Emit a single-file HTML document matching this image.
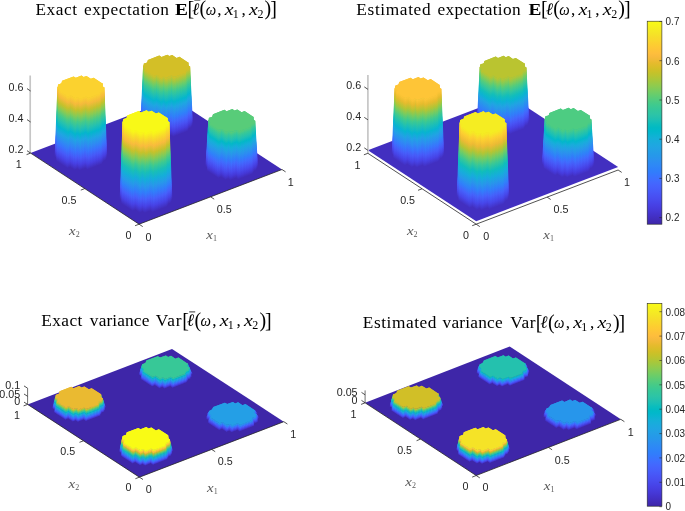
<!DOCTYPE html>
<html><head><meta charset="utf-8"><title>figure</title>
<style>
html,body{margin:0;padding:0;background:#fff}
svg{display:block}
text{font-family:"Liberation Sans",sans-serif;font-size:10.1px;fill:#262626}
text.t{font-family:"Liberation Serif",serif;fill:#000;font-size:17.3px}
text.m{font-family:"Liberation Serif",serif;font-size:12.5px;fill:#5a5a5a}
</style></head><body>
<svg width="685" height="511" viewBox="0 0 685 511">
<rect width="685" height="511" fill="#fff"/>
<defs>
<linearGradient id="sa0" gradientUnits="userSpaceOnUse"><stop offset="0" stop-color="#402bb7"/><stop offset="0.083" stop-color="#4740e4"/><stop offset="0.167" stop-color="#475af9"/><stop offset="0.25" stop-color="#3875fe"/><stop offset="0.333" stop-color="#2c8ff0"/><stop offset="0.417" stop-color="#1fa6e2"/><stop offset="0.5" stop-color="#02b7cb"/><stop offset="0.583" stop-color="#27c2ac"/><stop offset="0.667" stop-color="#4acb85"/><stop offset="0.75" stop-color="#89cb53"/><stop offset="0.833" stop-color="#c7c12a"/><stop offset="0.917" stop-color="#f6ba3b"/><stop offset="1" stop-color="#fbd22f"/></linearGradient>
<linearGradient id="sa1" gradientUnits="userSpaceOnUse"><stop offset="0" stop-color="#402bb7"/><stop offset="0.083" stop-color="#463ddf"/><stop offset="0.167" stop-color="#4853f4"/><stop offset="0.25" stop-color="#4269fe"/><stop offset="0.333" stop-color="#2f81fa"/><stop offset="0.417" stop-color="#2895ec"/><stop offset="0.5" stop-color="#1da8e0"/><stop offset="0.583" stop-color="#03b7cc"/><stop offset="0.667" stop-color="#1fc0b2"/><stop offset="0.75" stop-color="#3bc993"/><stop offset="0.833" stop-color="#69cd6b"/><stop offset="0.917" stop-color="#a1c840"/><stop offset="1" stop-color="#d3bf27"/></linearGradient>
<linearGradient id="sa2" gradientUnits="userSpaceOnUse"><stop offset="0" stop-color="#402bb7"/><stop offset="0.083" stop-color="#4743e7"/><stop offset="0.167" stop-color="#4660fc"/><stop offset="0.25" stop-color="#307ffb"/><stop offset="0.333" stop-color="#269ae9"/><stop offset="0.417" stop-color="#13b0d7"/><stop offset="0.5" stop-color="#18bfb6"/><stop offset="0.583" stop-color="#3fca8e"/><stop offset="0.667" stop-color="#83cc57"/><stop offset="0.75" stop-color="#c9c129"/><stop offset="0.833" stop-color="#fabb3d"/><stop offset="0.917" stop-color="#f8d92b"/><stop offset="1" stop-color="#f8f917"/></linearGradient>
<linearGradient id="sa3" gradientUnits="userSpaceOnUse"><stop offset="0" stop-color="#402bb7"/><stop offset="0.083" stop-color="#4539d9"/><stop offset="0.167" stop-color="#484aee"/><stop offset="0.25" stop-color="#475cfa"/><stop offset="0.333" stop-color="#3f6eff"/><stop offset="0.417" stop-color="#2f81fa"/><stop offset="0.5" stop-color="#2a92ee"/><stop offset="0.583" stop-color="#22a1e4"/><stop offset="0.667" stop-color="#15afd9"/><stop offset="0.75" stop-color="#01b9c6"/><stop offset="0.833" stop-color="#21c1b0"/><stop offset="0.917" stop-color="#37c898"/><stop offset="1" stop-color="#58cc79"/></linearGradient>
<linearGradient id="u1" href="#sa1" x1="0" y1="123.6" x2="0" y2="66.3"/>
<linearGradient id="g2" href="#sa1" x1="190.6" y1="120" x2="188.1" y2="62.6"/>
<linearGradient id="g3" href="#sa1" x1="141.8" y1="120.7" x2="144.3" y2="63.5"/>
<linearGradient id="g4" href="#sa1" x1="190.3" y1="121.3" x2="187.8" y2="63.8"/>
<linearGradient id="g5" href="#sa1" x1="141.5" y1="121.9" x2="144" y2="64.8"/>
<linearGradient id="g6" href="#sa1" x1="164.7" y1="104.5" x2="189.6" y2="66.5"/>
<linearGradient id="g7" href="#sa1" x1="190.3" y1="121.3" x2="215.2" y2="83.3"/>
<linearGradient id="g8" href="#sa1" x1="141.1" y1="123.2" x2="143.6" y2="66.1"/>
<linearGradient id="g9" href="#sa1" x1="192.1" y1="123.9" x2="189.6" y2="66.5"/>
<linearGradient id="g10" href="#sa1" x1="143" y1="125.9" x2="170.6" y2="83.7"/>
<linearGradient id="g11" href="#sa1" x1="116" y1="108.2" x2="143.6" y2="66.1"/>
<linearGradient id="g12" href="#sa1" x1="191.8" y1="125.2" x2="189.2" y2="67.7"/>
<linearGradient id="g13" href="#sa1" x1="143" y1="125.9" x2="145.5" y2="68.7"/>
<linearGradient id="g14" href="#sa1" x1="191.4" y1="126.5" x2="188.9" y2="69"/>
<linearGradient id="g15" href="#sa1" x1="142.6" y1="127.1" x2="145.1" y2="70"/>
<linearGradient id="g16" href="#sa1" x1="208.8" y1="120.9" x2="188.9" y2="69"/>
<linearGradient id="g17" href="#sa1" x1="188.2" y1="128.8" x2="168.3" y2="76.9"/>
<linearGradient id="g18" href="#sa1" x1="144.4" y1="129.8" x2="172.1" y2="87.6"/>
<linearGradient id="g19" href="#sa1" x1="117.5" y1="112.1" x2="145.1" y2="70"/>
<linearGradient id="g20" href="#sa1" x1="188.2" y1="128.8" x2="185.7" y2="71.4"/>
<linearGradient id="g21" href="#sa1" x1="146.6" y1="131.2" x2="174.2" y2="89.1"/>
<linearGradient id="g22" href="#sa1" x1="119.7" y1="113.6" x2="147.3" y2="71.4"/>
<linearGradient id="g23" href="#sa1" x1="187.9" y1="130.1" x2="185.4" y2="72.6"/>
<linearGradient id="g24" href="#sa1" x1="205.2" y1="124.5" x2="185.4" y2="72.6"/>
<linearGradient id="g25" href="#sa1" x1="184.7" y1="132.4" x2="164.8" y2="80.5"/>
<linearGradient id="g26" href="#sa1" x1="148.8" y1="132.6" x2="176.4" y2="90.5"/>
<linearGradient id="g27" href="#sa1" x1="121.8" y1="115" x2="149.5" y2="72.8"/>
<linearGradient id="g28" href="#sa1" x1="202.4" y1="125.6" x2="182.5" y2="73.7"/>
<linearGradient id="g29" href="#sa1" x1="181.8" y1="133.5" x2="161.9" y2="81.6"/>
<linearGradient id="g30" href="#sa1" x1="151" y1="134.1" x2="178.6" y2="91.9"/>
<linearGradient id="g31" href="#sa1" x1="124" y1="116.4" x2="151.6" y2="74.3"/>
<linearGradient id="g32" href="#sa1" x1="156" y1="134.4" x2="183.6" y2="92.2"/>
<linearGradient id="g33" href="#sa1" x1="156" y1="134.4" x2="136.1" y2="82.5"/>
<linearGradient id="g34" href="#sa1" x1="199.5" y1="126.7" x2="179.6" y2="74.8"/>
<linearGradient id="g35" href="#sa1" x1="179" y1="134.6" x2="159.1" y2="82.7"/>
<linearGradient id="g36" href="#sa1" x1="171.1" y1="135.4" x2="198.7" y2="93.2"/>
<linearGradient id="g37" href="#sa1" x1="171.1" y1="135.4" x2="151.2" y2="83.4"/>
<linearGradient id="g38" href="#sa1" x1="173.7" y1="127.6" x2="153.8" y2="75.7"/>
<linearGradient id="g39" href="#sa1" x1="126.2" y1="117.8" x2="153.8" y2="75.7"/>
<linearGradient id="g40" href="#sa1" x1="196.7" y1="127.8" x2="176.8" y2="75.9"/>
<linearGradient id="g41" href="#sa1" x1="176.1" y1="135.7" x2="156.2" y2="83.8"/>
<linearGradient id="g42" href="#sa1" x1="158.2" y1="135.8" x2="185.8" y2="93.7"/>
<linearGradient id="g43" href="#sa1" x1="131.2" y1="118.2" x2="158.8" y2="76"/>
<linearGradient id="g44" href="#sa1" x1="163.2" y1="136.1" x2="190.8" y2="94"/>
<linearGradient id="g45" href="#sa1" x1="163.2" y1="136.1" x2="143.3" y2="84.2"/>
<linearGradient id="g46" href="#sa1" x1="188.8" y1="128.6" x2="168.9" y2="76.7"/>
<linearGradient id="g47" href="#sa1" x1="168.2" y1="136.5" x2="148.3" y2="84.5"/>
<linearGradient id="g48" href="#sa1" x1="193.8" y1="128.9" x2="173.9" y2="77"/>
<linearGradient id="g49" href="#sa1" x1="146.3" y1="119.1" x2="173.9" y2="77"/>
<linearGradient id="g50" href="#sa1" x1="180.9" y1="129.4" x2="161" y2="77.4"/>
<linearGradient id="g51" href="#sa1" x1="133.4" y1="119.6" x2="161" y2="77.4"/>
<linearGradient id="g52" href="#sa1" x1="185.9" y1="129.7" x2="166" y2="77.8"/>
<linearGradient id="g53" href="#sa1" x1="138.4" y1="119.9" x2="166" y2="77.8"/>
<linearGradient id="u54" href="#sa0" x1="0" y1="156.4" x2="0" y2="87.1"/>
<linearGradient id="g55" href="#sa0" x1="104.9" y1="152.8" x2="102.4" y2="83.4"/>
<linearGradient id="g56" href="#sa0" x1="56.1" y1="153.5" x2="58.6" y2="84.4"/>
<linearGradient id="g57" href="#sa0" x1="104.5" y1="154.1" x2="102" y2="84.7"/>
<linearGradient id="g58" href="#sa0" x1="55.7" y1="154.7" x2="58.3" y2="85.7"/>
<linearGradient id="g59" href="#sa0" x1="73.5" y1="133.7" x2="103.9" y2="87.4"/>
<linearGradient id="g60" href="#sa0" x1="104.5" y1="154.1" x2="134.9" y2="107.7"/>
<linearGradient id="g61" href="#sa0" x1="55.4" y1="156" x2="57.9" y2="86.9"/>
<linearGradient id="g62" href="#sa0" x1="106.4" y1="156.8" x2="103.9" y2="87.4"/>
<linearGradient id="g63" href="#sa0" x1="57.2" y1="158.7" x2="90.3" y2="108.2"/>
<linearGradient id="g64" href="#sa0" x1="24.8" y1="137.4" x2="57.9" y2="86.9"/>
<linearGradient id="g65" href="#sa0" x1="106" y1="158" x2="103.5" y2="88.6"/>
<linearGradient id="g66" href="#sa0" x1="57.2" y1="158.7" x2="59.7" y2="89.6"/>
<linearGradient id="g67" href="#sa0" x1="105.7" y1="159.3" x2="103.2" y2="89.9"/>
<linearGradient id="g68" href="#sa0" x1="56.9" y1="159.9" x2="59.4" y2="90.9"/>
<linearGradient id="g69" href="#sa0" x1="127" y1="152.2" x2="103.2" y2="89.9"/>
<linearGradient id="g70" href="#sa0" x1="102.5" y1="161.6" x2="78.6" y2="99.3"/>
<linearGradient id="g71" href="#sa0" x1="58.7" y1="162.6" x2="91.8" y2="112.1"/>
<linearGradient id="g72" href="#sa0" x1="26.3" y1="141.4" x2="59.4" y2="90.9"/>
<linearGradient id="g73" href="#sa0" x1="102.5" y1="161.6" x2="100" y2="92.2"/>
<linearGradient id="g74" href="#sa0" x1="60.9" y1="164" x2="94" y2="113.5"/>
<linearGradient id="g75" href="#sa0" x1="28.5" y1="142.8" x2="61.6" y2="92.3"/>
<linearGradient id="g76" href="#sa0" x1="102.1" y1="162.9" x2="99.6" y2="93.5"/>
<linearGradient id="g77" href="#sa0" x1="123.5" y1="155.8" x2="99.6" y2="93.5"/>
<linearGradient id="g78" href="#sa0" x1="98.9" y1="165.2" x2="75.1" y2="102.9"/>
<linearGradient id="g79" href="#sa0" x1="63" y1="165.5" x2="96.1" y2="114.9"/>
<linearGradient id="g80" href="#sa0" x1="30.6" y1="144.2" x2="63.7" y2="93.7"/>
<linearGradient id="g81" href="#sa0" x1="120.6" y1="156.9" x2="96.8" y2="94.6"/>
<linearGradient id="g82" href="#sa0" x1="96.1" y1="166.3" x2="72.2" y2="104"/>
<linearGradient id="g83" href="#sa0" x1="65.2" y1="166.9" x2="98.3" y2="116.4"/>
<linearGradient id="g84" href="#sa0" x1="32.8" y1="145.6" x2="65.9" y2="95.1"/>
<linearGradient id="g85" href="#sa0" x1="70.2" y1="167.2" x2="103.3" y2="116.7"/>
<linearGradient id="g86" href="#sa0" x1="70.2" y1="167.2" x2="46.4" y2="104.9"/>
<linearGradient id="g87" href="#sa0" x1="117.8" y1="158" x2="93.9" y2="95.7"/>
<linearGradient id="g88" href="#sa0" x1="93.2" y1="167.4" x2="69.3" y2="105.1"/>
<linearGradient id="g89" href="#sa0" x1="85.3" y1="168.2" x2="118.4" y2="117.7"/>
<linearGradient id="g90" href="#sa0" x1="85.3" y1="168.2" x2="61.5" y2="105.8"/>
<linearGradient id="g91" href="#sa0" x1="91.9" y1="158.9" x2="68.1" y2="96.5"/>
<linearGradient id="g92" href="#sa0" x1="35" y1="147.1" x2="68.1" y2="96.5"/>
<linearGradient id="g93" href="#sa0" x1="114.9" y1="159.1" x2="91" y2="96.8"/>
<linearGradient id="g94" href="#sa0" x1="90.4" y1="168.5" x2="66.5" y2="106.2"/>
<linearGradient id="g95" href="#sa0" x1="72.4" y1="168.6" x2="105.5" y2="118.1"/>
<linearGradient id="g96" href="#sa0" x1="40" y1="147.4" x2="73.1" y2="96.9"/>
<linearGradient id="g97" href="#sa0" x1="77.4" y1="169" x2="110.5" y2="118.4"/>
<linearGradient id="g98" href="#sa0" x1="77.4" y1="169" x2="53.6" y2="106.6"/>
<linearGradient id="g99" href="#sa0" x1="107" y1="159.9" x2="83.2" y2="97.5"/>
<linearGradient id="g100" href="#sa0" x1="82.5" y1="169.3" x2="58.6" y2="106.9"/>
<linearGradient id="g101" href="#sa0" x1="112.1" y1="160.2" x2="88.2" y2="97.9"/>
<linearGradient id="g102" href="#sa0" x1="55.1" y1="148.4" x2="88.2" y2="97.9"/>
<linearGradient id="g103" href="#sa0" x1="99.1" y1="160.7" x2="75.3" y2="98.3"/>
<linearGradient id="g104" href="#sa0" x1="42.2" y1="148.8" x2="75.3" y2="98.3"/>
<linearGradient id="g105" href="#sa0" x1="104.2" y1="161" x2="80.3" y2="98.6"/>
<linearGradient id="g106" href="#sa0" x1="47.2" y1="149.1" x2="80.3" y2="98.6"/>
<linearGradient id="u107" href="#sa3" x1="0" y1="166.2" x2="0" y2="120.6"/>
<linearGradient id="g108" href="#sa3" x1="255.7" y1="162.7" x2="253.2" y2="116.9"/>
<linearGradient id="g109" href="#sa3" x1="206.9" y1="163.3" x2="209.4" y2="117.8"/>
<linearGradient id="g110" href="#sa3" x1="255.4" y1="163.9" x2="252.9" y2="118.1"/>
<linearGradient id="g111" href="#sa3" x1="206.6" y1="164.6" x2="209.1" y2="119.1"/>
<linearGradient id="g112" href="#sa3" x1="235.1" y1="150.7" x2="254.7" y2="120.8"/>
<linearGradient id="g113" href="#sa3" x1="255.4" y1="163.9" x2="274.9" y2="134.1"/>
<linearGradient id="g114" href="#sa3" x1="206.2" y1="165.8" x2="208.8" y2="120.4"/>
<linearGradient id="g115" href="#sa3" x1="257.2" y1="166.6" x2="254.7" y2="120.8"/>
<linearGradient id="g116" href="#sa3" x1="208.1" y1="168.5" x2="230.3" y2="134.5"/>
<linearGradient id="g117" href="#sa3" x1="186.5" y1="154.4" x2="208.8" y2="120.4"/>
<linearGradient id="g118" href="#sa3" x1="256.9" y1="167.9" x2="254.3" y2="122.1"/>
<linearGradient id="g119" href="#sa3" x1="208.1" y1="168.5" x2="210.6" y2="123"/>
<linearGradient id="g120" href="#sa3" x1="256.5" y1="169.1" x2="254" y2="123.3"/>
<linearGradient id="g121" href="#sa3" x1="207.7" y1="169.8" x2="210.2" y2="124.3"/>
<linearGradient id="g122" href="#sa3" x1="270" y1="165.1" x2="254" y2="123.3"/>
<linearGradient id="g123" href="#sa3" x1="253.3" y1="171.5" x2="237.3" y2="129.7"/>
<linearGradient id="g124" href="#sa3" x1="209.5" y1="172.5" x2="231.8" y2="138.4"/>
<linearGradient id="g125" href="#sa3" x1="187.9" y1="158.3" x2="210.2" y2="124.3"/>
<linearGradient id="g126" href="#sa3" x1="253.3" y1="171.5" x2="250.8" y2="125.7"/>
<linearGradient id="g127" href="#sa3" x1="211.7" y1="173.9" x2="234" y2="139.9"/>
<linearGradient id="g128" href="#sa3" x1="190.1" y1="159.7" x2="212.4" y2="125.7"/>
<linearGradient id="g129" href="#sa3" x1="253" y1="172.7" x2="250.5" y2="126.9"/>
<linearGradient id="g130" href="#sa3" x1="266.4" y1="168.7" x2="250.5" y2="126.9"/>
<linearGradient id="g131" href="#sa3" x1="249.8" y1="175.1" x2="233.8" y2="133.3"/>
<linearGradient id="g132" href="#sa3" x1="213.9" y1="175.3" x2="236.2" y2="141.3"/>
<linearGradient id="g133" href="#sa3" x1="192.3" y1="161.1" x2="214.6" y2="127.1"/>
<linearGradient id="g134" href="#sa3" x1="263.6" y1="169.8" x2="247.6" y2="128"/>
<linearGradient id="g135" href="#sa3" x1="246.9" y1="176.2" x2="230.9" y2="134.4"/>
<linearGradient id="g136" href="#sa3" x1="216.1" y1="176.7" x2="238.3" y2="142.7"/>
<linearGradient id="g137" href="#sa3" x1="194.5" y1="162.6" x2="216.7" y2="128.6"/>
<linearGradient id="g138" href="#sa3" x1="221.1" y1="177" x2="243.4" y2="143"/>
<linearGradient id="g139" href="#sa3" x1="221.1" y1="177" x2="205.1" y2="135.3"/>
<linearGradient id="g140" href="#sa3" x1="260.7" y1="170.9" x2="244.7" y2="129.1"/>
<linearGradient id="g141" href="#sa3" x1="244.1" y1="177.3" x2="228.1" y2="135.5"/>
<linearGradient id="g142" href="#sa3" x1="236.2" y1="178" x2="258.5" y2="144"/>
<linearGradient id="g143" href="#sa3" x1="236.2" y1="178" x2="220.2" y2="136.3"/>
<linearGradient id="g144" href="#sa3" x1="234.9" y1="171.8" x2="218.9" y2="130"/>
<linearGradient id="g145" href="#sa3" x1="196.6" y1="164" x2="218.9" y2="130"/>
<linearGradient id="g146" href="#sa3" x1="257.9" y1="172" x2="241.9" y2="130.2"/>
<linearGradient id="g147" href="#sa3" x1="241.2" y1="178.4" x2="225.2" y2="136.6"/>
<linearGradient id="g148" href="#sa3" x1="223.3" y1="178.5" x2="245.5" y2="144.5"/>
<linearGradient id="g149" href="#sa3" x1="201.7" y1="164.3" x2="223.9" y2="130.3"/>
<linearGradient id="g150" href="#sa3" x1="228.3" y1="178.8" x2="250.6" y2="144.8"/>
<linearGradient id="g151" href="#sa3" x1="228.3" y1="178.8" x2="212.3" y2="137"/>
<linearGradient id="g152" href="#sa3" x1="250" y1="172.7" x2="234" y2="131"/>
<linearGradient id="g153" href="#sa3" x1="233.3" y1="179.1" x2="217.3" y2="137.4"/>
<linearGradient id="g154" href="#sa3" x1="255" y1="173.1" x2="239" y2="131.3"/>
<linearGradient id="g155" href="#sa3" x1="216.7" y1="165.3" x2="239" y2="131.3"/>
<linearGradient id="g156" href="#sa3" x1="242.1" y1="173.5" x2="226.1" y2="131.7"/>
<linearGradient id="g157" href="#sa3" x1="203.8" y1="165.7" x2="226.1" y2="131.7"/>
<linearGradient id="g158" href="#sa3" x1="247.1" y1="173.8" x2="231.1" y2="132.1"/>
<linearGradient id="g159" href="#sa3" x1="208.9" y1="166.1" x2="231.1" y2="132.1"/>
<linearGradient id="u160" href="#sa2" x1="0" y1="199" x2="0" y2="121.9"/>
<linearGradient id="g161" href="#sa2" x1="170" y1="195.5" x2="167.5" y2="118.2"/>
<linearGradient id="g162" href="#sa2" x1="121.2" y1="196.1" x2="123.7" y2="119.1"/>
<linearGradient id="g163" href="#sa2" x1="169.6" y1="196.7" x2="167.1" y2="119.4"/>
<linearGradient id="g164" href="#sa2" x1="120.8" y1="197.4" x2="123.4" y2="120.4"/>
<linearGradient id="g165" href="#sa2" x1="134.9" y1="174" x2="168.9" y2="122.1"/>
<linearGradient id="g166" href="#sa2" x1="169.6" y1="196.7" x2="203.7" y2="144.8"/>
<linearGradient id="g167" href="#sa2" x1="120.5" y1="198.7" x2="123" y2="121.7"/>
<linearGradient id="g168" href="#sa2" x1="171.5" y1="199.4" x2="168.9" y2="122.1"/>
<linearGradient id="g169" href="#sa2" x1="122.3" y1="201.3" x2="159.1" y2="145.3"/>
<linearGradient id="g170" href="#sa2" x1="86.3" y1="177.7" x2="123" y2="121.7"/>
<linearGradient id="g171" href="#sa2" x1="171.1" y1="200.7" x2="168.6" y2="123.4"/>
<linearGradient id="g172" href="#sa2" x1="122.3" y1="201.3" x2="124.8" y2="124.3"/>
<linearGradient id="g173" href="#sa2" x1="170.8" y1="201.9" x2="168.3" y2="124.6"/>
<linearGradient id="g174" href="#sa2" x1="122" y1="202.6" x2="124.5" y2="125.6"/>
<linearGradient id="g175" href="#sa2" x1="194.8" y1="193.9" x2="168.3" y2="124.6"/>
<linearGradient id="g176" href="#sa2" x1="167.6" y1="204.3" x2="141.1" y2="135"/>
<linearGradient id="g177" href="#sa2" x1="123.8" y1="205.3" x2="160.5" y2="149.2"/>
<linearGradient id="g178" href="#sa2" x1="87.8" y1="181.7" x2="124.5" y2="125.6"/>
<linearGradient id="g179" href="#sa2" x1="167.6" y1="204.3" x2="165.1" y2="127"/>
<linearGradient id="g180" href="#sa2" x1="126" y1="206.7" x2="162.7" y2="150.6"/>
<linearGradient id="g181" href="#sa2" x1="89.9" y1="183.1" x2="126.7" y2="127"/>
<linearGradient id="g182" href="#sa2" x1="167.2" y1="205.5" x2="164.7" y2="128.2"/>
<linearGradient id="g183" href="#sa2" x1="191.2" y1="197.5" x2="164.7" y2="128.2"/>
<linearGradient id="g184" href="#sa2" x1="164" y1="207.9" x2="137.5" y2="138.6"/>
<linearGradient id="g185" href="#sa2" x1="128.1" y1="208.1" x2="164.9" y2="152.1"/>
<linearGradient id="g186" href="#sa2" x1="92.1" y1="184.5" x2="128.8" y2="128.4"/>
<linearGradient id="g187" href="#sa2" x1="188.4" y1="198.6" x2="161.9" y2="129.3"/>
<linearGradient id="g188" href="#sa2" x1="161.2" y1="209" x2="134.7" y2="139.7"/>
<linearGradient id="g189" href="#sa2" x1="130.3" y1="209.5" x2="167" y2="153.5"/>
<linearGradient id="g190" href="#sa2" x1="94.3" y1="185.9" x2="131" y2="129.9"/>
<linearGradient id="g191" href="#sa2" x1="135.3" y1="209.9" x2="172.1" y2="153.8"/>
<linearGradient id="g192" href="#sa2" x1="135.3" y1="209.9" x2="108.8" y2="140.6"/>
<linearGradient id="g193" href="#sa2" x1="185.5" y1="199.7" x2="159" y2="130.4"/>
<linearGradient id="g194" href="#sa2" x1="158.3" y1="210.1" x2="131.8" y2="140.8"/>
<linearGradient id="g195" href="#sa2" x1="150.4" y1="210.9" x2="187.2" y2="154.8"/>
<linearGradient id="g196" href="#sa2" x1="150.4" y1="210.9" x2="123.9" y2="141.6"/>
<linearGradient id="g197" href="#sa2" x1="159.7" y1="200.6" x2="133.2" y2="131.3"/>
<linearGradient id="g198" href="#sa2" x1="96.4" y1="187.3" x2="133.2" y2="131.3"/>
<linearGradient id="g199" href="#sa2" x1="182.7" y1="200.8" x2="156.1" y2="131.5"/>
<linearGradient id="g200" href="#sa2" x1="155.5" y1="211.2" x2="128.9" y2="141.9"/>
<linearGradient id="g201" href="#sa2" x1="137.5" y1="211.3" x2="174.2" y2="155.2"/>
<linearGradient id="g202" href="#sa2" x1="101.5" y1="187.7" x2="138.2" y2="131.6"/>
<linearGradient id="g203" href="#sa2" x1="142.5" y1="211.6" x2="179.3" y2="155.6"/>
<linearGradient id="g204" href="#sa2" x1="142.5" y1="211.6" x2="116" y2="142.4"/>
<linearGradient id="g205" href="#sa2" x1="174.8" y1="201.5" x2="148.3" y2="132.3"/>
<linearGradient id="g206" href="#sa2" x1="147.6" y1="211.9" x2="121.1" y2="142.7"/>
<linearGradient id="g207" href="#sa2" x1="179.8" y1="201.9" x2="153.3" y2="132.6"/>
<linearGradient id="g208" href="#sa2" x1="116.6" y1="188.7" x2="153.3" y2="132.6"/>
<linearGradient id="g209" href="#sa2" x1="166.9" y1="202.3" x2="140.4" y2="133"/>
<linearGradient id="g210" href="#sa2" x1="103.6" y1="189.1" x2="140.4" y2="133"/>
<linearGradient id="g211" href="#sa2" x1="171.9" y1="202.6" x2="145.4" y2="133.4"/>
<linearGradient id="g212" href="#sa2" x1="108.7" y1="189.4" x2="145.4" y2="133.4"/>
<linearGradient id="sb0" gradientUnits="userSpaceOnUse"><stop offset="0" stop-color="#422fc0"/><stop offset="0.083" stop-color="#4744e8"/><stop offset="0.167" stop-color="#475cfa"/><stop offset="0.25" stop-color="#3876fe"/><stop offset="0.333" stop-color="#2c8ff1"/><stop offset="0.417" stop-color="#20a4e3"/><stop offset="0.5" stop-color="#06b5cf"/><stop offset="0.583" stop-color="#1fc0b2"/><stop offset="0.667" stop-color="#3eca8f"/><stop offset="0.75" stop-color="#75cc61"/><stop offset="0.833" stop-color="#b3c534"/><stop offset="0.917" stop-color="#e6bb2d"/><stop offset="1" stop-color="#fec537"/></linearGradient>
<linearGradient id="sb1" gradientUnits="userSpaceOnUse"><stop offset="0" stop-color="#422fc0"/><stop offset="0.083" stop-color="#4740e3"/><stop offset="0.167" stop-color="#4854f6"/><stop offset="0.25" stop-color="#426afe"/><stop offset="0.333" stop-color="#3080fa"/><stop offset="0.417" stop-color="#2993ed"/><stop offset="0.5" stop-color="#20a5e2"/><stop offset="0.583" stop-color="#0ab4d2"/><stop offset="0.667" stop-color="#11beba"/><stop offset="0.75" stop-color="#32c69f"/><stop offset="0.833" stop-color="#54cc7c"/><stop offset="0.917" stop-color="#87cb54"/><stop offset="1" stop-color="#bac430"/></linearGradient>
<linearGradient id="sb2" gradientUnits="userSpaceOnUse"><stop offset="0" stop-color="#422fc0"/><stop offset="0.083" stop-color="#4747eb"/><stop offset="0.167" stop-color="#4562fc"/><stop offset="0.25" stop-color="#3080fb"/><stop offset="0.333" stop-color="#2699e9"/><stop offset="0.417" stop-color="#15afd9"/><stop offset="0.5" stop-color="#0fbeba"/><stop offset="0.583" stop-color="#39c895"/><stop offset="0.667" stop-color="#73cd63"/><stop offset="0.75" stop-color="#b8c431"/><stop offset="0.833" stop-color="#eeba34"/><stop offset="0.917" stop-color="#fdce31"/><stop offset="1" stop-color="#f5ed22"/></linearGradient>
<linearGradient id="sb3" gradientUnits="userSpaceOnUse"><stop offset="0" stop-color="#422fc0"/><stop offset="0.083" stop-color="#463cdf"/><stop offset="0.167" stop-color="#484df0"/><stop offset="0.25" stop-color="#465efb"/><stop offset="0.333" stop-color="#3e70ff"/><stop offset="0.417" stop-color="#2f82f9"/><stop offset="0.5" stop-color="#2a92ee"/><stop offset="0.583" stop-color="#23a1e4"/><stop offset="0.667" stop-color="#17aeda"/><stop offset="0.75" stop-color="#01b8c9"/><stop offset="0.833" stop-color="#1bc0b4"/><stop offset="0.917" stop-color="#33c69e"/><stop offset="1" stop-color="#4dcc82"/></linearGradient>
<linearGradient id="u213" href="#sb1" x1="0" y1="121.1" x2="0" y2="67.3"/>
<linearGradient id="g214" href="#sb1" x1="481.6" y1="115.9" x2="464.4" y2="70.8"/>
<linearGradient id="g215" href="#sb1" x1="498.1" y1="109.5" x2="480.9" y2="64.5"/>
<linearGradient id="g216" href="#sb1" x1="526.9" y1="117.6" x2="524.4" y2="63.6"/>
<linearGradient id="g217" href="#sb1" x1="478.4" y1="118.2" x2="480.9" y2="64.5"/>
<linearGradient id="g218" href="#sb1" x1="526.6" y1="118.9" x2="524.1" y2="64.9"/>
<linearGradient id="g219" href="#sb1" x1="478.1" y1="119.4" x2="480.6" y2="65.8"/>
<linearGradient id="g220" href="#sb1" x1="502.6" y1="103.2" x2="525.9" y2="67.5"/>
<linearGradient id="g221" href="#sb1" x1="526.6" y1="118.9" x2="549.9" y2="83.2"/>
<linearGradient id="g222" href="#sb1" x1="477.7" y1="120.7" x2="480.2" y2="67"/>
<linearGradient id="g223" href="#sb1" x1="528.4" y1="121.5" x2="525.9" y2="67.5"/>
<linearGradient id="g224" href="#sb1" x1="479.6" y1="123.4" x2="505.6" y2="83.6"/>
<linearGradient id="g225" href="#sb1" x1="454.2" y1="106.8" x2="480.2" y2="67"/>
<linearGradient id="g226" href="#sb1" x1="528.1" y1="122.8" x2="525.6" y2="68.8"/>
<linearGradient id="g227" href="#sb1" x1="479.6" y1="123.4" x2="482.1" y2="69.7"/>
<linearGradient id="g228" href="#sb1" x1="527.8" y1="124" x2="525.3" y2="70"/>
<linearGradient id="g229" href="#sb1" x1="479.2" y1="124.6" x2="481.7" y2="71"/>
<linearGradient id="g230" href="#sb1" x1="544" y1="119" x2="525.3" y2="70"/>
<linearGradient id="g231" href="#sb1" x1="524.6" y1="126.4" x2="505.9" y2="77.4"/>
<linearGradient id="g232" href="#sb1" x1="481" y1="127.3" x2="507.1" y2="87.5"/>
<linearGradient id="g233" href="#sb1" x1="455.7" y1="110.7" x2="481.7" y2="71"/>
<linearGradient id="g234" href="#sb1" x1="524.6" y1="126.4" x2="522.1" y2="72.4"/>
<linearGradient id="g235" href="#sb1" x1="483.2" y1="128.7" x2="509.2" y2="89"/>
<linearGradient id="g236" href="#sb1" x1="457.9" y1="112.1" x2="483.9" y2="72.4"/>
<linearGradient id="g237" href="#sb1" x1="524.3" y1="127.6" x2="521.8" y2="73.6"/>
<linearGradient id="g238" href="#sb1" x1="540.4" y1="122.6" x2="521.8" y2="73.6"/>
<linearGradient id="g239" href="#sb1" x1="521.1" y1="130" x2="502.4" y2="81"/>
<linearGradient id="g240" href="#sb1" x1="485.4" y1="130.1" x2="511.4" y2="90.4"/>
<linearGradient id="g241" href="#sb1" x1="460" y1="113.5" x2="486.1" y2="73.8"/>
<linearGradient id="g242" href="#sb1" x1="537.6" y1="123.6" x2="518.9" y2="74.7"/>
<linearGradient id="g243" href="#sb1" x1="518.2" y1="131" x2="499.5" y2="82.1"/>
<linearGradient id="g244" href="#sb1" x1="487.5" y1="131.5" x2="513.6" y2="91.8"/>
<linearGradient id="g245" href="#sb1" x1="462.2" y1="114.9" x2="488.2" y2="75.2"/>
<linearGradient id="g246" href="#sb1" x1="492.6" y1="131.9" x2="518.6" y2="92.1"/>
<linearGradient id="g247" href="#sb1" x1="492.6" y1="131.9" x2="473.9" y2="82.9"/>
<linearGradient id="g248" href="#sb1" x1="534.8" y1="124.7" x2="516.1" y2="75.8"/>
<linearGradient id="g249" href="#sb1" x1="515.4" y1="132.1" x2="496.7" y2="83.2"/>
<linearGradient id="g250" href="#sb1" x1="507.6" y1="132.9" x2="533.6" y2="93.1"/>
<linearGradient id="g251" href="#sb1" x1="507.6" y1="132.9" x2="488.9" y2="83.9"/>
<linearGradient id="g252" href="#sb1" x1="509.1" y1="125.6" x2="490.4" y2="76.6"/>
<linearGradient id="g253" href="#sb1" x1="464.4" y1="116.4" x2="490.4" y2="76.6"/>
<linearGradient id="g254" href="#sb1" x1="531.9" y1="125.8" x2="513.2" y2="76.9"/>
<linearGradient id="g255" href="#sb1" x1="512.6" y1="133.2" x2="493.9" y2="84.3"/>
<linearGradient id="g256" href="#sb1" x1="494.7" y1="133.3" x2="520.7" y2="93.5"/>
<linearGradient id="g257" href="#sb1" x1="469.4" y1="116.7" x2="495.4" y2="77"/>
<linearGradient id="g258" href="#sb1" x1="499.7" y1="133.6" x2="525.7" y2="93.9"/>
<linearGradient id="g259" href="#sb1" x1="499.7" y1="133.6" x2="481" y2="84.7"/>
<linearGradient id="g260" href="#sb1" x1="524.1" y1="126.6" x2="505.4" y2="77.6"/>
<linearGradient id="g261" href="#sb1" x1="504.7" y1="134" x2="486" y2="85"/>
<linearGradient id="g262" href="#sb1" x1="529.1" y1="126.9" x2="510.4" y2="78"/>
<linearGradient id="g263" href="#sb1" x1="484.4" y1="117.7" x2="510.4" y2="78"/>
<linearGradient id="g264" href="#sb1" x1="516.2" y1="127.3" x2="497.6" y2="78.4"/>
<linearGradient id="g265" href="#sb1" x1="471.5" y1="118.1" x2="497.6" y2="78.4"/>
<linearGradient id="g266" href="#sb1" x1="521.3" y1="127.6" x2="502.6" y2="78.7"/>
<linearGradient id="g267" href="#sb1" x1="476.5" y1="118.5" x2="502.6" y2="78.7"/>
<linearGradient id="u268" href="#sb0" x1="0" y1="153.6" x2="0" y2="88.5"/>
<linearGradient id="g269" href="#sb0" x1="396.4" y1="148.4" x2="375.5" y2="93.5"/>
<linearGradient id="g270" href="#sb0" x1="416.7" y1="140.6" x2="395.8" y2="85.8"/>
<linearGradient id="g271" href="#sb0" x1="441.8" y1="150.1" x2="439.3" y2="84.9"/>
<linearGradient id="g272" href="#sb0" x1="393.3" y1="150.7" x2="395.8" y2="85.8"/>
<linearGradient id="g273" href="#sb0" x1="441.5" y1="151.4" x2="439" y2="86.1"/>
<linearGradient id="g274" href="#sb0" x1="392.9" y1="152" x2="395.4" y2="87"/>
<linearGradient id="g275" href="#sb0" x1="412.3" y1="132.3" x2="440.8" y2="88.8"/>
<linearGradient id="g276" href="#sb0" x1="441.5" y1="151.4" x2="470" y2="107.9"/>
<linearGradient id="g277" href="#sb0" x1="392.6" y1="153.2" x2="395.1" y2="88.3"/>
<linearGradient id="g278" href="#sb0" x1="443.3" y1="154.1" x2="440.8" y2="88.8"/>
<linearGradient id="g279" href="#sb0" x1="394.4" y1="155.9" x2="425.6" y2="108.2"/>
<linearGradient id="g280" href="#sb0" x1="363.9" y1="135.9" x2="395.1" y2="88.3"/>
<linearGradient id="g281" href="#sb0" x1="443" y1="155.3" x2="440.5" y2="90"/>
<linearGradient id="g282" href="#sb0" x1="394.4" y1="155.9" x2="396.9" y2="90.9"/>
<linearGradient id="g283" href="#sb0" x1="442.6" y1="156.6" x2="440.1" y2="91.3"/>
<linearGradient id="g284" href="#sb0" x1="394.1" y1="157.1" x2="396.6" y2="92.2"/>
<linearGradient id="g285" href="#sb0" x1="462.6" y1="150.1" x2="440.1" y2="91.3"/>
<linearGradient id="g286" href="#sb0" x1="439.5" y1="158.9" x2="417" y2="100.1"/>
<linearGradient id="g287" href="#sb0" x1="395.9" y1="159.8" x2="427.1" y2="112.2"/>
<linearGradient id="g288" href="#sb0" x1="365.4" y1="139.8" x2="396.6" y2="92.2"/>
<linearGradient id="g289" href="#sb0" x1="439.5" y1="158.9" x2="436.9" y2="93.6"/>
<linearGradient id="g290" href="#sb0" x1="398.1" y1="161.2" x2="429.3" y2="113.6"/>
<linearGradient id="g291" href="#sb0" x1="367.6" y1="141.2" x2="398.7" y2="93.6"/>
<linearGradient id="g292" href="#sb0" x1="439.1" y1="160.1" x2="436.6" y2="94.9"/>
<linearGradient id="g293" href="#sb0" x1="459.1" y1="153.6" x2="436.6" y2="94.9"/>
<linearGradient id="g294" href="#sb0" x1="435.9" y1="162.5" x2="413.5" y2="103.7"/>
<linearGradient id="g295" href="#sb0" x1="400.2" y1="162.6" x2="431.4" y2="115"/>
<linearGradient id="g296" href="#sb0" x1="369.7" y1="142.7" x2="400.9" y2="95"/>
<linearGradient id="g297" href="#sb0" x1="456.2" y1="154.7" x2="433.8" y2="95.9"/>
<linearGradient id="g298" href="#sb0" x1="433.1" y1="163.6" x2="410.6" y2="104.8"/>
<linearGradient id="g299" href="#sb0" x1="402.4" y1="164.1" x2="433.6" y2="116.4"/>
<linearGradient id="g300" href="#sb0" x1="371.9" y1="144.1" x2="403.1" y2="96.4"/>
<linearGradient id="g301" href="#sb0" x1="407.4" y1="164.4" x2="438.6" y2="116.8"/>
<linearGradient id="g302" href="#sb0" x1="407.4" y1="164.4" x2="385" y2="105.6"/>
<linearGradient id="g303" href="#sb0" x1="453.4" y1="155.8" x2="430.9" y2="97"/>
<linearGradient id="g304" href="#sb0" x1="430.3" y1="164.6" x2="407.8" y2="105.9"/>
<linearGradient id="g305" href="#sb0" x1="422.4" y1="165.4" x2="453.6" y2="117.8"/>
<linearGradient id="g306" href="#sb0" x1="422.4" y1="165.4" x2="400" y2="106.6"/>
<linearGradient id="g307" href="#sb0" x1="427.7" y1="156.6" x2="405.2" y2="97.9"/>
<linearGradient id="g308" href="#sb0" x1="374.1" y1="145.5" x2="405.2" y2="97.9"/>
<linearGradient id="g309" href="#sb0" x1="450.6" y1="156.9" x2="428.1" y2="98.1"/>
<linearGradient id="g310" href="#sb0" x1="427.4" y1="165.7" x2="405" y2="106.9"/>
<linearGradient id="g311" href="#sb0" x1="409.6" y1="165.8" x2="440.8" y2="118.2"/>
<linearGradient id="g312" href="#sb0" x1="379.1" y1="145.8" x2="410.2" y2="98.2"/>
<linearGradient id="g313" href="#sb0" x1="414.6" y1="166.1" x2="445.8" y2="118.5"/>
<linearGradient id="g314" href="#sb0" x1="414.6" y1="166.1" x2="392.1" y2="107.4"/>
<linearGradient id="g315" href="#sb0" x1="442.7" y1="157.6" x2="420.3" y2="98.9"/>
<linearGradient id="g316" href="#sb0" x1="419.6" y1="166.5" x2="397.1" y2="107.7"/>
<linearGradient id="g317" href="#sb0" x1="447.7" y1="158" x2="425.3" y2="99.2"/>
<linearGradient id="g318" href="#sb0" x1="394.1" y1="146.8" x2="425.3" y2="99.2"/>
<linearGradient id="g319" href="#sb0" x1="434.9" y1="158.4" x2="412.4" y2="99.6"/>
<linearGradient id="g320" href="#sb0" x1="381.2" y1="147.3" x2="412.4" y2="99.6"/>
<linearGradient id="g321" href="#sb0" x1="439.9" y1="158.7" x2="417.4" y2="99.9"/>
<linearGradient id="g322" href="#sb0" x1="386.2" y1="147.6" x2="417.4" y2="99.9"/>
<linearGradient id="u323" href="#sb3" x1="0" y1="163.7" x2="0" y2="119.3"/>
<linearGradient id="g324" href="#sb3" x1="546.5" y1="158.4" x2="532.5" y2="121.6"/>
<linearGradient id="g325" href="#sb3" x1="559.9" y1="153.3" x2="545.9" y2="116.5"/>
<linearGradient id="g326" href="#sb3" x1="591.9" y1="160.2" x2="589.4" y2="115.6"/>
<linearGradient id="g327" href="#sb3" x1="543.4" y1="160.7" x2="545.9" y2="116.5"/>
<linearGradient id="g328" href="#sb3" x1="591.6" y1="161.4" x2="589.1" y2="116.9"/>
<linearGradient id="g329" href="#sb3" x1="543" y1="162" x2="545.5" y2="117.8"/>
<linearGradient id="g330" href="#sb3" x1="571.9" y1="148.5" x2="590.9" y2="119.5"/>
<linearGradient id="g331" href="#sb3" x1="591.6" y1="161.4" x2="610.6" y2="132.4"/>
<linearGradient id="g332" href="#sb3" x1="542.7" y1="163.2" x2="545.2" y2="119"/>
<linearGradient id="g333" href="#sb3" x1="593.4" y1="164.1" x2="590.9" y2="119.5"/>
<linearGradient id="g334" href="#sb3" x1="544.5" y1="165.9" x2="566.2" y2="132.8"/>
<linearGradient id="g335" href="#sb3" x1="523.5" y1="152.1" x2="545.2" y2="119"/>
<linearGradient id="g336" href="#sb3" x1="593.1" y1="165.3" x2="590.6" y2="120.8"/>
<linearGradient id="g337" href="#sb3" x1="544.5" y1="165.9" x2="547" y2="121.7"/>
<linearGradient id="g338" href="#sb3" x1="592.7" y1="166.6" x2="590.2" y2="122"/>
<linearGradient id="g339" href="#sb3" x1="544.2" y1="167.2" x2="546.7" y2="122.9"/>
<linearGradient id="g340" href="#sb3" x1="605.8" y1="162.7" x2="590.2" y2="122"/>
<linearGradient id="g341" href="#sb3" x1="589.6" y1="168.9" x2="574" y2="128.2"/>
<linearGradient id="g342" href="#sb3" x1="546" y1="169.8" x2="567.7" y2="136.7"/>
<linearGradient id="g343" href="#sb3" x1="525" y1="156.1" x2="546.7" y2="122.9"/>
<linearGradient id="g344" href="#sb3" x1="589.6" y1="168.9" x2="587.1" y2="124.4"/>
<linearGradient id="g345" href="#sb3" x1="548.2" y1="171.2" x2="569.9" y2="138.1"/>
<linearGradient id="g346" href="#sb3" x1="527.2" y1="157.5" x2="548.9" y2="124.4"/>
<linearGradient id="g347" href="#sb3" x1="589.2" y1="170.2" x2="586.7" y2="125.6"/>
<linearGradient id="g348" href="#sb3" x1="602.3" y1="166.3" x2="586.7" y2="125.6"/>
<linearGradient id="g349" href="#sb3" x1="586.1" y1="172.5" x2="570.5" y2="131.8"/>
<linearGradient id="g350" href="#sb3" x1="550.4" y1="172.7" x2="572" y2="139.5"/>
<linearGradient id="g351" href="#sb3" x1="529.3" y1="158.9" x2="551" y2="125.8"/>
<linearGradient id="g352" href="#sb3" x1="599.4" y1="167.4" x2="583.9" y2="126.7"/>
<linearGradient id="g353" href="#sb3" x1="583.2" y1="173.6" x2="567.7" y2="132.9"/>
<linearGradient id="g354" href="#sb3" x1="552.5" y1="174.1" x2="574.2" y2="141"/>
<linearGradient id="g355" href="#sb3" x1="531.5" y1="160.3" x2="553.2" y2="127.2"/>
<linearGradient id="g356" href="#sb3" x1="557.5" y1="174.4" x2="579.2" y2="141.3"/>
<linearGradient id="g357" href="#sb3" x1="557.5" y1="174.4" x2="542" y2="133.7"/>
<linearGradient id="g358" href="#sb3" x1="596.6" y1="168.5" x2="581.1" y2="127.8"/>
<linearGradient id="g359" href="#sb3" x1="580.4" y1="174.7" x2="564.8" y2="134"/>
<linearGradient id="g360" href="#sb3" x1="572.5" y1="175.4" x2="594.2" y2="142.3"/>
<linearGradient id="g361" href="#sb3" x1="572.5" y1="175.4" x2="557" y2="134.7"/>
<linearGradient id="g362" href="#sb3" x1="570.9" y1="169.3" x2="555.4" y2="128.6"/>
<linearGradient id="g363" href="#sb3" x1="533.7" y1="161.7" x2="555.4" y2="128.6"/>
<linearGradient id="g364" href="#sb3" x1="593.8" y1="169.6" x2="578.2" y2="128.9"/>
<linearGradient id="g365" href="#sb3" x1="577.5" y1="175.7" x2="562" y2="135.1"/>
<linearGradient id="g366" href="#sb3" x1="559.7" y1="175.8" x2="581.4" y2="142.7"/>
<linearGradient id="g367" href="#sb3" x1="538.7" y1="162.1" x2="560.4" y2="129"/>
<linearGradient id="g368" href="#sb3" x1="564.7" y1="176.2" x2="586.4" y2="143"/>
<linearGradient id="g369" href="#sb3" x1="564.7" y1="176.2" x2="549.2" y2="135.5"/>
<linearGradient id="g370" href="#sb3" x1="585.9" y1="170.3" x2="570.4" y2="129.6"/>
<linearGradient id="g371" href="#sb3" x1="569.7" y1="176.5" x2="554.2" y2="135.8"/>
<linearGradient id="g372" href="#sb3" x1="590.9" y1="170.6" x2="575.4" y2="130"/>
<linearGradient id="g373" href="#sb3" x1="553.7" y1="163.1" x2="575.4" y2="130"/>
<linearGradient id="g374" href="#sb3" x1="578.1" y1="171.1" x2="562.5" y2="130.4"/>
<linearGradient id="g375" href="#sb3" x1="540.8" y1="163.5" x2="562.5" y2="130.4"/>
<linearGradient id="g376" href="#sb3" x1="583.1" y1="171.4" x2="567.5" y2="130.7"/>
<linearGradient id="g377" href="#sb3" x1="545.9" y1="163.8" x2="567.5" y2="130.7"/>
<linearGradient id="u378" href="#sb2" x1="0" y1="196.2" x2="0" y2="122.8"/>
<linearGradient id="g379" href="#sb2" x1="461.4" y1="190.9" x2="437.7" y2="128.9"/>
<linearGradient id="g380" href="#sb2" x1="484.4" y1="182.1" x2="460.7" y2="120.1"/>
<linearGradient id="g381" href="#sb2" x1="506.8" y1="192.7" x2="504.3" y2="119.2"/>
<linearGradient id="g382" href="#sb2" x1="458.2" y1="193.3" x2="460.7" y2="120.1"/>
<linearGradient id="g383" href="#sb2" x1="506.4" y1="193.9" x2="503.9" y2="120.4"/>
<linearGradient id="g384" href="#sb2" x1="457.9" y1="194.5" x2="460.4" y2="121.3"/>
<linearGradient id="g385" href="#sb2" x1="473.5" y1="172.4" x2="505.8" y2="123.1"/>
<linearGradient id="g386" href="#sb2" x1="506.4" y1="193.9" x2="538.7" y2="144.6"/>
<linearGradient id="g387" href="#sb2" x1="457.6" y1="195.8" x2="460.1" y2="122.6"/>
<linearGradient id="g388" href="#sb2" x1="508.3" y1="196.6" x2="505.8" y2="123.1"/>
<linearGradient id="g389" href="#sb2" x1="459.4" y1="198.4" x2="494.4" y2="145"/>
<linearGradient id="g390" href="#sb2" x1="425.1" y1="176" x2="460.1" y2="122.6"/>
<linearGradient id="g391" href="#sb2" x1="507.9" y1="197.8" x2="505.4" y2="124.3"/>
<linearGradient id="g392" href="#sb2" x1="459.4" y1="198.4" x2="461.9" y2="125.2"/>
<linearGradient id="g393" href="#sb2" x1="507.6" y1="199.1" x2="505.1" y2="125.6"/>
<linearGradient id="g394" href="#sb2" x1="459.1" y1="199.7" x2="461.6" y2="126.5"/>
<linearGradient id="g395" href="#sb2" x1="530.3" y1="191.6" x2="505.1" y2="125.6"/>
<linearGradient id="g396" href="#sb2" x1="504.4" y1="201.4" x2="479.2" y2="135.5"/>
<linearGradient id="g397" href="#sb2" x1="460.9" y1="202.3" x2="495.9" y2="148.9"/>
<linearGradient id="g398" href="#sb2" x1="426.6" y1="179.9" x2="461.6" y2="126.5"/>
<linearGradient id="g399" href="#sb2" x1="504.4" y1="201.4" x2="501.9" y2="127.9"/>
<linearGradient id="g400" href="#sb2" x1="463.1" y1="203.8" x2="498" y2="150.4"/>
<linearGradient id="g401" href="#sb2" x1="428.8" y1="181.3" x2="463.7" y2="127.9"/>
<linearGradient id="g402" href="#sb2" x1="504.1" y1="202.7" x2="501.6" y2="129.2"/>
<linearGradient id="g403" href="#sb2" x1="526.8" y1="195.1" x2="501.6" y2="129.2"/>
<linearGradient id="g404" href="#sb2" x1="500.9" y1="205" x2="475.7" y2="139"/>
<linearGradient id="g405" href="#sb2" x1="465.2" y1="205.2" x2="500.2" y2="151.8"/>
<linearGradient id="g406" href="#sb2" x1="430.9" y1="182.7" x2="465.9" y2="129.3"/>
<linearGradient id="g407" href="#sb2" x1="524" y1="196.2" x2="498.8" y2="130.2"/>
<linearGradient id="g408" href="#sb2" x1="498.1" y1="206.1" x2="472.9" y2="140.1"/>
<linearGradient id="g409" href="#sb2" x1="467.4" y1="206.6" x2="502.3" y2="153.2"/>
<linearGradient id="g410" href="#sb2" x1="433.1" y1="184.2" x2="468.1" y2="130.7"/>
<linearGradient id="g411" href="#sb2" x1="472.4" y1="206.9" x2="507.4" y2="153.5"/>
<linearGradient id="g412" href="#sb2" x1="472.4" y1="206.9" x2="447.2" y2="141"/>
<linearGradient id="g413" href="#sb2" x1="521.1" y1="197.3" x2="495.9" y2="131.3"/>
<linearGradient id="g414" href="#sb2" x1="495.2" y1="207.2" x2="470" y2="141.2"/>
<linearGradient id="g415" href="#sb2" x1="487.4" y1="207.9" x2="522.4" y2="154.5"/>
<linearGradient id="g416" href="#sb2" x1="487.4" y1="207.9" x2="462.2" y2="142"/>
<linearGradient id="g417" href="#sb2" x1="495.4" y1="198.1" x2="470.2" y2="132.2"/>
<linearGradient id="g418" href="#sb2" x1="435.3" y1="185.6" x2="470.2" y2="132.2"/>
<linearGradient id="g419" href="#sb2" x1="518.3" y1="198.4" x2="493.1" y2="132.4"/>
<linearGradient id="g420" href="#sb2" x1="492.4" y1="208.3" x2="467.2" y2="142.3"/>
<linearGradient id="g421" href="#sb2" x1="474.6" y1="208.4" x2="509.5" y2="154.9"/>
<linearGradient id="g422" href="#sb2" x1="440.3" y1="185.9" x2="475.2" y2="132.5"/>
<linearGradient id="g423" href="#sb2" x1="479.6" y1="208.7" x2="514.5" y2="155.3"/>
<linearGradient id="g424" href="#sb2" x1="479.6" y1="208.7" x2="454.4" y2="142.7"/>
<linearGradient id="g425" href="#sb2" x1="510.4" y1="199.1" x2="485.2" y2="133.2"/>
<linearGradient id="g426" href="#sb2" x1="484.6" y1="209" x2="459.4" y2="143"/>
<linearGradient id="g427" href="#sb2" x1="515.4" y1="199.5" x2="490.2" y2="133.5"/>
<linearGradient id="g428" href="#sb2" x1="455.3" y1="186.9" x2="490.2" y2="133.5"/>
<linearGradient id="g429" href="#sb2" x1="502.6" y1="199.9" x2="477.4" y2="133.9"/>
<linearGradient id="g430" href="#sb2" x1="442.4" y1="187.3" x2="477.4" y2="133.9"/>
<linearGradient id="g431" href="#sb2" x1="507.6" y1="200.2" x2="482.4" y2="134.2"/>
<linearGradient id="g432" href="#sb2" x1="447.4" y1="187.7" x2="482.4" y2="134.2"/>
<linearGradient id="sc0" gradientUnits="userSpaceOnUse"><stop offset="0" stop-color="#3e26a8"/><stop offset="0.083" stop-color="#4538d7"/><stop offset="0.167" stop-color="#484ff2"/><stop offset="0.25" stop-color="#4367fd"/><stop offset="0.333" stop-color="#2f80fa"/><stop offset="0.417" stop-color="#2797eb"/><stop offset="0.5" stop-color="#1caadf"/><stop offset="0.583" stop-color="#01b9c7"/><stop offset="0.667" stop-color="#29c3aa"/><stop offset="0.75" stop-color="#48cb86"/><stop offset="0.833" stop-color="#81cc59"/><stop offset="0.917" stop-color="#bbc42f"/><stop offset="1" stop-color="#eaba31"/></linearGradient>
<linearGradient id="sc1" gradientUnits="userSpaceOnUse"><stop offset="0" stop-color="#3e26a8"/><stop offset="0.083" stop-color="#4332cb"/><stop offset="0.167" stop-color="#4741e5"/><stop offset="0.25" stop-color="#4852f4"/><stop offset="0.333" stop-color="#4563fd"/><stop offset="0.417" stop-color="#3875fe"/><stop offset="0.5" stop-color="#2e87f7"/><stop offset="0.583" stop-color="#2796eb"/><stop offset="0.667" stop-color="#20a5e3"/><stop offset="0.75" stop-color="#12b1d6"/><stop offset="0.833" stop-color="#02bac3"/><stop offset="0.917" stop-color="#24c1af"/><stop offset="1" stop-color="#37c897"/></linearGradient>
<linearGradient id="sc2" gradientUnits="userSpaceOnUse"><stop offset="0" stop-color="#3e26a8"/><stop offset="0.083" stop-color="#463de0"/><stop offset="0.167" stop-color="#475bf9"/><stop offset="0.25" stop-color="#347afd"/><stop offset="0.333" stop-color="#2797eb"/><stop offset="0.417" stop-color="#17aeda"/><stop offset="0.5" stop-color="#12beb9"/><stop offset="0.583" stop-color="#3dc990"/><stop offset="0.667" stop-color="#81cc59"/><stop offset="0.75" stop-color="#c8c129"/><stop offset="0.833" stop-color="#fbbc3d"/><stop offset="0.917" stop-color="#f7db2b"/><stop offset="1" stop-color="#f9fb15"/></linearGradient>
<linearGradient id="sc3" gradientUnits="userSpaceOnUse"><stop offset="0" stop-color="#3e26a8"/><stop offset="0.083" stop-color="#422ebe"/><stop offset="0.167" stop-color="#4536d3"/><stop offset="0.25" stop-color="#473fe3"/><stop offset="0.333" stop-color="#484aee"/><stop offset="0.417" stop-color="#4755f6"/><stop offset="0.5" stop-color="#465ffb"/><stop offset="0.583" stop-color="#416bfe"/><stop offset="0.667" stop-color="#3876fe"/><stop offset="0.75" stop-color="#2f81fa"/><stop offset="0.833" stop-color="#2d8cf3"/><stop offset="0.917" stop-color="#2895ec"/><stop offset="1" stop-color="#249fe6"/></linearGradient>
<linearGradient id="u433" href="#sc1" x1="0" y1="374.6" x2="0" y2="367.2"/>
<linearGradient id="g434" href="#sc1" x1="143.4" y1="369.2" x2="141.7" y2="364.7"/>
<linearGradient id="g435" href="#sc1" x1="144.4" y1="368.8" x2="142.7" y2="364.3"/>
<linearGradient id="g436" href="#sc1" x1="189.8" y1="371" x2="187.3" y2="363.4"/>
<linearGradient id="g437" href="#sc1" x1="140.2" y1="371.5" x2="142.7" y2="364.3"/>
<linearGradient id="g438" href="#sc1" x1="189.5" y1="372.3" x2="187" y2="364.7"/>
<linearGradient id="g439" href="#sc1" x1="139.9" y1="372.8" x2="142.4" y2="365.6"/>
<linearGradient id="g440" href="#sc1" x1="186.9" y1="370.5" x2="188.9" y2="367.5"/>
<linearGradient id="g441" href="#sc1" x1="189.5" y1="372.3" x2="191.5" y2="369.2"/>
<linearGradient id="g442" href="#sc1" x1="139.5" y1="374.1" x2="142.1" y2="366.9"/>
<linearGradient id="g443" href="#sc1" x1="191.4" y1="375" x2="188.9" y2="367.5"/>
<linearGradient id="g444" href="#sc1" x1="141.4" y1="376.9" x2="146.2" y2="369.6"/>
<linearGradient id="g445" href="#sc1" x1="137.4" y1="374.2" x2="142.1" y2="366.9"/>
<linearGradient id="g446" href="#sc1" x1="191.1" y1="376.3" x2="188.5" y2="368.7"/>
<linearGradient id="g447" href="#sc1" x1="141.4" y1="376.9" x2="144" y2="369.7"/>
<linearGradient id="g448" href="#sc1" x1="190.8" y1="377.6" x2="188.2" y2="370"/>
<linearGradient id="g449" href="#sc1" x1="141.1" y1="378.1" x2="143.7" y2="370.9"/>
<linearGradient id="g450" href="#sc1" x1="191.5" y1="378.5" x2="188.2" y2="370"/>
<linearGradient id="g451" href="#sc1" x1="187.6" y1="380" x2="184.3" y2="371.5"/>
<linearGradient id="g452" href="#sc1" x1="143" y1="380.9" x2="147.8" y2="373.6"/>
<linearGradient id="g453" href="#sc1" x1="138.9" y1="378.2" x2="143.7" y2="370.9"/>
<linearGradient id="g454" href="#sc1" x1="187.6" y1="380" x2="185" y2="372.4"/>
<linearGradient id="g455" href="#sc1" x1="145.3" y1="382.3" x2="150" y2="375.1"/>
<linearGradient id="g456" href="#sc1" x1="141.2" y1="379.7" x2="145.9" y2="372.4"/>
<linearGradient id="g457" href="#sc1" x1="187.2" y1="381.2" x2="184.7" y2="373.7"/>
<linearGradient id="g458" href="#sc1" x1="187.9" y1="382.1" x2="184.7" y2="373.7"/>
<linearGradient id="g459" href="#sc1" x1="184" y1="383.6" x2="180.8" y2="375.2"/>
<linearGradient id="g460" href="#sc1" x1="147.5" y1="383.8" x2="152.2" y2="376.5"/>
<linearGradient id="g461" href="#sc1" x1="143.4" y1="381.1" x2="148.2" y2="373.8"/>
<linearGradient id="g462" href="#sc1" x1="185" y1="383.3" x2="181.8" y2="374.8"/>
<linearGradient id="g463" href="#sc1" x1="181.1" y1="384.8" x2="177.9" y2="376.3"/>
<linearGradient id="g464" href="#sc1" x1="149.7" y1="385.2" x2="154.5" y2="378"/>
<linearGradient id="g465" href="#sc1" x1="145.6" y1="382.6" x2="150.4" y2="375.3"/>
<linearGradient id="g466" href="#sc1" x1="154.9" y1="385.6" x2="159.6" y2="378.3"/>
<linearGradient id="g467" href="#sc1" x1="154.9" y1="385.6" x2="151.6" y2="377.1"/>
<linearGradient id="g468" href="#sc1" x1="182.1" y1="384.4" x2="178.9" y2="375.9"/>
<linearGradient id="g469" href="#sc1" x1="178.2" y1="385.9" x2="175" y2="377.4"/>
<linearGradient id="g470" href="#sc1" x1="170.2" y1="386.6" x2="175" y2="379.3"/>
<linearGradient id="g471" href="#sc1" x1="170.2" y1="386.6" x2="167" y2="378.2"/>
<linearGradient id="g472" href="#sc1" x1="155.9" y1="385.2" x2="152.6" y2="376.8"/>
<linearGradient id="g473" href="#sc1" x1="147.9" y1="384" x2="152.6" y2="376.8"/>
<linearGradient id="g474" href="#sc1" x1="179.3" y1="385.5" x2="176" y2="377"/>
<linearGradient id="g475" href="#sc1" x1="175.4" y1="387" x2="172.1" y2="378.5"/>
<linearGradient id="g476" href="#sc1" x1="157.1" y1="387" x2="161.8" y2="379.8"/>
<linearGradient id="g477" href="#sc1" x1="153" y1="384.4" x2="157.7" y2="377.1"/>
<linearGradient id="g478" href="#sc1" x1="162.2" y1="387.4" x2="167" y2="380.1"/>
<linearGradient id="g479" href="#sc1" x1="162.2" y1="387.4" x2="159" y2="379"/>
<linearGradient id="g480" href="#sc1" x1="171.2" y1="386.2" x2="168" y2="377.8"/>
<linearGradient id="g481" href="#sc1" x1="167.3" y1="387.7" x2="164.1" y2="379.3"/>
<linearGradient id="g482" href="#sc1" x1="176.4" y1="386.6" x2="173.1" y2="378.1"/>
<linearGradient id="g483" href="#sc1" x1="168.4" y1="385.4" x2="173.1" y2="378.1"/>
<linearGradient id="g484" href="#sc1" x1="163.2" y1="387" x2="160" y2="378.6"/>
<linearGradient id="g485" href="#sc1" x1="155.2" y1="385.8" x2="160" y2="378.6"/>
<linearGradient id="g486" href="#sc1" x1="168.4" y1="387.3" x2="165.1" y2="378.9"/>
<linearGradient id="g487" href="#sc1" x1="160.4" y1="386.2" x2="165.1" y2="378.9"/>
<linearGradient id="u488" href="#sc0" x1="0" y1="407.9" x2="0" y2="397.8"/>
<linearGradient id="g489" href="#sc0" x1="56.8" y1="402.5" x2="54.2" y2="395.7"/>
<linearGradient id="g490" href="#sc0" x1="58.7" y1="401.7" x2="56.1" y2="395"/>
<linearGradient id="g491" href="#sc0" x1="103.2" y1="404.3" x2="100.6" y2="394.1"/>
<linearGradient id="g492" href="#sc0" x1="102.9" y1="405.6" x2="100.3" y2="395.4"/>
<linearGradient id="g493" href="#sc0" x1="99" y1="403" x2="102.2" y2="398.1"/>
<linearGradient id="g494" href="#sc0" x1="102.9" y1="405.6" x2="106.1" y2="400.6"/>
<linearGradient id="g495" href="#sc0" x1="104.8" y1="408.3" x2="102.2" y2="398.1"/>
<linearGradient id="g496" href="#sc0" x1="54.8" y1="410.2" x2="60.8" y2="401"/>
<linearGradient id="g497" href="#sc0" x1="49.5" y1="406.7" x2="55.5" y2="397.5"/>
<linearGradient id="g498" href="#sc0" x1="104.5" y1="409.6" x2="101.9" y2="399.4"/>
<linearGradient id="g499" href="#sc0" x1="104.1" y1="410.9" x2="101.6" y2="400.7"/>
<linearGradient id="g500" href="#sc0" x1="105.7" y1="411.4" x2="101.6" y2="400.7"/>
<linearGradient id="g501" href="#sc0" x1="100.9" y1="413.3" x2="96.8" y2="402.5"/>
<linearGradient id="g502" href="#sc0" x1="56.4" y1="414.2" x2="62.3" y2="405"/>
<linearGradient id="g503" href="#sc0" x1="51.1" y1="410.7" x2="57" y2="401.6"/>
<linearGradient id="g504" href="#sc0" x1="100.9" y1="413.3" x2="98.4" y2="403"/>
<linearGradient id="g505" href="#sc0" x1="58.6" y1="415.6" x2="64.6" y2="406.5"/>
<linearGradient id="g506" href="#sc0" x1="53.3" y1="412.2" x2="59.3" y2="403"/>
<linearGradient id="g507" href="#sc0" x1="100.6" y1="414.5" x2="98" y2="404.3"/>
<linearGradient id="g508" href="#sc0" x1="102.2" y1="415.1" x2="98" y2="404.3"/>
<linearGradient id="g509" href="#sc0" x1="97.4" y1="416.9" x2="93.2" y2="406.2"/>
<linearGradient id="g510" href="#sc0" x1="60.9" y1="417.1" x2="66.8" y2="407.9"/>
<linearGradient id="g511" href="#sc0" x1="55.6" y1="413.6" x2="61.5" y2="404.5"/>
<linearGradient id="g512" href="#sc0" x1="99.3" y1="416.2" x2="95.1" y2="405.4"/>
<linearGradient id="g513" href="#sc0" x1="94.5" y1="418.1" x2="90.4" y2="407.3"/>
<linearGradient id="g514" href="#sc0" x1="63.1" y1="418.5" x2="69.1" y2="409.4"/>
<linearGradient id="g515" href="#sc0" x1="57.8" y1="415.1" x2="63.7" y2="405.9"/>
<linearGradient id="g516" href="#sc0" x1="68.2" y1="418.9" x2="74.2" y2="409.7"/>
<linearGradient id="g517" href="#sc0" x1="68.2" y1="418.9" x2="64.1" y2="408.1"/>
<linearGradient id="g518" href="#sc0" x1="96.4" y1="417.3" x2="92.3" y2="406.6"/>
<linearGradient id="g519" href="#sc0" x1="91.6" y1="419.2" x2="87.5" y2="408.4"/>
<linearGradient id="g520" href="#sc0" x1="83.6" y1="419.9" x2="89.6" y2="410.8"/>
<linearGradient id="g521" href="#sc0" x1="83.6" y1="419.9" x2="79.5" y2="409.2"/>
<linearGradient id="g522" href="#sc0" x1="70.1" y1="418.2" x2="66" y2="407.4"/>
<linearGradient id="g523" href="#sc0" x1="60" y1="416.5" x2="66" y2="407.4"/>
<linearGradient id="g524" href="#sc0" x1="93.5" y1="418.4" x2="89.4" y2="407.7"/>
<linearGradient id="g525" href="#sc0" x1="88.7" y1="420.3" x2="84.6" y2="409.5"/>
<linearGradient id="g526" href="#sc0" x1="70.5" y1="420.3" x2="76.4" y2="411.2"/>
<linearGradient id="g527" href="#sc0" x1="65.1" y1="416.9" x2="71.1" y2="407.7"/>
<linearGradient id="g528" href="#sc0" x1="75.6" y1="420.7" x2="81.5" y2="411.5"/>
<linearGradient id="g529" href="#sc0" x1="75.6" y1="420.7" x2="71.4" y2="409.9"/>
<linearGradient id="g530" href="#sc0" x1="85.5" y1="419.2" x2="81.4" y2="408.4"/>
<linearGradient id="g531" href="#sc0" x1="80.7" y1="421" x2="76.6" y2="410.3"/>
<linearGradient id="g532" href="#sc0" x1="90.6" y1="419.5" x2="86.5" y2="408.8"/>
<linearGradient id="g533" href="#sc0" x1="80.5" y1="417.9" x2="86.5" y2="408.8"/>
<linearGradient id="g534" href="#sc0" x1="77.5" y1="420" x2="73.3" y2="409.2"/>
<linearGradient id="g535" href="#sc0" x1="67.4" y1="418.3" x2="73.3" y2="409.2"/>
<linearGradient id="g536" href="#sc0" x1="82.6" y1="420.3" x2="78.5" y2="409.5"/>
<linearGradient id="g537" href="#sc0" x1="72.5" y1="418.7" x2="78.5" y2="409.5"/>
<linearGradient id="u538" href="#sc3" x1="0" y1="418.2" x2="0" y2="413.7"/>
<linearGradient id="g539" href="#sc3" x1="210.5" y1="412.8" x2="209.7" y2="410.9"/>
<linearGradient id="g540" href="#sc3" x1="210.6" y1="412.8" x2="209.8" y2="410.9"/>
<linearGradient id="g541" href="#sc3" x1="257.9" y1="410.9" x2="254.4" y2="410"/>
<linearGradient id="g542" href="#sc3" x1="207.3" y1="415.2" x2="209.8" y2="410.9"/>
<linearGradient id="g543" href="#sc3" x1="256.6" y1="415.9" x2="253.1" y2="415.1"/>
<linearGradient id="g544" href="#sc3" x1="206.9" y1="416.5" x2="209.5" y2="412.1"/>
<linearGradient id="g545" href="#sc3" x1="257.7" y1="416.7" x2="255.9" y2="414"/>
<linearGradient id="g546" href="#sc3" x1="256.6" y1="415.9" x2="254.8" y2="413.2"/>
<linearGradient id="g547" href="#sc3" x1="206.6" y1="417.8" x2="209.2" y2="413.4"/>
<linearGradient id="g548" href="#sc3" x1="259.5" y1="414.9" x2="255.9" y2="414"/>
<linearGradient id="g549" href="#sc3" x1="208.5" y1="420.5" x2="212" y2="415.2"/>
<linearGradient id="g550" href="#sc3" x1="205.7" y1="418.7" x2="209.2" y2="413.4"/>
<linearGradient id="g551" href="#sc3" x1="258.2" y1="420" x2="254.6" y2="419.1"/>
<linearGradient id="g552" href="#sc3" x1="208.5" y1="420.5" x2="211.1" y2="416.2"/>
<linearGradient id="g553" href="#sc3" x1="258.8" y1="417.4" x2="255.3" y2="416.5"/>
<linearGradient id="g554" href="#sc3" x1="208.2" y1="421.8" x2="210.8" y2="417.5"/>
<linearGradient id="g555" href="#sc3" x1="257.6" y1="422.5" x2="255.3" y2="416.5"/>
<linearGradient id="g556" href="#sc3" x1="254.6" y1="423.6" x2="252.3" y2="417.7"/>
<linearGradient id="g557" href="#sc3" x1="210.1" y1="424.6" x2="213.5" y2="419.3"/>
<linearGradient id="g558" href="#sc3" x1="207.3" y1="422.7" x2="210.8" y2="417.5"/>
<linearGradient id="g559" href="#sc3" x1="254.6" y1="423.6" x2="251.1" y2="422.7"/>
<linearGradient id="g560" href="#sc3" x1="212.3" y1="426" x2="215.8" y2="420.7"/>
<linearGradient id="g561" href="#sc3" x1="209.6" y1="424.2" x2="213" y2="418.9"/>
<linearGradient id="g562" href="#sc3" x1="255.3" y1="421.1" x2="251.8" y2="420.2"/>
<linearGradient id="g563" href="#sc3" x1="254" y1="426.2" x2="251.8" y2="420.2"/>
<linearGradient id="g564" href="#sc3" x1="251.1" y1="427.3" x2="248.8" y2="421.4"/>
<linearGradient id="g565" href="#sc3" x1="214.6" y1="427.5" x2="218" y2="422.2"/>
<linearGradient id="g566" href="#sc3" x1="211.8" y1="425.6" x2="215.2" y2="420.4"/>
<linearGradient id="g567" href="#sc3" x1="251.2" y1="427.3" x2="248.9" y2="421.3"/>
<linearGradient id="g568" href="#sc3" x1="248.2" y1="428.4" x2="245.9" y2="422.5"/>
<linearGradient id="g569" href="#sc3" x1="216.8" y1="428.9" x2="220.3" y2="423.6"/>
<linearGradient id="g570" href="#sc3" x1="214" y1="427.1" x2="217.5" y2="421.8"/>
<linearGradient id="g571" href="#sc3" x1="221.9" y1="429.3" x2="225.4" y2="424"/>
<linearGradient id="g572" href="#sc3" x1="221.9" y1="429.3" x2="219.6" y2="423.3"/>
<linearGradient id="g573" href="#sc3" x1="248.3" y1="428.4" x2="246" y2="422.4"/>
<linearGradient id="g574" href="#sc3" x1="245.3" y1="429.5" x2="243" y2="423.6"/>
<linearGradient id="g575" href="#sc3" x1="237.3" y1="430.3" x2="240.8" y2="425"/>
<linearGradient id="g576" href="#sc3" x1="237.3" y1="430.3" x2="235" y2="424.3"/>
<linearGradient id="g577" href="#sc3" x1="222" y1="429.2" x2="219.7" y2="423.3"/>
<linearGradient id="g578" href="#sc3" x1="216.3" y1="428.6" x2="219.7" y2="423.3"/>
<linearGradient id="g579" href="#sc3" x1="245.4" y1="429.5" x2="243.1" y2="423.5"/>
<linearGradient id="g580" href="#sc3" x1="242.4" y1="430.7" x2="240.1" y2="424.7"/>
<linearGradient id="g581" href="#sc3" x1="224.2" y1="430.7" x2="227.6" y2="425.4"/>
<linearGradient id="g582" href="#sc3" x1="221.4" y1="428.9" x2="224.8" y2="423.6"/>
<linearGradient id="g583" href="#sc3" x1="229.3" y1="431.1" x2="232.7" y2="425.8"/>
<linearGradient id="g584" href="#sc3" x1="229.3" y1="431.1" x2="227" y2="425.1"/>
<linearGradient id="g585" href="#sc3" x1="237.4" y1="430.3" x2="235.1" y2="424.3"/>
<linearGradient id="g586" href="#sc3" x1="234.4" y1="431.4" x2="232.1" y2="425.4"/>
<linearGradient id="g587" href="#sc3" x1="242.5" y1="430.6" x2="240.2" y2="424.7"/>
<linearGradient id="g588" href="#sc3" x1="236.8" y1="429.9" x2="240.2" y2="424.7"/>
<linearGradient id="g589" href="#sc3" x1="229.4" y1="431" x2="227.1" y2="425.1"/>
<linearGradient id="g590" href="#sc3" x1="223.6" y1="430.4" x2="227.1" y2="425.1"/>
<linearGradient id="g591" href="#sc3" x1="234.5" y1="431.4" x2="232.2" y2="425.4"/>
<linearGradient id="g592" href="#sc3" x1="228.7" y1="430.7" x2="232.2" y2="425.4"/>
<linearGradient id="u593" href="#sc2" x1="0" y1="451.5" x2="0" y2="438.9"/>
<linearGradient id="g594" href="#sc2" x1="123.8" y1="446.1" x2="120.4" y2="437.1"/>
<linearGradient id="g595" href="#sc2" x1="126.6" y1="445.1" x2="123.2" y2="436.1"/>
<linearGradient id="g596" href="#sc2" x1="170.3" y1="448" x2="167.7" y2="435.2"/>
<linearGradient id="g597" href="#sc2" x1="120.6" y1="448.5" x2="123.2" y2="436.1"/>
<linearGradient id="g598" href="#sc2" x1="170" y1="449.2" x2="167.4" y2="436.4"/>
<linearGradient id="g599" href="#sc2" x1="120.3" y1="449.8" x2="122.9" y2="437.3"/>
<linearGradient id="g600" href="#sc2" x1="164.9" y1="446" x2="169.3" y2="439.2"/>
<linearGradient id="g601" href="#sc2" x1="170" y1="449.2" x2="174.4" y2="442.5"/>
<linearGradient id="g602" href="#sc2" x1="120" y1="451.1" x2="122.5" y2="438.6"/>
<linearGradient id="g603" href="#sc2" x1="171.9" y1="452" x2="169.3" y2="439.2"/>
<linearGradient id="g604" href="#sc2" x1="121.9" y1="453.8" x2="129" y2="442.9"/>
<linearGradient id="g605" href="#sc2" x1="115.4" y1="449.6" x2="122.5" y2="438.6"/>
<linearGradient id="g606" href="#sc2" x1="171.5" y1="453.3" x2="169" y2="440.5"/>
<linearGradient id="g607" href="#sc2" x1="121.9" y1="453.8" x2="124.4" y2="441.4"/>
<linearGradient id="g608" href="#sc2" x1="171.2" y1="454.6" x2="168.7" y2="441.7"/>
<linearGradient id="g609" href="#sc2" x1="121.6" y1="455.1" x2="124.1" y2="442.7"/>
<linearGradient id="g610" href="#sc2" x1="173.7" y1="454.8" x2="168.7" y2="441.7"/>
<linearGradient id="g611" href="#sc2" x1="168" y1="456.9" x2="163" y2="443.9"/>
<linearGradient id="g612" href="#sc2" x1="123.5" y1="457.9" x2="130.6" y2="446.9"/>
<linearGradient id="g613" href="#sc2" x1="117" y1="453.6" x2="124.1" y2="442.7"/>
<linearGradient id="g614" href="#sc2" x1="168" y1="456.9" x2="165.4" y2="444.1"/>
<linearGradient id="g615" href="#sc2" x1="125.7" y1="459.3" x2="132.8" y2="448.3"/>
<linearGradient id="g616" href="#sc2" x1="119.2" y1="455.1" x2="126.4" y2="444.1"/>
<linearGradient id="g617" href="#sc2" x1="167.7" y1="458.2" x2="165.1" y2="445.4"/>
<linearGradient id="g618" href="#sc2" x1="170.1" y1="458.4" x2="165.1" y2="445.4"/>
<linearGradient id="g619" href="#sc2" x1="164.5" y1="460.6" x2="159.5" y2="447.6"/>
<linearGradient id="g620" href="#sc2" x1="127.9" y1="460.8" x2="135.1" y2="449.8"/>
<linearGradient id="g621" href="#sc2" x1="121.4" y1="456.5" x2="128.6" y2="445.6"/>
<linearGradient id="g622" href="#sc2" x1="167.2" y1="459.6" x2="162.2" y2="446.5"/>
<linearGradient id="g623" href="#sc2" x1="161.6" y1="461.7" x2="156.6" y2="448.7"/>
<linearGradient id="g624" href="#sc2" x1="130.2" y1="462.2" x2="137.3" y2="451.2"/>
<linearGradient id="g625" href="#sc2" x1="123.7" y1="458" x2="130.8" y2="447"/>
<linearGradient id="g626" href="#sc2" x1="135.3" y1="462.6" x2="142.4" y2="451.6"/>
<linearGradient id="g627" href="#sc2" x1="135.3" y1="462.6" x2="130.3" y2="449.5"/>
<linearGradient id="g628" href="#sc2" x1="164.3" y1="460.7" x2="159.3" y2="447.6"/>
<linearGradient id="g629" href="#sc2" x1="158.7" y1="462.8" x2="153.7" y2="449.8"/>
<linearGradient id="g630" href="#sc2" x1="150.7" y1="463.6" x2="157.8" y2="452.6"/>
<linearGradient id="g631" href="#sc2" x1="150.7" y1="463.6" x2="145.7" y2="450.6"/>
<linearGradient id="g632" href="#sc2" x1="138.1" y1="461.5" x2="133.1" y2="448.5"/>
<linearGradient id="g633" href="#sc2" x1="125.9" y1="459.4" x2="133.1" y2="448.5"/>
<linearGradient id="g634" href="#sc2" x1="161.5" y1="461.8" x2="156.4" y2="448.7"/>
<linearGradient id="g635" href="#sc2" x1="155.8" y1="464" x2="150.8" y2="450.9"/>
<linearGradient id="g636" href="#sc2" x1="137.5" y1="464" x2="144.7" y2="453.1"/>
<linearGradient id="g637" href="#sc2" x1="131" y1="459.8" x2="138.2" y2="448.8"/>
<linearGradient id="g638" href="#sc2" x1="142.7" y1="464.4" x2="149.8" y2="453.4"/>
<linearGradient id="g639" href="#sc2" x1="142.7" y1="464.4" x2="137.7" y2="451.3"/>
<linearGradient id="g640" href="#sc2" x1="153.4" y1="462.5" x2="148.4" y2="449.5"/>
<linearGradient id="g641" href="#sc2" x1="147.8" y1="464.7" x2="142.8" y2="451.7"/>
<linearGradient id="g642" href="#sc2" x1="158.6" y1="462.9" x2="153.6" y2="449.9"/>
<linearGradient id="g643" href="#sc2" x1="146.4" y1="460.8" x2="153.6" y2="449.9"/>
<linearGradient id="g644" href="#sc2" x1="145.4" y1="463.3" x2="140.4" y2="450.3"/>
<linearGradient id="g645" href="#sc2" x1="133.3" y1="461.3" x2="140.4" y2="450.3"/>
<linearGradient id="g646" href="#sc2" x1="150.6" y1="463.7" x2="145.5" y2="450.6"/>
<linearGradient id="g647" href="#sc2" x1="138.4" y1="461.6" x2="145.5" y2="450.6"/>
<linearGradient id="sd0" gradientUnits="userSpaceOnUse"><stop offset="0" stop-color="#3e26a8"/><stop offset="0.083" stop-color="#4537d5"/><stop offset="0.167" stop-color="#484df0"/><stop offset="0.25" stop-color="#4563fd"/><stop offset="0.333" stop-color="#327cfc"/><stop offset="0.417" stop-color="#2b91ef"/><stop offset="0.5" stop-color="#20a5e3"/><stop offset="0.583" stop-color="#08b5d0"/><stop offset="0.667" stop-color="#19bfb6"/><stop offset="0.75" stop-color="#37c897"/><stop offset="0.833" stop-color="#64cd6f"/><stop offset="0.917" stop-color="#9ec943"/><stop offset="1" stop-color="#d1bf27"/></linearGradient>
<linearGradient id="sd1" gradientUnits="userSpaceOnUse"><stop offset="0" stop-color="#3e26a8"/><stop offset="0.083" stop-color="#4331c8"/><stop offset="0.167" stop-color="#473ee2"/><stop offset="0.25" stop-color="#484ef1"/><stop offset="0.333" stop-color="#465efb"/><stop offset="0.417" stop-color="#3f6efe"/><stop offset="0.5" stop-color="#307ffb"/><stop offset="0.583" stop-color="#2c8ef2"/><stop offset="0.667" stop-color="#259be7"/><stop offset="0.75" stop-color="#1da8e0"/><stop offset="0.833" stop-color="#0cb3d3"/><stop offset="0.917" stop-color="#04bbc2"/><stop offset="1" stop-color="#24c1ae"/></linearGradient>
<linearGradient id="sd2" gradientUnits="userSpaceOnUse"><stop offset="0" stop-color="#3e26a8"/><stop offset="0.083" stop-color="#463bdd"/><stop offset="0.167" stop-color="#4757f7"/><stop offset="0.25" stop-color="#3a74fe"/><stop offset="0.333" stop-color="#2c90f0"/><stop offset="0.417" stop-color="#1ea7e1"/><stop offset="0.5" stop-color="#01b9c7"/><stop offset="0.583" stop-color="#2ec5a4"/><stop offset="0.667" stop-color="#5bcc76"/><stop offset="0.75" stop-color="#a1c840"/><stop offset="0.833" stop-color="#debc2a"/><stop offset="0.917" stop-color="#fec438"/><stop offset="1" stop-color="#f5e327"/></linearGradient>
<linearGradient id="sd3" gradientUnits="userSpaceOnUse"><stop offset="0" stop-color="#3e26a8"/><stop offset="0.083" stop-color="#412dbd"/><stop offset="0.167" stop-color="#4435d0"/><stop offset="0.25" stop-color="#463de0"/><stop offset="0.333" stop-color="#4747eb"/><stop offset="0.417" stop-color="#4851f3"/><stop offset="0.5" stop-color="#475bf9"/><stop offset="0.583" stop-color="#4465fd"/><stop offset="0.667" stop-color="#3e6fff"/><stop offset="0.75" stop-color="#347afd"/><stop offset="0.833" stop-color="#2e84f8"/><stop offset="0.917" stop-color="#2d8df2"/><stop offset="1" stop-color="#2796eb"/></linearGradient>
<linearGradient id="u648" href="#sd1" x1="0" y1="372.4" x2="0" y2="367.1"/>
<linearGradient id="g649" href="#sd1" x1="481" y1="367" x2="480" y2="364.4"/>
<linearGradient id="g650" href="#sd1" x1="481.3" y1="366.9" x2="480.3" y2="364.3"/>
<linearGradient id="g651" href="#sd1" x1="528.5" y1="364.2" x2="524.8" y2="363.2"/>
<linearGradient id="g652" href="#sd1" x1="477.8" y1="369.4" x2="480.3" y2="364.3"/>
<linearGradient id="g653" href="#sd1" x1="527" y1="370" x2="523.3" y2="369"/>
<linearGradient id="g654" href="#sd1" x1="477.4" y1="370.7" x2="480" y2="365.6"/>
<linearGradient id="g655" href="#sd1" x1="528.1" y1="370.7" x2="526.3" y2="367.3"/>
<linearGradient id="g656" href="#sd1" x1="527" y1="370" x2="525.2" y2="366.6"/>
<linearGradient id="g657" href="#sd1" x1="477.1" y1="372" x2="479.7" y2="366.9"/>
<linearGradient id="g658" href="#sd1" x1="530.1" y1="368.2" x2="526.3" y2="367.3"/>
<linearGradient id="g659" href="#sd1" x1="479" y1="374.8" x2="482.8" y2="368.9"/>
<linearGradient id="g660" href="#sd1" x1="475.8" y1="372.7" x2="479.7" y2="366.9"/>
<linearGradient id="g661" href="#sd1" x1="528.6" y1="374" x2="524.8" y2="373.1"/>
<linearGradient id="g662" href="#sd1" x1="479" y1="374.8" x2="481.5" y2="369.6"/>
<linearGradient id="g663" href="#sd1" x1="529.4" y1="370.8" x2="525.7" y2="369.9"/>
<linearGradient id="g664" href="#sd1" x1="478.6" y1="376.1" x2="481.2" y2="370.9"/>
<linearGradient id="g665" href="#sd1" x1="528.2" y1="376.5" x2="525.7" y2="369.9"/>
<linearGradient id="g666" href="#sd1" x1="525" y1="377.7" x2="522.4" y2="371.1"/>
<linearGradient id="g667" href="#sd1" x1="480.5" y1="378.8" x2="484.3" y2="373"/>
<linearGradient id="g668" href="#sd1" x1="477.4" y1="376.7" x2="481.2" y2="370.9"/>
<linearGradient id="g669" href="#sd1" x1="525" y1="377.7" x2="521.3" y2="376.8"/>
<linearGradient id="g670" href="#sd1" x1="482.8" y1="380.2" x2="486.6" y2="374.4"/>
<linearGradient id="g671" href="#sd1" x1="479.6" y1="378.2" x2="483.4" y2="372.4"/>
<linearGradient id="g672" href="#sd1" x1="525.8" y1="374.5" x2="522.1" y2="373.6"/>
<linearGradient id="g673" href="#sd1" x1="524.7" y1="380.2" x2="522.1" y2="373.6"/>
<linearGradient id="g674" href="#sd1" x1="521.4" y1="381.4" x2="518.9" y2="374.8"/>
<linearGradient id="g675" href="#sd1" x1="485" y1="381.7" x2="488.8" y2="375.9"/>
<linearGradient id="g676" href="#sd1" x1="481.8" y1="379.6" x2="485.6" y2="373.8"/>
<linearGradient id="g677" href="#sd1" x1="521.8" y1="381.3" x2="519.2" y2="374.7"/>
<linearGradient id="g678" href="#sd1" x1="518.6" y1="382.6" x2="516" y2="375.9"/>
<linearGradient id="g679" href="#sd1" x1="487.2" y1="383.2" x2="491" y2="377.3"/>
<linearGradient id="g680" href="#sd1" x1="484.1" y1="381.1" x2="487.9" y2="375.3"/>
<linearGradient id="g681" href="#sd1" x1="492.3" y1="383.5" x2="496.1" y2="377.7"/>
<linearGradient id="g682" href="#sd1" x1="492.3" y1="383.5" x2="489.7" y2="376.9"/>
<linearGradient id="g683" href="#sd1" x1="518.9" y1="382.4" x2="516.3" y2="375.8"/>
<linearGradient id="g684" href="#sd1" x1="515.7" y1="383.7" x2="513.1" y2="377.1"/>
<linearGradient id="g685" href="#sd1" x1="507.7" y1="384.5" x2="511.5" y2="378.7"/>
<linearGradient id="g686" href="#sd1" x1="507.7" y1="384.5" x2="505.1" y2="377.9"/>
<linearGradient id="g687" href="#sd1" x1="492.7" y1="383.4" x2="490.1" y2="376.7"/>
<linearGradient id="g688" href="#sd1" x1="486.3" y1="382.6" x2="490.1" y2="376.7"/>
<linearGradient id="g689" href="#sd1" x1="516" y1="383.5" x2="513.4" y2="376.9"/>
<linearGradient id="g690" href="#sd1" x1="512.8" y1="384.8" x2="510.2" y2="378.2"/>
<linearGradient id="g691" href="#sd1" x1="494.5" y1="384.9" x2="498.3" y2="379.1"/>
<linearGradient id="g692" href="#sd1" x1="491.4" y1="382.9" x2="495.2" y2="377.1"/>
<linearGradient id="g693" href="#sd1" x1="499.6" y1="385.3" x2="503.5" y2="379.4"/>
<linearGradient id="g694" href="#sd1" x1="499.6" y1="385.3" x2="497.1" y2="378.7"/>
<linearGradient id="g695" href="#sd1" x1="508" y1="384.3" x2="505.4" y2="377.7"/>
<linearGradient id="g696" href="#sd1" x1="504.8" y1="385.6" x2="502.2" y2="379"/>
<linearGradient id="g697" href="#sd1" x1="513.1" y1="384.7" x2="510.5" y2="378.1"/>
<linearGradient id="g698" href="#sd1" x1="506.7" y1="383.9" x2="510.5" y2="378.1"/>
<linearGradient id="g699" href="#sd1" x1="500" y1="385.1" x2="497.4" y2="378.5"/>
<linearGradient id="g700" href="#sd1" x1="493.6" y1="384.3" x2="497.4" y2="378.5"/>
<linearGradient id="g701" href="#sd1" x1="505.1" y1="385.5" x2="502.5" y2="378.9"/>
<linearGradient id="g702" href="#sd1" x1="498.7" y1="384.7" x2="502.5" y2="378.9"/>
<linearGradient id="u703" href="#sd0" x1="0" y1="406.1" x2="0" y2="397.2"/>
<linearGradient id="g704" href="#sd0" x1="394.2" y1="400.7" x2="392" y2="395.1"/>
<linearGradient id="g705" href="#sd0" x1="395.8" y1="400.1" x2="393.6" y2="394.5"/>
<linearGradient id="g706" href="#sd0" x1="440.6" y1="402.4" x2="438" y2="393.4"/>
<linearGradient id="g707" href="#sd0" x1="391" y1="403.2" x2="393.6" y2="394.5"/>
<linearGradient id="g708" href="#sd0" x1="440.3" y1="403.7" x2="437.7" y2="394.7"/>
<linearGradient id="g709" href="#sd0" x1="390.7" y1="404.4" x2="393.2" y2="395.8"/>
<linearGradient id="g710" href="#sd0" x1="436.9" y1="401.5" x2="439.6" y2="397.4"/>
<linearGradient id="g711" href="#sd0" x1="440.3" y1="403.7" x2="442.9" y2="399.6"/>
<linearGradient id="g712" href="#sd0" x1="390.3" y1="405.7" x2="392.9" y2="397"/>
<linearGradient id="g713" href="#sd0" x1="442.1" y1="406.5" x2="439.6" y2="397.4"/>
<linearGradient id="g714" href="#sd0" x1="392.2" y1="408.5" x2="397.7" y2="400.2"/>
<linearGradient id="g715" href="#sd0" x1="387.4" y1="405.4" x2="392.9" y2="397"/>
<linearGradient id="g716" href="#sd0" x1="441.8" y1="407.8" x2="439.3" y2="398.7"/>
<linearGradient id="g717" href="#sd0" x1="392.2" y1="408.5" x2="394.8" y2="399.8"/>
<linearGradient id="g718" href="#sd0" x1="441.5" y1="409" x2="438.9" y2="400"/>
<linearGradient id="g719" href="#sd0" x1="391.9" y1="409.8" x2="394.4" y2="401.1"/>
<linearGradient id="g720" href="#sd0" x1="442.7" y1="409.7" x2="438.9" y2="400"/>
<linearGradient id="g721" href="#sd0" x1="438.2" y1="411.5" x2="434.5" y2="401.7"/>
<linearGradient id="g722" href="#sd0" x1="393.8" y1="412.5" x2="399.2" y2="404.2"/>
<linearGradient id="g723" href="#sd0" x1="389" y1="409.4" x2="394.4" y2="401.1"/>
<linearGradient id="g724" href="#sd0" x1="438.2" y1="411.5" x2="435.7" y2="402.4"/>
<linearGradient id="g725" href="#sd0" x1="396" y1="414" x2="401.4" y2="405.6"/>
<linearGradient id="g726" href="#sd0" x1="391.2" y1="410.8" x2="396.7" y2="402.5"/>
<linearGradient id="g727" href="#sd0" x1="437.9" y1="412.7" x2="435.4" y2="403.7"/>
<linearGradient id="g728" href="#sd0" x1="439.1" y1="413.4" x2="435.4" y2="403.7"/>
<linearGradient id="g729" href="#sd0" x1="434.7" y1="415.2" x2="430.9" y2="405.4"/>
<linearGradient id="g730" href="#sd0" x1="398.2" y1="415.4" x2="403.7" y2="407.1"/>
<linearGradient id="g731" href="#sd0" x1="393.4" y1="412.3" x2="398.9" y2="404"/>
<linearGradient id="g732" href="#sd0" x1="436.2" y1="414.6" x2="432.5" y2="404.8"/>
<linearGradient id="g733" href="#sd0" x1="431.8" y1="416.3" x2="428" y2="406.6"/>
<linearGradient id="g734" href="#sd0" x1="400.4" y1="416.9" x2="405.9" y2="408.6"/>
<linearGradient id="g735" href="#sd0" x1="395.7" y1="413.8" x2="401.1" y2="405.4"/>
<linearGradient id="g736" href="#sd0" x1="405.6" y1="417.2" x2="411" y2="408.9"/>
<linearGradient id="g737" href="#sd0" x1="405.6" y1="417.2" x2="401.8" y2="407.5"/>
<linearGradient id="g738" href="#sd0" x1="433.3" y1="415.7" x2="429.6" y2="406"/>
<linearGradient id="g739" href="#sd0" x1="428.9" y1="417.4" x2="425.1" y2="407.7"/>
<linearGradient id="g740" href="#sd0" x1="420.9" y1="418.2" x2="426.3" y2="409.9"/>
<linearGradient id="g741" href="#sd0" x1="420.9" y1="418.2" x2="417.1" y2="408.5"/>
<linearGradient id="g742" href="#sd0" x1="407.1" y1="416.6" x2="403.3" y2="406.9"/>
<linearGradient id="g743" href="#sd0" x1="397.9" y1="415.2" x2="403.3" y2="406.9"/>
<linearGradient id="g744" href="#sd0" x1="430.5" y1="416.8" x2="426.7" y2="407.1"/>
<linearGradient id="g745" href="#sd0" x1="426" y1="418.5" x2="422.2" y2="408.8"/>
<linearGradient id="g746" href="#sd0" x1="407.8" y1="418.7" x2="413.2" y2="410.3"/>
<linearGradient id="g747" href="#sd0" x1="403" y1="415.5" x2="408.4" y2="407.2"/>
<linearGradient id="g748" href="#sd0" x1="412.9" y1="419" x2="418.3" y2="410.7"/>
<linearGradient id="g749" href="#sd0" x1="412.9" y1="419" x2="409.1" y2="409.3"/>
<linearGradient id="g750" href="#sd0" x1="422.4" y1="417.6" x2="418.7" y2="407.9"/>
<linearGradient id="g751" href="#sd0" x1="418" y1="419.3" x2="414.2" y2="409.6"/>
<linearGradient id="g752" href="#sd0" x1="427.6" y1="417.9" x2="423.8" y2="408.2"/>
<linearGradient id="g753" href="#sd0" x1="418.3" y1="416.5" x2="423.8" y2="408.2"/>
<linearGradient id="g754" href="#sd0" x1="414.4" y1="418.4" x2="410.7" y2="408.7"/>
<linearGradient id="g755" href="#sd0" x1="405.2" y1="417" x2="410.7" y2="408.7"/>
<linearGradient id="g756" href="#sd0" x1="419.6" y1="418.7" x2="415.8" y2="409"/>
<linearGradient id="g757" href="#sd0" x1="410.3" y1="417.3" x2="415.8" y2="409"/>
<linearGradient id="u758" href="#sd3" x1="0" y1="416" x2="0" y2="411.4"/>
<linearGradient id="g759" href="#sd3" x1="547.7" y1="410.6" x2="546.9" y2="408.7"/>
<linearGradient id="g760" href="#sd3" x1="547.7" y1="410.6" x2="547" y2="408.7"/>
<linearGradient id="g761" href="#sd3" x1="595" y1="408.5" x2="591.5" y2="407.6"/>
<linearGradient id="g762" href="#sd3" x1="544.4" y1="413.1" x2="547" y2="408.7"/>
<linearGradient id="g763" href="#sd3" x1="593.7" y1="413.6" x2="590.1" y2="412.7"/>
<linearGradient id="g764" href="#sd3" x1="544.1" y1="414.4" x2="546.6" y2="410"/>
<linearGradient id="g765" href="#sd3" x1="594.8" y1="414.3" x2="593" y2="411.6"/>
<linearGradient id="g766" href="#sd3" x1="593.7" y1="413.6" x2="591.9" y2="410.9"/>
<linearGradient id="g767" href="#sd3" x1="543.8" y1="415.6" x2="546.3" y2="411.2"/>
<linearGradient id="g768" href="#sd3" x1="596.6" y1="412.6" x2="593" y2="411.6"/>
<linearGradient id="g769" href="#sd3" x1="545.6" y1="418.4" x2="549.1" y2="413.1"/>
<linearGradient id="g770" href="#sd3" x1="542.8" y1="416.5" x2="546.3" y2="411.2"/>
<linearGradient id="g771" href="#sd3" x1="595.2" y1="417.7" x2="591.7" y2="416.7"/>
<linearGradient id="g772" href="#sd3" x1="545.6" y1="418.4" x2="548.2" y2="414"/>
<linearGradient id="g773" href="#sd3" x1="595.9" y1="415.1" x2="592.3" y2="414.2"/>
<linearGradient id="g774" href="#sd3" x1="545.3" y1="419.7" x2="547.9" y2="415.3"/>
<linearGradient id="g775" href="#sd3" x1="594.7" y1="420.2" x2="592.3" y2="414.2"/>
<linearGradient id="g776" href="#sd3" x1="591.7" y1="421.4" x2="589.3" y2="415.4"/>
<linearGradient id="g777" href="#sd3" x1="547.2" y1="422.4" x2="550.7" y2="417.1"/>
<linearGradient id="g778" href="#sd3" x1="544.4" y1="420.6" x2="547.9" y2="415.3"/>
<linearGradient id="g779" href="#sd3" x1="591.7" y1="421.4" x2="588.1" y2="420.4"/>
<linearGradient id="g780" href="#sd3" x1="549.4" y1="423.9" x2="552.9" y2="418.6"/>
<linearGradient id="g781" href="#sd3" x1="546.6" y1="422" x2="550.1" y2="416.7"/>
<linearGradient id="g782" href="#sd3" x1="592.3" y1="418.8" x2="588.8" y2="417.9"/>
<linearGradient id="g783" href="#sd3" x1="591.1" y1="423.9" x2="588.8" y2="417.9"/>
<linearGradient id="g784" href="#sd3" x1="588.1" y1="425.1" x2="585.8" y2="419.1"/>
<linearGradient id="g785" href="#sd3" x1="551.6" y1="425.3" x2="555.1" y2="420"/>
<linearGradient id="g786" href="#sd3" x1="548.8" y1="423.5" x2="552.3" y2="418.2"/>
<linearGradient id="g787" href="#sd3" x1="588.2" y1="425" x2="585.9" y2="419"/>
<linearGradient id="g788" href="#sd3" x1="585.2" y1="426.2" x2="582.9" y2="420.2"/>
<linearGradient id="g789" href="#sd3" x1="553.9" y1="426.8" x2="557.3" y2="421.5"/>
<linearGradient id="g790" href="#sd3" x1="551.1" y1="424.9" x2="554.5" y2="419.6"/>
<linearGradient id="g791" href="#sd3" x1="559" y1="427.1" x2="562.4" y2="421.8"/>
<linearGradient id="g792" href="#sd3" x1="559" y1="427.1" x2="556.7" y2="421.1"/>
<linearGradient id="g793" href="#sd3" x1="585.3" y1="426.1" x2="583" y2="420.2"/>
<linearGradient id="g794" href="#sd3" x1="582.3" y1="427.3" x2="580" y2="421.3"/>
<linearGradient id="g795" href="#sd3" x1="574.3" y1="428.1" x2="577.8" y2="422.8"/>
<linearGradient id="g796" href="#sd3" x1="574.3" y1="428.1" x2="572" y2="422.1"/>
<linearGradient id="g797" href="#sd3" x1="559.1" y1="427.1" x2="556.8" y2="421.1"/>
<linearGradient id="g798" href="#sd3" x1="553.3" y1="426.4" x2="556.8" y2="421.1"/>
<linearGradient id="g799" href="#sd3" x1="582.4" y1="427.3" x2="580.1" y2="421.3"/>
<linearGradient id="g800" href="#sd3" x1="579.4" y1="428.4" x2="577.1" y2="422.5"/>
<linearGradient id="g801" href="#sd3" x1="561.2" y1="428.6" x2="564.7" y2="423.3"/>
<linearGradient id="g802" href="#sd3" x1="558.4" y1="426.7" x2="561.9" y2="421.4"/>
<linearGradient id="g803" href="#sd3" x1="566.3" y1="428.9" x2="569.8" y2="423.6"/>
<linearGradient id="g804" href="#sd3" x1="566.3" y1="428.9" x2="564" y2="422.9"/>
<linearGradient id="g805" href="#sd3" x1="574.4" y1="428.1" x2="572.1" y2="422.1"/>
<linearGradient id="g806" href="#sd3" x1="571.4" y1="429.2" x2="569.1" y2="423.2"/>
<linearGradient id="g807" href="#sd3" x1="579.5" y1="428.4" x2="577.2" y2="422.4"/>
<linearGradient id="g808" href="#sd3" x1="573.7" y1="427.7" x2="577.2" y2="422.4"/>
<linearGradient id="g809" href="#sd3" x1="566.4" y1="428.9" x2="564.1" y2="422.9"/>
<linearGradient id="g810" href="#sd3" x1="560.6" y1="428.2" x2="564.1" y2="422.9"/>
<linearGradient id="g811" href="#sd3" x1="571.5" y1="429.2" x2="569.2" y2="423.2"/>
<linearGradient id="g812" href="#sd3" x1="565.7" y1="428.5" x2="569.2" y2="423.2"/>
<linearGradient id="u813" href="#sd2" x1="0" y1="449.7" x2="0" y2="438.9"/>
<linearGradient id="g814" href="#sd2" x1="460.9" y1="444.4" x2="458" y2="436.9"/>
<linearGradient id="g815" href="#sd2" x1="463.1" y1="443.5" x2="460.2" y2="436.1"/>
<linearGradient id="g816" href="#sd2" x1="507.3" y1="446" x2="504.7" y2="435"/>
<linearGradient id="g817" href="#sd2" x1="457.7" y1="446.8" x2="460.2" y2="436.1"/>
<linearGradient id="g818" href="#sd2" x1="506.9" y1="447.3" x2="504.4" y2="436.3"/>
<linearGradient id="g819" href="#sd2" x1="457.3" y1="448.1" x2="459.9" y2="437.4"/>
<linearGradient id="g820" href="#sd2" x1="502.7" y1="444.5" x2="506.2" y2="439.1"/>
<linearGradient id="g821" href="#sd2" x1="506.9" y1="447.3" x2="510.5" y2="441.8"/>
<linearGradient id="g822" href="#sd2" x1="457" y1="449.4" x2="459.6" y2="438.7"/>
<linearGradient id="g823" href="#sd2" x1="508.8" y1="450.1" x2="506.2" y2="439.1"/>
<linearGradient id="g824" href="#sd2" x1="458.9" y1="452.1" x2="465.2" y2="442.4"/>
<linearGradient id="g825" href="#sd2" x1="453.2" y1="448.4" x2="459.6" y2="438.7"/>
<linearGradient id="g826" href="#sd2" x1="508.5" y1="451.4" x2="505.9" y2="440.3"/>
<linearGradient id="g827" href="#sd2" x1="458.9" y1="452.1" x2="461.4" y2="441.4"/>
<linearGradient id="g828" href="#sd2" x1="508.1" y1="452.7" x2="505.6" y2="441.6"/>
<linearGradient id="g829" href="#sd2" x1="458.5" y1="453.4" x2="461.1" y2="442.7"/>
<linearGradient id="g830" href="#sd2" x1="510" y1="453.1" x2="505.6" y2="441.6"/>
<linearGradient id="g831" href="#sd2" x1="504.9" y1="455.1" x2="500.5" y2="443.6"/>
<linearGradient id="g832" href="#sd2" x1="460.4" y1="456.1" x2="466.8" y2="446.4"/>
<linearGradient id="g833" href="#sd2" x1="454.7" y1="452.4" x2="461.1" y2="442.7"/>
<linearGradient id="g834" href="#sd2" x1="504.9" y1="455.1" x2="502.4" y2="444"/>
<linearGradient id="g835" href="#sd2" x1="462.7" y1="457.6" x2="469" y2="447.9"/>
<linearGradient id="g836" href="#sd2" x1="457" y1="453.9" x2="463.3" y2="444.1"/>
<linearGradient id="g837" href="#sd2" x1="504.6" y1="456.4" x2="502" y2="445.3"/>
<linearGradient id="g838" href="#sd2" x1="506.5" y1="456.8" x2="502" y2="445.3"/>
<linearGradient id="g839" href="#sd2" x1="501.3" y1="458.8" x2="496.9" y2="447.3"/>
<linearGradient id="g840" href="#sd2" x1="464.9" y1="459" x2="471.2" y2="449.3"/>
<linearGradient id="g841" href="#sd2" x1="459.2" y1="455.3" x2="465.5" y2="445.6"/>
<linearGradient id="g842" href="#sd2" x1="503.6" y1="457.9" x2="499.1" y2="446.5"/>
<linearGradient id="g843" href="#sd2" x1="498.5" y1="459.9" x2="494" y2="448.4"/>
<linearGradient id="g844" href="#sd2" x1="467.1" y1="460.5" x2="473.5" y2="450.8"/>
<linearGradient id="g845" href="#sd2" x1="461.4" y1="456.8" x2="467.8" y2="447.1"/>
<linearGradient id="g846" href="#sd2" x1="472.2" y1="460.8" x2="478.6" y2="451.1"/>
<linearGradient id="g847" href="#sd2" x1="472.2" y1="460.8" x2="467.8" y2="449.4"/>
<linearGradient id="g848" href="#sd2" x1="500.7" y1="459" x2="496.2" y2="447.6"/>
<linearGradient id="g849" href="#sd2" x1="495.6" y1="461" x2="491.1" y2="449.6"/>
<linearGradient id="g850" href="#sd2" x1="487.6" y1="461.8" x2="493.9" y2="452.1"/>
<linearGradient id="g851" href="#sd2" x1="487.6" y1="461.8" x2="483.1" y2="450.4"/>
<linearGradient id="g852" href="#sd2" x1="474.4" y1="460" x2="470" y2="448.5"/>
<linearGradient id="g853" href="#sd2" x1="463.6" y1="458.2" x2="470" y2="448.5"/>
<linearGradient id="g854" href="#sd2" x1="497.8" y1="460.2" x2="493.3" y2="448.7"/>
<linearGradient id="g855" href="#sd2" x1="492.7" y1="462.1" x2="488.2" y2="450.7"/>
<linearGradient id="g856" href="#sd2" x1="474.4" y1="462.3" x2="480.8" y2="452.6"/>
<linearGradient id="g857" href="#sd2" x1="468.7" y1="458.6" x2="475.1" y2="448.8"/>
<linearGradient id="g858" href="#sd2" x1="479.5" y1="462.6" x2="485.9" y2="452.9"/>
<linearGradient id="g859" href="#sd2" x1="479.5" y1="462.6" x2="475.1" y2="451.2"/>
<linearGradient id="g860" href="#sd2" x1="489.8" y1="460.9" x2="485.3" y2="449.5"/>
<linearGradient id="g861" href="#sd2" x1="484.7" y1="462.9" x2="480.2" y2="451.5"/>
<linearGradient id="g862" href="#sd2" x1="494.9" y1="461.3" x2="490.4" y2="449.8"/>
<linearGradient id="g863" href="#sd2" x1="484.1" y1="459.5" x2="490.4" y2="449.8"/>
<linearGradient id="g864" href="#sd2" x1="481.8" y1="461.7" x2="477.3" y2="450.3"/>
<linearGradient id="g865" href="#sd2" x1="471" y1="460" x2="477.3" y2="450.3"/>
<linearGradient id="g866" href="#sd2" x1="486.9" y1="462.1" x2="482.4" y2="450.6"/>
<linearGradient id="g867" href="#sd2" x1="476.1" y1="460.3" x2="482.4" y2="450.6"/>
<linearGradient id="cb868" x1="0" y1="1" x2="0" y2="0"><stop offset="0.0000" stop-color="#3e26a8"/><stop offset="0.0159" stop-color="#402ab4"/><stop offset="0.0317" stop-color="#422ec0"/><stop offset="0.0476" stop-color="#4332cb"/><stop offset="0.0635" stop-color="#4537d5"/><stop offset="0.0794" stop-color="#463cde"/><stop offset="0.0952" stop-color="#4741e5"/><stop offset="0.1111" stop-color="#4747eb"/><stop offset="0.1270" stop-color="#484df0"/><stop offset="0.1429" stop-color="#4852f4"/><stop offset="0.1587" stop-color="#4758f8"/><stop offset="0.1746" stop-color="#465efb"/><stop offset="0.1905" stop-color="#4563fd"/><stop offset="0.2063" stop-color="#4269fe"/><stop offset="0.2222" stop-color="#3e6fff"/><stop offset="0.2381" stop-color="#3875fe"/><stop offset="0.2540" stop-color="#327cfc"/><stop offset="0.2698" stop-color="#2f81fa"/><stop offset="0.2857" stop-color="#2e87f7"/><stop offset="0.3016" stop-color="#2d8cf3"/><stop offset="0.3175" stop-color="#2b91ef"/><stop offset="0.3333" stop-color="#2797eb"/><stop offset="0.3492" stop-color="#259be8"/><stop offset="0.3651" stop-color="#23a0e5"/><stop offset="0.3810" stop-color="#20a5e3"/><stop offset="0.3968" stop-color="#1ca9df"/><stop offset="0.4127" stop-color="#18addb"/><stop offset="0.4286" stop-color="#12b1d6"/><stop offset="0.4444" stop-color="#08b5d0"/><stop offset="0.4603" stop-color="#01b8ca"/><stop offset="0.4762" stop-color="#02bac3"/><stop offset="0.4921" stop-color="#0bbdbd"/><stop offset="0.5079" stop-color="#19bfb6"/><stop offset="0.5238" stop-color="#24c1ae"/><stop offset="0.5397" stop-color="#2cc4a7"/><stop offset="0.5556" stop-color="#31c69f"/><stop offset="0.5714" stop-color="#37c897"/><stop offset="0.5873" stop-color="#3fca8e"/><stop offset="0.6032" stop-color="#4acb84"/><stop offset="0.6190" stop-color="#57cc7a"/><stop offset="0.6349" stop-color="#64cd6f"/><stop offset="0.6508" stop-color="#72cd64"/><stop offset="0.6667" stop-color="#81cc59"/><stop offset="0.6825" stop-color="#8fcb4e"/><stop offset="0.6984" stop-color="#9dc943"/><stop offset="0.7143" stop-color="#abc739"/><stop offset="0.7302" stop-color="#b9c431"/><stop offset="0.7460" stop-color="#c5c22a"/><stop offset="0.7619" stop-color="#d1bf27"/><stop offset="0.7778" stop-color="#dcbd29"/><stop offset="0.7937" stop-color="#e6bb2d"/><stop offset="0.8095" stop-color="#f0ba36"/><stop offset="0.8254" stop-color="#f8ba3d"/><stop offset="0.8413" stop-color="#febe3c"/><stop offset="0.8571" stop-color="#fec338"/><stop offset="0.8730" stop-color="#fec934"/><stop offset="0.8889" stop-color="#fccf30"/><stop offset="0.9048" stop-color="#fad62d"/><stop offset="0.9206" stop-color="#f7dc2a"/><stop offset="0.9365" stop-color="#f5e327"/><stop offset="0.9524" stop-color="#f5e924"/><stop offset="0.9683" stop-color="#f6ef20"/><stop offset="0.9841" stop-color="#f7f51b"/><stop offset="1.0000" stop-color="#f9fb15"/></linearGradient>
<linearGradient id="cb869" x1="0" y1="1" x2="0" y2="0"><stop offset="0.0000" stop-color="#3e26a8"/><stop offset="0.0159" stop-color="#402ab4"/><stop offset="0.0317" stop-color="#422ec0"/><stop offset="0.0476" stop-color="#4332cb"/><stop offset="0.0635" stop-color="#4537d5"/><stop offset="0.0794" stop-color="#463cde"/><stop offset="0.0952" stop-color="#4741e5"/><stop offset="0.1111" stop-color="#4747eb"/><stop offset="0.1270" stop-color="#484df0"/><stop offset="0.1429" stop-color="#4852f4"/><stop offset="0.1587" stop-color="#4758f8"/><stop offset="0.1746" stop-color="#465efb"/><stop offset="0.1905" stop-color="#4563fd"/><stop offset="0.2063" stop-color="#4269fe"/><stop offset="0.2222" stop-color="#3e6fff"/><stop offset="0.2381" stop-color="#3875fe"/><stop offset="0.2540" stop-color="#327cfc"/><stop offset="0.2698" stop-color="#2f81fa"/><stop offset="0.2857" stop-color="#2e87f7"/><stop offset="0.3016" stop-color="#2d8cf3"/><stop offset="0.3175" stop-color="#2b91ef"/><stop offset="0.3333" stop-color="#2797eb"/><stop offset="0.3492" stop-color="#259be8"/><stop offset="0.3651" stop-color="#23a0e5"/><stop offset="0.3810" stop-color="#20a5e3"/><stop offset="0.3968" stop-color="#1ca9df"/><stop offset="0.4127" stop-color="#18addb"/><stop offset="0.4286" stop-color="#12b1d6"/><stop offset="0.4444" stop-color="#08b5d0"/><stop offset="0.4603" stop-color="#01b8ca"/><stop offset="0.4762" stop-color="#02bac3"/><stop offset="0.4921" stop-color="#0bbdbd"/><stop offset="0.5079" stop-color="#19bfb6"/><stop offset="0.5238" stop-color="#24c1ae"/><stop offset="0.5397" stop-color="#2cc4a7"/><stop offset="0.5556" stop-color="#31c69f"/><stop offset="0.5714" stop-color="#37c897"/><stop offset="0.5873" stop-color="#3fca8e"/><stop offset="0.6032" stop-color="#4acb84"/><stop offset="0.6190" stop-color="#57cc7a"/><stop offset="0.6349" stop-color="#64cd6f"/><stop offset="0.6508" stop-color="#72cd64"/><stop offset="0.6667" stop-color="#81cc59"/><stop offset="0.6825" stop-color="#8fcb4e"/><stop offset="0.6984" stop-color="#9dc943"/><stop offset="0.7143" stop-color="#abc739"/><stop offset="0.7302" stop-color="#b9c431"/><stop offset="0.7460" stop-color="#c5c22a"/><stop offset="0.7619" stop-color="#d1bf27"/><stop offset="0.7778" stop-color="#dcbd29"/><stop offset="0.7937" stop-color="#e6bb2d"/><stop offset="0.8095" stop-color="#f0ba36"/><stop offset="0.8254" stop-color="#f8ba3d"/><stop offset="0.8413" stop-color="#febe3c"/><stop offset="0.8571" stop-color="#fec338"/><stop offset="0.8730" stop-color="#fec934"/><stop offset="0.8889" stop-color="#fccf30"/><stop offset="0.9048" stop-color="#fad62d"/><stop offset="0.9206" stop-color="#f7dc2a"/><stop offset="0.9365" stop-color="#f5e327"/><stop offset="0.9524" stop-color="#f5e924"/><stop offset="0.9683" stop-color="#f6ef20"/><stop offset="0.9841" stop-color="#f7f51b"/><stop offset="1.0000" stop-color="#f9fb15"/></linearGradient>
</defs>
<polygon points="30.6,153.1 139.1,224.2 282,169.5 173.5,98.4" fill="#402bb7"/><polygon points="140.7,124.5 142.4,125.5 142.2,128.4 153.1,135.5 156,134.5 160.3,137.3 163.2,136.2 165.4,137.6 171,135.4 173.2,136.8 187.5,131.4 188.3,128.9 191.1,127.7 192.5,122.7 189.6,66.5 188.3,65.6 188.1,62.5 179.4,56.8 176.6,57.9 172.2,55.1 169.4,56.1 167.2,54.7 161.5,56.9 159.3,55.5 147.9,59.9 147.1,62.4 144.3,63.5 143.6,66.1" fill="url(#u1)"/><polygon points="190.3,121.3 191,118.7 188.1,62.6" fill="url(#g2)" stroke="url(#g2)" stroke-width=".5"/><polygon points="141.5,121.9 144.3,63.5 142.2,119.4" fill="url(#g3)" stroke="url(#g3)" stroke-width=".5"/><polygon points="187.4,65.1 190.3,121.3 188.1,62.6" fill="url(#g4)" stroke="url(#g4)" stroke-width=".5"/><polygon points="143.6,66.1 144.3,63.5 141.5,121.9" fill="url(#g5)" stroke="url(#g5)" stroke-width=".5"/><polygon points="189.6,66.5 192.4,122.7 190.3,121.3" fill="url(#g6)" stroke="url(#g6)" stroke-width=".5"/><polygon points="189.6,66.5 190.3,121.3 187.4,65.1" fill="url(#g7)" stroke="url(#g7)" stroke-width=".5"/><polygon points="140.8,124.4 143.6,66.1 141.5,121.9" fill="url(#g8)" stroke="url(#g8)" stroke-width=".5"/><polygon points="191.8,125.2 192.4,122.7 189.6,66.5" fill="url(#g9)" stroke="url(#g9)" stroke-width=".5"/><polygon points="143,125.9 145.8,67.5 143.6,66.1" fill="url(#g10)" stroke="url(#g10)" stroke-width=".5"/><polygon points="143,125.9 143.6,66.1 140.8,124.4" fill="url(#g11)" stroke="url(#g11)" stroke-width=".5"/><polygon points="188.9,69 191.8,125.2 189.6,66.5" fill="url(#g12)" stroke="url(#g12)" stroke-width=".5"/><polygon points="145.1,70 145.8,67.5 143,125.9" fill="url(#g13)" stroke="url(#g13)" stroke-width=".5"/><polygon points="191.1,127.7 191.8,125.2 188.9,69" fill="url(#g14)" stroke="url(#g14)" stroke-width=".5"/><polygon points="142.3,128.4 145.1,70 143,125.9" fill="url(#g15)" stroke="url(#g15)" stroke-width=".5"/><polygon points="188.2,128.8 191.1,127.7 188.9,69" fill="url(#g16)" stroke="url(#g16)" stroke-width=".5"/><polygon points="188.2,128.8 188.9,69 186,70.1" fill="url(#g17)" stroke="url(#g17)" stroke-width=".5"/><polygon points="144.4,129.8 147.3,71.4 145.1,70" fill="url(#g18)" stroke="url(#g18)" stroke-width=".5"/><polygon points="144.4,129.8 145.1,70 142.3,128.4" fill="url(#g19)" stroke="url(#g19)" stroke-width=".5"/><polygon points="185.4,72.6 188.2,128.8 186,70.1" fill="url(#g20)" stroke="url(#g20)" stroke-width=".5"/><polygon points="146.6,131.2 149.5,72.8 147.3,71.4" fill="url(#g21)" stroke="url(#g21)" stroke-width=".5"/><polygon points="146.6,131.2 147.3,71.4 144.4,129.8" fill="url(#g22)" stroke="url(#g22)" stroke-width=".5"/><polygon points="187.5,131.3 188.2,128.8 185.4,72.6" fill="url(#g23)" stroke="url(#g23)" stroke-width=".5"/><polygon points="184.7,132.4 187.5,131.3 185.4,72.6" fill="url(#g24)" stroke="url(#g24)" stroke-width=".5"/><polygon points="184.7,132.4 185.4,72.6 182.5,73.7" fill="url(#g25)" stroke="url(#g25)" stroke-width=".5"/><polygon points="148.8,132.6 151.6,74.3 149.5,72.8" fill="url(#g26)" stroke="url(#g26)" stroke-width=".5"/><polygon points="148.8,132.6 149.5,72.8 146.6,131.2" fill="url(#g27)" stroke="url(#g27)" stroke-width=".5"/><polygon points="181.8,133.5 184.7,132.4 182.5,73.7" fill="url(#g28)" stroke="url(#g28)" stroke-width=".5"/><polygon points="181.8,133.5 182.5,73.7 179.6,74.8" fill="url(#g29)" stroke="url(#g29)" stroke-width=".5"/><polygon points="151,134.1 153.8,75.7 151.6,74.3" fill="url(#g30)" stroke="url(#g30)" stroke-width=".5"/><polygon points="151,134.1 151.6,74.3 148.8,132.6" fill="url(#g31)" stroke="url(#g31)" stroke-width=".5"/><polygon points="156,134.4 158.8,76 156.7,74.6" fill="url(#g32)" stroke="url(#g32)" stroke-width=".5"/><polygon points="156,134.4 156.7,74.6 153.8,75.7" fill="url(#g33)" stroke="url(#g33)" stroke-width=".5"/><polygon points="179,134.6 181.8,133.5 179.6,74.8" fill="url(#g34)" stroke="url(#g34)" stroke-width=".5"/><polygon points="179,134.6 179.6,74.8 176.8,75.9" fill="url(#g35)" stroke="url(#g35)" stroke-width=".5"/><polygon points="171.1,135.4 173.9,77 171.8,75.6" fill="url(#g36)" stroke="url(#g36)" stroke-width=".5"/><polygon points="171.1,135.4 171.8,75.6 168.9,76.7" fill="url(#g37)" stroke="url(#g37)" stroke-width=".5"/><polygon points="153.1,135.5 156,134.4 153.8,75.7" fill="url(#g38)" stroke="url(#g38)" stroke-width=".5"/><polygon points="153.1,135.5 153.8,75.7 151,134.1" fill="url(#g39)" stroke="url(#g39)" stroke-width=".5"/><polygon points="176.1,135.7 179,134.6 176.8,75.9" fill="url(#g40)" stroke="url(#g40)" stroke-width=".5"/><polygon points="176.1,135.7 176.8,75.9 173.9,77" fill="url(#g41)" stroke="url(#g41)" stroke-width=".5"/><polygon points="158.2,135.8 161,77.4 158.8,76" fill="url(#g42)" stroke="url(#g42)" stroke-width=".5"/><polygon points="158.2,135.8 158.8,76 156,134.4" fill="url(#g43)" stroke="url(#g43)" stroke-width=".5"/><polygon points="163.2,136.1 166,77.8 163.9,76.3" fill="url(#g44)" stroke="url(#g44)" stroke-width=".5"/><polygon points="163.2,136.1 163.9,76.3 161,77.4" fill="url(#g45)" stroke="url(#g45)" stroke-width=".5"/><polygon points="168.2,136.5 171.1,135.4 168.9,76.7" fill="url(#g46)" stroke="url(#g46)" stroke-width=".5"/><polygon points="168.2,136.5 168.9,76.7 166,77.8" fill="url(#g47)" stroke="url(#g47)" stroke-width=".5"/><polygon points="173.2,136.8 176.1,135.7 173.9,77" fill="url(#g48)" stroke="url(#g48)" stroke-width=".5"/><polygon points="173.2,136.8 173.9,77 171.1,135.4" fill="url(#g49)" stroke="url(#g49)" stroke-width=".5"/><polygon points="160.3,137.2 163.2,136.1 161,77.4" fill="url(#g50)" stroke="url(#g50)" stroke-width=".5"/><polygon points="160.3,137.2 161,77.4 158.2,135.8" fill="url(#g51)" stroke="url(#g51)" stroke-width=".5"/><polygon points="165.3,137.6 168.2,136.5 166,77.8" fill="url(#g52)" stroke="url(#g52)" stroke-width=".5"/><polygon points="165.3,137.6 166,77.8 163.2,136.1" fill="url(#g53)" stroke="url(#g53)" stroke-width=".5"/><polygon points="143.6,66.1 145.7,67.5 145.1,70 153.8,75.7 156.7,74.7 161,77.5 163.9,76.4 166,77.8 171.7,75.6 173.9,77 185.4,72.7 186.1,70.1 188.9,69 189.6,66.5 187.5,65 188.1,62.5 179.5,56.8 176.6,57.9 172.2,55.1 169.4,56.1 167.2,54.7 161.5,56.9 159.3,55.5 147.9,59.9 147.1,62.4 144.3,63.5" fill="#d3bf27"/><polygon points="55,157.3 56.6,158.4 56.5,161.2 67.4,168.3 70.2,167.3 74.6,170.1 77.4,169 79.6,170.4 85.3,168.3 87.5,169.7 101.8,164.2 102.5,161.7 105.4,160.6 106.8,155.5 103.9,87.4 102.5,86.4 102.4,83.4 93.7,77.7 90.8,78.8 86.5,75.9 83.6,77 81.5,75.6 75.8,77.8 73.6,76.4 62.1,80.8 61.4,83.3 58.6,84.4 57.9,86.9" fill="url(#u54)"/><polygon points="104.5,154.1 105.2,151.6 102.4,83.4" fill="url(#g55)" stroke="url(#g55)" stroke-width=".5"/><polygon points="55.7,154.7 58.6,84.4 56.4,152.2" fill="url(#g56)" stroke="url(#g56)" stroke-width=".5"/><polygon points="101.7,85.9 104.5,154.1 102.4,83.4" fill="url(#g57)" stroke="url(#g57)" stroke-width=".5"/><polygon points="57.9,86.9 58.6,84.4 55.7,154.7" fill="url(#g58)" stroke="url(#g58)" stroke-width=".5"/><polygon points="103.9,87.4 106.7,155.5 104.5,154.1" fill="url(#g59)" stroke="url(#g59)" stroke-width=".5"/><polygon points="103.9,87.4 104.5,154.1 101.7,85.9" fill="url(#g60)" stroke="url(#g60)" stroke-width=".5"/><polygon points="55.1,157.3 57.9,86.9 55.7,154.7" fill="url(#g61)" stroke="url(#g61)" stroke-width=".5"/><polygon points="106,158 106.7,155.5 103.9,87.4" fill="url(#g62)" stroke="url(#g62)" stroke-width=".5"/><polygon points="57.2,158.7 60.1,88.3 57.9,86.9" fill="url(#g63)" stroke="url(#g63)" stroke-width=".5"/><polygon points="57.2,158.7 57.9,86.9 55.1,157.3" fill="url(#g64)" stroke="url(#g64)" stroke-width=".5"/><polygon points="103.2,89.9 106,158 103.9,87.4" fill="url(#g65)" stroke="url(#g65)" stroke-width=".5"/><polygon points="59.4,90.9 60.1,88.3 57.2,158.7" fill="url(#g66)" stroke="url(#g66)" stroke-width=".5"/><polygon points="105.3,160.5 106,158 103.2,89.9" fill="url(#g67)" stroke="url(#g67)" stroke-width=".5"/><polygon points="56.5,161.2 59.4,90.9 57.2,158.7" fill="url(#g68)" stroke="url(#g68)" stroke-width=".5"/><polygon points="102.5,161.6 105.3,160.5 103.2,89.9" fill="url(#g69)" stroke="url(#g69)" stroke-width=".5"/><polygon points="102.5,161.6 103.2,89.9 100.3,91" fill="url(#g70)" stroke="url(#g70)" stroke-width=".5"/><polygon points="58.7,162.6 61.6,92.3 59.4,90.9" fill="url(#g71)" stroke="url(#g71)" stroke-width=".5"/><polygon points="58.7,162.6 59.4,90.9 56.5,161.2" fill="url(#g72)" stroke="url(#g72)" stroke-width=".5"/><polygon points="99.6,93.5 102.5,161.6 100.3,91" fill="url(#g73)" stroke="url(#g73)" stroke-width=".5"/><polygon points="60.9,164 63.7,93.7 61.6,92.3" fill="url(#g74)" stroke="url(#g74)" stroke-width=".5"/><polygon points="60.9,164 61.6,92.3 58.7,162.6" fill="url(#g75)" stroke="url(#g75)" stroke-width=".5"/><polygon points="101.8,164.1 102.5,161.6 99.6,93.5" fill="url(#g76)" stroke="url(#g76)" stroke-width=".5"/><polygon points="98.9,165.2 101.8,164.1 99.6,93.5" fill="url(#g77)" stroke="url(#g77)" stroke-width=".5"/><polygon points="98.9,165.2 99.6,93.5 96.8,94.6" fill="url(#g78)" stroke="url(#g78)" stroke-width=".5"/><polygon points="63,165.5 65.9,95.1 63.7,93.7" fill="url(#g79)" stroke="url(#g79)" stroke-width=".5"/><polygon points="63,165.5 63.7,93.7 60.9,164" fill="url(#g80)" stroke="url(#g80)" stroke-width=".5"/><polygon points="96.1,166.3 98.9,165.2 96.8,94.6" fill="url(#g81)" stroke="url(#g81)" stroke-width=".5"/><polygon points="96.1,166.3 96.8,94.6 93.9,95.7" fill="url(#g82)" stroke="url(#g82)" stroke-width=".5"/><polygon points="65.2,166.9 68.1,96.5 65.9,95.1" fill="url(#g83)" stroke="url(#g83)" stroke-width=".5"/><polygon points="65.2,166.9 65.9,95.1 63,165.5" fill="url(#g84)" stroke="url(#g84)" stroke-width=".5"/><polygon points="70.2,167.2 73.1,96.9 70.9,95.5" fill="url(#g85)" stroke="url(#g85)" stroke-width=".5"/><polygon points="70.2,167.2 70.9,95.5 68.1,96.5" fill="url(#g86)" stroke="url(#g86)" stroke-width=".5"/><polygon points="93.2,167.4 96.1,166.3 93.9,95.7" fill="url(#g87)" stroke="url(#g87)" stroke-width=".5"/><polygon points="93.2,167.4 93.9,95.7 91,96.8" fill="url(#g88)" stroke="url(#g88)" stroke-width=".5"/><polygon points="85.3,168.2 88.2,97.9 86,96.4" fill="url(#g89)" stroke="url(#g89)" stroke-width=".5"/><polygon points="85.3,168.2 86,96.4 83.2,97.5" fill="url(#g90)" stroke="url(#g90)" stroke-width=".5"/><polygon points="67.4,168.3 70.2,167.2 68.1,96.5" fill="url(#g91)" stroke="url(#g91)" stroke-width=".5"/><polygon points="67.4,168.3 68.1,96.5 65.2,166.9" fill="url(#g92)" stroke="url(#g92)" stroke-width=".5"/><polygon points="90.4,168.5 93.2,167.4 91,96.8" fill="url(#g93)" stroke="url(#g93)" stroke-width=".5"/><polygon points="90.4,168.5 91,96.8 88.2,97.9" fill="url(#g94)" stroke="url(#g94)" stroke-width=".5"/><polygon points="72.4,168.6 75.3,98.3 73.1,96.9" fill="url(#g95)" stroke="url(#g95)" stroke-width=".5"/><polygon points="72.4,168.6 73.1,96.9 70.2,167.2" fill="url(#g96)" stroke="url(#g96)" stroke-width=".5"/><polygon points="77.4,169 80.3,98.6 78.1,97.2" fill="url(#g97)" stroke="url(#g97)" stroke-width=".5"/><polygon points="77.4,169 78.1,97.2 75.3,98.3" fill="url(#g98)" stroke="url(#g98)" stroke-width=".5"/><polygon points="82.5,169.3 85.3,168.2 83.2,97.5" fill="url(#g99)" stroke="url(#g99)" stroke-width=".5"/><polygon points="82.5,169.3 83.2,97.5 80.3,98.6" fill="url(#g100)" stroke="url(#g100)" stroke-width=".5"/><polygon points="87.5,169.6 90.4,168.5 88.2,97.9" fill="url(#g101)" stroke="url(#g101)" stroke-width=".5"/><polygon points="87.5,169.6 88.2,97.9 85.3,168.2" fill="url(#g102)" stroke="url(#g102)" stroke-width=".5"/><polygon points="74.6,170.1 77.4,169 75.3,98.3" fill="url(#g103)" stroke="url(#g103)" stroke-width=".5"/><polygon points="74.6,170.1 75.3,98.3 72.4,168.6" fill="url(#g104)" stroke="url(#g104)" stroke-width=".5"/><polygon points="79.6,170.4 82.5,169.3 80.3,98.6" fill="url(#g105)" stroke="url(#g105)" stroke-width=".5"/><polygon points="79.6,170.4 80.3,98.6 77.4,169" fill="url(#g106)" stroke="url(#g106)" stroke-width=".5"/><polygon points="57.9,86.9 60,88.4 59.4,90.9 68,96.6 70.9,95.5 75.3,98.3 78.1,97.3 80.3,98.7 86,96.5 88.2,97.9 99.6,93.5 100.4,91 103.2,89.9 103.9,87.4 101.8,85.9 102.4,83.4 93.7,77.7 90.8,78.8 86.5,75.9 83.6,77 81.5,75.6 75.8,77.8 73.6,76.4 62.1,80.8 61.4,83.3 58.6,84.4" fill="#fbd22f"/><polygon points="205.8,167.1 207.5,168.2 207.3,171.1 218.2,178.2 221.1,177.1 225.4,179.9 228.3,178.9 230.5,180.3 236.1,178.1 238.3,179.5 252.6,174 253.4,171.5 256.2,170.4 257.6,165.3 254.7,120.8 253.5,119.9 253.2,116.8 244.5,111.1 241.7,112.2 237.3,109.4 234.5,110.4 232.3,109 226.6,111.2 224.4,109.8 213,114.2 212.2,116.7 209.4,117.8 208.7,120.4" fill="url(#u107)"/><polygon points="255.4,163.9 256.1,161.4 253.2,116.9" fill="url(#g108)" stroke="url(#g108)" stroke-width=".5"/><polygon points="206.6,164.6 209.4,117.8 207.3,162.1" fill="url(#g109)" stroke="url(#g109)" stroke-width=".5"/><polygon points="252.5,119.4 255.4,163.9 253.2,116.9" fill="url(#g110)" stroke="url(#g110)" stroke-width=".5"/><polygon points="208.8,120.4 209.4,117.8 206.6,164.6" fill="url(#g111)" stroke="url(#g111)" stroke-width=".5"/><polygon points="254.7,120.8 257.5,165.3 255.4,163.9" fill="url(#g112)" stroke="url(#g112)" stroke-width=".5"/><polygon points="254.7,120.8 255.4,163.9 252.5,119.4" fill="url(#g113)" stroke="url(#g113)" stroke-width=".5"/><polygon points="205.9,167.1 208.8,120.4 206.6,164.6" fill="url(#g114)" stroke="url(#g114)" stroke-width=".5"/><polygon points="256.9,167.9 257.5,165.3 254.7,120.8" fill="url(#g115)" stroke="url(#g115)" stroke-width=".5"/><polygon points="208.1,168.5 210.9,121.8 208.8,120.4" fill="url(#g116)" stroke="url(#g116)" stroke-width=".5"/><polygon points="208.1,168.5 208.8,120.4 205.9,167.1" fill="url(#g117)" stroke="url(#g117)" stroke-width=".5"/><polygon points="254,123.3 256.9,167.9 254.7,120.8" fill="url(#g118)" stroke="url(#g118)" stroke-width=".5"/><polygon points="210.2,124.3 210.9,121.8 208.1,168.5" fill="url(#g119)" stroke="url(#g119)" stroke-width=".5"/><polygon points="256.2,170.4 256.9,167.9 254,123.3" fill="url(#g120)" stroke="url(#g120)" stroke-width=".5"/><polygon points="207.4,171 210.2,124.3 208.1,168.5" fill="url(#g121)" stroke="url(#g121)" stroke-width=".5"/><polygon points="253.3,171.5 256.2,170.4 254,123.3" fill="url(#g122)" stroke="url(#g122)" stroke-width=".5"/><polygon points="253.3,171.5 254,123.3 251.1,124.4" fill="url(#g123)" stroke="url(#g123)" stroke-width=".5"/><polygon points="209.5,172.5 212.4,125.7 210.2,124.3" fill="url(#g124)" stroke="url(#g124)" stroke-width=".5"/><polygon points="209.5,172.5 210.2,124.3 207.4,171" fill="url(#g125)" stroke="url(#g125)" stroke-width=".5"/><polygon points="250.5,126.9 253.3,171.5 251.1,124.4" fill="url(#g126)" stroke="url(#g126)" stroke-width=".5"/><polygon points="211.7,173.9 214.6,127.1 212.4,125.7" fill="url(#g127)" stroke="url(#g127)" stroke-width=".5"/><polygon points="211.7,173.9 212.4,125.7 209.5,172.5" fill="url(#g128)" stroke="url(#g128)" stroke-width=".5"/><polygon points="252.6,174 253.3,171.5 250.5,126.9" fill="url(#g129)" stroke="url(#g129)" stroke-width=".5"/><polygon points="249.8,175.1 252.6,174 250.5,126.9" fill="url(#g130)" stroke="url(#g130)" stroke-width=".5"/><polygon points="249.8,175.1 250.5,126.9 247.6,128" fill="url(#g131)" stroke="url(#g131)" stroke-width=".5"/><polygon points="213.9,175.3 216.7,128.6 214.6,127.1" fill="url(#g132)" stroke="url(#g132)" stroke-width=".5"/><polygon points="213.9,175.3 214.6,127.1 211.7,173.9" fill="url(#g133)" stroke="url(#g133)" stroke-width=".5"/><polygon points="246.9,176.2 249.8,175.1 247.6,128" fill="url(#g134)" stroke="url(#g134)" stroke-width=".5"/><polygon points="246.9,176.2 247.6,128 244.7,129.1" fill="url(#g135)" stroke="url(#g135)" stroke-width=".5"/><polygon points="216.1,176.7 218.9,130 216.7,128.6" fill="url(#g136)" stroke="url(#g136)" stroke-width=".5"/><polygon points="216.1,176.7 216.7,128.6 213.9,175.3" fill="url(#g137)" stroke="url(#g137)" stroke-width=".5"/><polygon points="221.1,177 223.9,130.3 221.8,128.9" fill="url(#g138)" stroke="url(#g138)" stroke-width=".5"/><polygon points="221.1,177 221.8,128.9 218.9,130" fill="url(#g139)" stroke="url(#g139)" stroke-width=".5"/><polygon points="244.1,177.3 246.9,176.2 244.7,129.1" fill="url(#g140)" stroke="url(#g140)" stroke-width=".5"/><polygon points="244.1,177.3 244.7,129.1 241.9,130.2" fill="url(#g141)" stroke="url(#g141)" stroke-width=".5"/><polygon points="236.2,178 239,131.3 236.9,129.9" fill="url(#g142)" stroke="url(#g142)" stroke-width=".5"/><polygon points="236.2,178 236.9,129.9 234,131" fill="url(#g143)" stroke="url(#g143)" stroke-width=".5"/><polygon points="218.2,178.1 221.1,177 218.9,130" fill="url(#g144)" stroke="url(#g144)" stroke-width=".5"/><polygon points="218.2,178.1 218.9,130 216.1,176.7" fill="url(#g145)" stroke="url(#g145)" stroke-width=".5"/><polygon points="241.2,178.4 244.1,177.3 241.9,130.2" fill="url(#g146)" stroke="url(#g146)" stroke-width=".5"/><polygon points="241.2,178.4 241.9,130.2 239,131.3" fill="url(#g147)" stroke="url(#g147)" stroke-width=".5"/><polygon points="223.3,178.5 226.1,131.7 223.9,130.3" fill="url(#g148)" stroke="url(#g148)" stroke-width=".5"/><polygon points="223.3,178.5 223.9,130.3 221.1,177" fill="url(#g149)" stroke="url(#g149)" stroke-width=".5"/><polygon points="228.3,178.8 231.1,132.1 229,130.6" fill="url(#g150)" stroke="url(#g150)" stroke-width=".5"/><polygon points="228.3,178.8 229,130.6 226.1,131.7" fill="url(#g151)" stroke="url(#g151)" stroke-width=".5"/><polygon points="233.3,179.1 236.2,178 234,131" fill="url(#g152)" stroke="url(#g152)" stroke-width=".5"/><polygon points="233.3,179.1 234,131 231.1,132.1" fill="url(#g153)" stroke="url(#g153)" stroke-width=".5"/><polygon points="238.3,179.5 241.2,178.4 239,131.3" fill="url(#g154)" stroke="url(#g154)" stroke-width=".5"/><polygon points="238.3,179.5 239,131.3 236.2,178" fill="url(#g155)" stroke="url(#g155)" stroke-width=".5"/><polygon points="225.4,179.9 228.3,178.8 226.1,131.7" fill="url(#g156)" stroke="url(#g156)" stroke-width=".5"/><polygon points="225.4,179.9 226.1,131.7 223.3,178.5" fill="url(#g157)" stroke="url(#g157)" stroke-width=".5"/><polygon points="230.4,180.2 233.3,179.1 231.1,132.1" fill="url(#g158)" stroke="url(#g158)" stroke-width=".5"/><polygon points="230.4,180.2 231.1,132.1 228.3,178.8" fill="url(#g159)" stroke="url(#g159)" stroke-width=".5"/><polygon points="208.7,120.4 210.8,121.8 210.2,124.3 218.9,130 221.8,129 226.1,131.8 229,130.7 231.1,132.1 236.8,129.9 239,131.3 250.5,127 251.2,124.5 254,123.3 254.7,120.8 252.6,119.3 253.2,116.8 244.6,111.1 241.7,112.2 237.3,109.4 234.5,110.4 232.3,109 226.6,111.2 224.4,109.8 213,114.2 212.2,116.7 209.4,117.8" fill="#58cc79"/><polygon points="120.1,199.9 121.7,201 121.6,203.9 132.5,211 135.3,209.9 139.7,212.8 142.5,211.7 144.7,213.1 150.4,210.9 152.6,212.3 166.9,206.9 167.6,204.3 170.5,203.2 171.9,198.2 169,122.1 167.6,121.2 167.5,118.1 158.8,112.4 155.9,113.5 151.6,110.7 148.7,111.7 146.6,110.3 140.9,112.5 138.7,111.1 127.2,115.5 126.5,118 123.7,119.1 123,121.7" fill="url(#u160)"/><polygon points="169.6,196.7 170.3,194.2 167.5,118.2" fill="url(#g161)" stroke="url(#g161)" stroke-width=".5"/><polygon points="120.8,197.4 123.7,119.1 121.5,194.9" fill="url(#g162)" stroke="url(#g162)" stroke-width=".5"/><polygon points="166.8,120.7 169.6,196.7 167.5,118.2" fill="url(#g163)" stroke="url(#g163)" stroke-width=".5"/><polygon points="123,121.7 123.7,119.1 120.8,197.4" fill="url(#g164)" stroke="url(#g164)" stroke-width=".5"/><polygon points="168.9,122.1 171.8,198.2 169.6,196.7" fill="url(#g165)" stroke="url(#g165)" stroke-width=".5"/><polygon points="168.9,122.1 169.6,196.7 166.8,120.7" fill="url(#g166)" stroke="url(#g166)" stroke-width=".5"/><polygon points="120.2,199.9 123,121.7 120.8,197.4" fill="url(#g167)" stroke="url(#g167)" stroke-width=".5"/><polygon points="171.1,200.7 171.8,198.2 168.9,122.1" fill="url(#g168)" stroke="url(#g168)" stroke-width=".5"/><polygon points="122.3,201.3 125.2,123.1 123,121.7" fill="url(#g169)" stroke="url(#g169)" stroke-width=".5"/><polygon points="122.3,201.3 123,121.7 120.2,199.9" fill="url(#g170)" stroke="url(#g170)" stroke-width=".5"/><polygon points="168.3,124.6 171.1,200.7 168.9,122.1" fill="url(#g171)" stroke="url(#g171)" stroke-width=".5"/><polygon points="124.5,125.6 125.2,123.1 122.3,201.3" fill="url(#g172)" stroke="url(#g172)" stroke-width=".5"/><polygon points="170.4,203.2 171.1,200.7 168.3,124.6" fill="url(#g173)" stroke="url(#g173)" stroke-width=".5"/><polygon points="121.6,203.9 124.5,125.6 122.3,201.3" fill="url(#g174)" stroke="url(#g174)" stroke-width=".5"/><polygon points="167.6,204.3 170.4,203.2 168.3,124.6" fill="url(#g175)" stroke="url(#g175)" stroke-width=".5"/><polygon points="167.6,204.3 168.3,124.6 165.4,125.7" fill="url(#g176)" stroke="url(#g176)" stroke-width=".5"/><polygon points="123.8,205.3 126.7,127 124.5,125.6" fill="url(#g177)" stroke="url(#g177)" stroke-width=".5"/><polygon points="123.8,205.3 124.5,125.6 121.6,203.9" fill="url(#g178)" stroke="url(#g178)" stroke-width=".5"/><polygon points="164.7,128.2 167.6,204.3 165.4,125.7" fill="url(#g179)" stroke="url(#g179)" stroke-width=".5"/><polygon points="126,206.7 128.8,128.4 126.7,127" fill="url(#g180)" stroke="url(#g180)" stroke-width=".5"/><polygon points="126,206.7 126.7,127 123.8,205.3" fill="url(#g181)" stroke="url(#g181)" stroke-width=".5"/><polygon points="166.9,206.8 167.6,204.3 164.7,128.2" fill="url(#g182)" stroke="url(#g182)" stroke-width=".5"/><polygon points="164,207.9 166.9,206.8 164.7,128.2" fill="url(#g183)" stroke="url(#g183)" stroke-width=".5"/><polygon points="164,207.9 164.7,128.2 161.9,129.3" fill="url(#g184)" stroke="url(#g184)" stroke-width=".5"/><polygon points="128.1,208.1 131,129.9 128.8,128.4" fill="url(#g185)" stroke="url(#g185)" stroke-width=".5"/><polygon points="128.1,208.1 128.8,128.4 126,206.7" fill="url(#g186)" stroke="url(#g186)" stroke-width=".5"/><polygon points="161.2,209 164,207.9 161.9,129.3" fill="url(#g187)" stroke="url(#g187)" stroke-width=".5"/><polygon points="161.2,209 161.9,129.3 159,130.4" fill="url(#g188)" stroke="url(#g188)" stroke-width=".5"/><polygon points="130.3,209.5 133.2,131.3 131,129.9" fill="url(#g189)" stroke="url(#g189)" stroke-width=".5"/><polygon points="130.3,209.5 131,129.9 128.1,208.1" fill="url(#g190)" stroke="url(#g190)" stroke-width=".5"/><polygon points="135.3,209.9 138.2,131.6 136,130.2" fill="url(#g191)" stroke="url(#g191)" stroke-width=".5"/><polygon points="135.3,209.9 136,130.2 133.2,131.3" fill="url(#g192)" stroke="url(#g192)" stroke-width=".5"/><polygon points="158.3,210.1 161.2,209 159,130.4" fill="url(#g193)" stroke="url(#g193)" stroke-width=".5"/><polygon points="158.3,210.1 159,130.4 156.1,131.5" fill="url(#g194)" stroke="url(#g194)" stroke-width=".5"/><polygon points="150.4,210.9 153.3,132.6 151.1,131.2" fill="url(#g195)" stroke="url(#g195)" stroke-width=".5"/><polygon points="150.4,210.9 151.1,131.2 148.3,132.3" fill="url(#g196)" stroke="url(#g196)" stroke-width=".5"/><polygon points="132.5,211 135.3,209.9 133.2,131.3" fill="url(#g197)" stroke="url(#g197)" stroke-width=".5"/><polygon points="132.5,211 133.2,131.3 130.3,209.5" fill="url(#g198)" stroke="url(#g198)" stroke-width=".5"/><polygon points="155.5,211.2 158.3,210.1 156.1,131.5" fill="url(#g199)" stroke="url(#g199)" stroke-width=".5"/><polygon points="155.5,211.2 156.1,131.5 153.3,132.6" fill="url(#g200)" stroke="url(#g200)" stroke-width=".5"/><polygon points="137.5,211.3 140.4,133 138.2,131.6" fill="url(#g201)" stroke="url(#g201)" stroke-width=".5"/><polygon points="137.5,211.3 138.2,131.6 135.3,209.9" fill="url(#g202)" stroke="url(#g202)" stroke-width=".5"/><polygon points="142.5,211.6 145.4,133.4 143.2,131.9" fill="url(#g203)" stroke="url(#g203)" stroke-width=".5"/><polygon points="142.5,211.6 143.2,131.9 140.4,133" fill="url(#g204)" stroke="url(#g204)" stroke-width=".5"/><polygon points="147.6,211.9 150.4,210.9 148.3,132.3" fill="url(#g205)" stroke="url(#g205)" stroke-width=".5"/><polygon points="147.6,211.9 148.3,132.3 145.4,133.4" fill="url(#g206)" stroke="url(#g206)" stroke-width=".5"/><polygon points="152.6,212.3 155.5,211.2 153.3,132.6" fill="url(#g207)" stroke="url(#g207)" stroke-width=".5"/><polygon points="152.6,212.3 153.3,132.6 150.4,210.9" fill="url(#g208)" stroke="url(#g208)" stroke-width=".5"/><polygon points="139.7,212.7 142.5,211.6 140.4,133" fill="url(#g209)" stroke="url(#g209)" stroke-width=".5"/><polygon points="139.7,212.7 140.4,133 137.5,211.3" fill="url(#g210)" stroke="url(#g210)" stroke-width=".5"/><polygon points="144.7,213 147.6,211.9 145.4,133.4" fill="url(#g211)" stroke="url(#g211)" stroke-width=".5"/><polygon points="144.7,213 145.4,133.4 142.5,211.6" fill="url(#g212)" stroke="url(#g212)" stroke-width=".5"/><polygon points="123,121.7 125.1,123.1 124.5,125.6 133.1,131.3 136,130.3 140.4,133.1 143.2,132 145.4,133.4 151.1,131.2 153.3,132.6 164.7,128.3 165.5,125.8 168.3,124.6 169,122.1 166.9,120.6 167.5,118.1 158.8,112.4 155.9,113.5 151.6,110.7 148.7,111.7 146.6,110.3 140.9,112.5 138.7,111.1 127.2,115.5 126.5,118 123.7,119.1" fill="#f8f917"/>
<path d="M30.2 153.1V75.5" fill="none" stroke="#c6c6c6" stroke-width="1.7"/><path d="M30.6 153.1L139.1 224.2L282 169.5M139.1 224.2l3.6 2.4M139.1 224.2l-4 1.5M210.6 196.8l3.6 2.4M84.8 188.6l-4 1.5M282 169.5l3.6 2.4M30.6 153.1l-4 1.5M30.6 153.1l-3.6 -2.4M30.6 122l-3.6 -2.4M30.6 91l-3.6 -2.4" fill="none" stroke="#262626" stroke-width="0.8"/>
<polygon points="367.9,150.3 476.2,221.2 618.1,167 509.8,96.1" fill="#422fc0"/><polygon points="477.3,122 479,123.1 478.9,125.9 489.7,133 492.6,131.9 496.9,134.8 499.7,133.7 501.9,135.1 507.5,132.9 509.7,134.3 523.9,128.9 524.6,126.4 527.5,125.3 528.8,120.3 526,67.5 524.7,66.6 524.5,63.6 515.8,57.9 512.9,59 508.6,56.1 505.8,57.2 503.6,55.8 498,58 495.7,56.6 484.4,60.9 483.7,63.4 480.9,64.5 480.2,67" fill="url(#u213)"/><polygon points="480.9,64.5 483.7,63.4 481.6,115.9" fill="url(#g214)" stroke="url(#g214)" stroke-width=".5"/><polygon points="480.9,64.5 481.6,115.9 478.7,116.9" fill="url(#g215)" stroke="url(#g215)" stroke-width=".5"/><polygon points="526.6,118.9 527.3,116.4 524.4,63.6" fill="url(#g216)" stroke="url(#g216)" stroke-width=".5"/><polygon points="478.1,119.4 480.9,64.5 478.7,116.9" fill="url(#g217)" stroke="url(#g217)" stroke-width=".5"/><polygon points="523.8,66.1 526.6,118.9 524.4,63.6" fill="url(#g218)" stroke="url(#g218)" stroke-width=".5"/><polygon points="480.2,67 480.9,64.5 478.1,119.4" fill="url(#g219)" stroke="url(#g219)" stroke-width=".5"/><polygon points="525.9,67.5 528.8,120.3 526.6,118.9" fill="url(#g220)" stroke="url(#g220)" stroke-width=".5"/><polygon points="525.9,67.5 526.6,118.9 523.8,66.1" fill="url(#g221)" stroke="url(#g221)" stroke-width=".5"/><polygon points="477.4,121.9 480.2,67 478.1,119.4" fill="url(#g222)" stroke="url(#g222)" stroke-width=".5"/><polygon points="528.1,122.8 528.8,120.3 525.9,67.5" fill="url(#g223)" stroke="url(#g223)" stroke-width=".5"/><polygon points="479.6,123.4 482.4,68.4 480.2,67" fill="url(#g224)" stroke="url(#g224)" stroke-width=".5"/><polygon points="479.6,123.4 480.2,67 477.4,121.9" fill="url(#g225)" stroke="url(#g225)" stroke-width=".5"/><polygon points="525.3,70 528.1,122.8 525.9,67.5" fill="url(#g226)" stroke="url(#g226)" stroke-width=".5"/><polygon points="481.7,71 482.4,68.4 479.6,123.4" fill="url(#g227)" stroke="url(#g227)" stroke-width=".5"/><polygon points="527.4,125.3 528.1,122.8 525.3,70" fill="url(#g228)" stroke="url(#g228)" stroke-width=".5"/><polygon points="478.9,125.9 481.7,71 479.6,123.4" fill="url(#g229)" stroke="url(#g229)" stroke-width=".5"/><polygon points="524.6,126.4 527.4,125.3 525.3,70" fill="url(#g230)" stroke="url(#g230)" stroke-width=".5"/><polygon points="524.6,126.4 525.3,70 522.4,71.1" fill="url(#g231)" stroke="url(#g231)" stroke-width=".5"/><polygon points="481,127.3 483.9,72.4 481.7,71" fill="url(#g232)" stroke="url(#g232)" stroke-width=".5"/><polygon points="481,127.3 481.7,71 478.9,125.9" fill="url(#g233)" stroke="url(#g233)" stroke-width=".5"/><polygon points="521.8,73.6 524.6,126.4 522.4,71.1" fill="url(#g234)" stroke="url(#g234)" stroke-width=".5"/><polygon points="483.2,128.7 486.1,73.8 483.9,72.4" fill="url(#g235)" stroke="url(#g235)" stroke-width=".5"/><polygon points="483.2,128.7 483.9,72.4 481,127.3" fill="url(#g236)" stroke="url(#g236)" stroke-width=".5"/><polygon points="523.9,128.9 524.6,126.4 521.8,73.6" fill="url(#g237)" stroke="url(#g237)" stroke-width=".5"/><polygon points="521.1,130 523.9,128.9 521.8,73.6" fill="url(#g238)" stroke="url(#g238)" stroke-width=".5"/><polygon points="521.1,130 521.8,73.6 518.9,74.7" fill="url(#g239)" stroke="url(#g239)" stroke-width=".5"/><polygon points="485.4,130.1 488.2,75.2 486.1,73.8" fill="url(#g240)" stroke="url(#g240)" stroke-width=".5"/><polygon points="485.4,130.1 486.1,73.8 483.2,128.7" fill="url(#g241)" stroke="url(#g241)" stroke-width=".5"/><polygon points="518.2,131 521.1,130 518.9,74.7" fill="url(#g242)" stroke="url(#g242)" stroke-width=".5"/><polygon points="518.2,131 518.9,74.7 516.1,75.8" fill="url(#g243)" stroke="url(#g243)" stroke-width=".5"/><polygon points="487.5,131.5 490.4,76.6 488.2,75.2" fill="url(#g244)" stroke="url(#g244)" stroke-width=".5"/><polygon points="487.5,131.5 488.2,75.2 485.4,130.1" fill="url(#g245)" stroke="url(#g245)" stroke-width=".5"/><polygon points="492.6,131.9 495.4,77 493.2,75.5" fill="url(#g246)" stroke="url(#g246)" stroke-width=".5"/><polygon points="492.6,131.9 493.2,75.5 490.4,76.6" fill="url(#g247)" stroke="url(#g247)" stroke-width=".5"/><polygon points="515.4,132.1 518.2,131 516.1,75.8" fill="url(#g248)" stroke="url(#g248)" stroke-width=".5"/><polygon points="515.4,132.1 516.1,75.8 513.2,76.9" fill="url(#g249)" stroke="url(#g249)" stroke-width=".5"/><polygon points="507.6,132.9 510.4,78 508.2,76.5" fill="url(#g250)" stroke="url(#g250)" stroke-width=".5"/><polygon points="507.6,132.9 508.2,76.5 505.4,77.6" fill="url(#g251)" stroke="url(#g251)" stroke-width=".5"/><polygon points="489.7,133 492.6,131.9 490.4,76.6" fill="url(#g252)" stroke="url(#g252)" stroke-width=".5"/><polygon points="489.7,133 490.4,76.6 487.5,131.5" fill="url(#g253)" stroke="url(#g253)" stroke-width=".5"/><polygon points="512.6,133.2 515.4,132.1 513.2,76.9" fill="url(#g254)" stroke="url(#g254)" stroke-width=".5"/><polygon points="512.6,133.2 513.2,76.9 510.4,78" fill="url(#g255)" stroke="url(#g255)" stroke-width=".5"/><polygon points="494.7,133.3 497.6,78.4 495.4,77" fill="url(#g256)" stroke="url(#g256)" stroke-width=".5"/><polygon points="494.7,133.3 495.4,77 492.6,131.9" fill="url(#g257)" stroke="url(#g257)" stroke-width=".5"/><polygon points="499.7,133.6 502.6,78.7 500.4,77.3" fill="url(#g258)" stroke="url(#g258)" stroke-width=".5"/><polygon points="499.7,133.6 500.4,77.3 497.6,78.4" fill="url(#g259)" stroke="url(#g259)" stroke-width=".5"/><polygon points="504.7,134 507.6,132.9 505.4,77.6" fill="url(#g260)" stroke="url(#g260)" stroke-width=".5"/><polygon points="504.7,134 505.4,77.6 502.6,78.7" fill="url(#g261)" stroke="url(#g261)" stroke-width=".5"/><polygon points="509.7,134.3 512.6,133.2 510.4,78" fill="url(#g262)" stroke="url(#g262)" stroke-width=".5"/><polygon points="509.7,134.3 510.4,78 507.6,132.9" fill="url(#g263)" stroke="url(#g263)" stroke-width=".5"/><polygon points="496.9,134.7 499.7,133.6 497.6,78.4" fill="url(#g264)" stroke="url(#g264)" stroke-width=".5"/><polygon points="496.9,134.7 497.6,78.4 494.7,133.3" fill="url(#g265)" stroke="url(#g265)" stroke-width=".5"/><polygon points="501.9,135 504.7,134 502.6,78.7" fill="url(#g266)" stroke="url(#g266)" stroke-width=".5"/><polygon points="501.9,135 502.6,78.7 499.7,133.6" fill="url(#g267)" stroke="url(#g267)" stroke-width=".5"/><polygon points="480.2,67 482.3,68.5 481.7,71 490.4,76.7 493.2,75.6 497.5,78.4 500.4,77.4 502.6,78.8 508.2,76.6 510.4,78 521.8,73.7 522.5,71.2 525.3,70.1 526,67.5 523.8,66.1 524.5,63.6 515.8,57.9 512.9,59 508.6,56.1 505.8,57.2 503.6,55.8 498,58 495.7,56.6 484.4,60.9 483.7,63.4 480.9,64.5" fill="#bac430"/><polygon points="392.2,154.5 393.8,155.6 393.7,158.4 404.5,165.5 407.4,164.5 411.7,167.3 414.6,166.2 416.8,167.6 422.4,165.5 424.6,166.9 438.8,161.4 439.5,158.9 442.3,157.8 443.7,152.8 440.8,88.8 439.5,87.8 439.3,84.8 430.7,79.1 427.8,80.2 423.5,77.4 420.6,78.4 418.5,77 412.8,79.2 410.6,77.8 399.2,82.1 398.5,84.6 395.7,85.7 395,88.3" fill="url(#u268)"/><polygon points="395.8,85.8 398.6,84.7 396.4,148.4" fill="url(#g269)" stroke="url(#g269)" stroke-width=".5"/><polygon points="395.8,85.8 396.4,148.4 393.6,149.5" fill="url(#g270)" stroke="url(#g270)" stroke-width=".5"/><polygon points="441.5,151.4 442.1,148.9 439.3,84.9" fill="url(#g271)" stroke="url(#g271)" stroke-width=".5"/><polygon points="392.9,152 395.8,85.8 393.6,149.5" fill="url(#g272)" stroke="url(#g272)" stroke-width=".5"/><polygon points="438.6,87.4 441.5,151.4 439.3,84.9" fill="url(#g273)" stroke="url(#g273)" stroke-width=".5"/><polygon points="395.1,88.3 395.8,85.8 392.9,152" fill="url(#g274)" stroke="url(#g274)" stroke-width=".5"/><polygon points="440.8,88.8 443.6,152.8 441.5,151.4" fill="url(#g275)" stroke="url(#g275)" stroke-width=".5"/><polygon points="440.8,88.8 441.5,151.4 438.6,87.4" fill="url(#g276)" stroke="url(#g276)" stroke-width=".5"/><polygon points="392.2,154.5 395.1,88.3 392.9,152" fill="url(#g277)" stroke="url(#g277)" stroke-width=".5"/><polygon points="443,155.3 443.6,152.8 440.8,88.8" fill="url(#g278)" stroke="url(#g278)" stroke-width=".5"/><polygon points="394.4,155.9 397.3,89.7 395.1,88.3" fill="url(#g279)" stroke="url(#g279)" stroke-width=".5"/><polygon points="394.4,155.9 395.1,88.3 392.2,154.5" fill="url(#g280)" stroke="url(#g280)" stroke-width=".5"/><polygon points="440.1,91.3 443,155.3 440.8,88.8" fill="url(#g281)" stroke="url(#g281)" stroke-width=".5"/><polygon points="396.6,92.2 397.3,89.7 394.4,155.9" fill="url(#g282)" stroke="url(#g282)" stroke-width=".5"/><polygon points="442.3,157.8 443,155.3 440.1,91.3" fill="url(#g283)" stroke="url(#g283)" stroke-width=".5"/><polygon points="393.7,158.4 396.6,92.2 394.4,155.9" fill="url(#g284)" stroke="url(#g284)" stroke-width=".5"/><polygon points="439.5,158.9 442.3,157.8 440.1,91.3" fill="url(#g285)" stroke="url(#g285)" stroke-width=".5"/><polygon points="439.5,158.9 440.1,91.3 437.3,92.4" fill="url(#g286)" stroke="url(#g286)" stroke-width=".5"/><polygon points="395.9,159.8 398.7,93.6 396.6,92.2" fill="url(#g287)" stroke="url(#g287)" stroke-width=".5"/><polygon points="395.9,159.8 396.6,92.2 393.7,158.4" fill="url(#g288)" stroke="url(#g288)" stroke-width=".5"/><polygon points="436.6,94.9 439.5,158.9 437.3,92.4" fill="url(#g289)" stroke="url(#g289)" stroke-width=".5"/><polygon points="398.1,161.2 400.9,95 398.7,93.6" fill="url(#g290)" stroke="url(#g290)" stroke-width=".5"/><polygon points="398.1,161.2 398.7,93.6 395.9,159.8" fill="url(#g291)" stroke="url(#g291)" stroke-width=".5"/><polygon points="438.8,161.4 439.5,158.9 436.6,94.9" fill="url(#g292)" stroke="url(#g292)" stroke-width=".5"/><polygon points="435.9,162.5 438.8,161.4 436.6,94.9" fill="url(#g293)" stroke="url(#g293)" stroke-width=".5"/><polygon points="435.9,162.5 436.6,94.9 433.8,95.9" fill="url(#g294)" stroke="url(#g294)" stroke-width=".5"/><polygon points="400.2,162.6 403.1,96.4 400.9,95" fill="url(#g295)" stroke="url(#g295)" stroke-width=".5"/><polygon points="400.2,162.6 400.9,95 398.1,161.2" fill="url(#g296)" stroke="url(#g296)" stroke-width=".5"/><polygon points="433.1,163.6 435.9,162.5 433.8,95.9" fill="url(#g297)" stroke="url(#g297)" stroke-width=".5"/><polygon points="433.1,163.6 433.8,95.9 430.9,97" fill="url(#g298)" stroke="url(#g298)" stroke-width=".5"/><polygon points="402.4,164.1 405.2,97.9 403.1,96.4" fill="url(#g299)" stroke="url(#g299)" stroke-width=".5"/><polygon points="402.4,164.1 403.1,96.4 400.2,162.6" fill="url(#g300)" stroke="url(#g300)" stroke-width=".5"/><polygon points="407.4,164.4 410.2,98.2 408.1,96.8" fill="url(#g301)" stroke="url(#g301)" stroke-width=".5"/><polygon points="407.4,164.4 408.1,96.8 405.2,97.9" fill="url(#g302)" stroke="url(#g302)" stroke-width=".5"/><polygon points="430.3,164.6 433.1,163.6 430.9,97" fill="url(#g303)" stroke="url(#g303)" stroke-width=".5"/><polygon points="430.3,164.6 430.9,97 428.1,98.1" fill="url(#g304)" stroke="url(#g304)" stroke-width=".5"/><polygon points="422.4,165.4 425.3,99.2 423.1,97.8" fill="url(#g305)" stroke="url(#g305)" stroke-width=".5"/><polygon points="422.4,165.4 423.1,97.8 420.3,98.9" fill="url(#g306)" stroke="url(#g306)" stroke-width=".5"/><polygon points="404.6,165.5 407.4,164.4 405.2,97.9" fill="url(#g307)" stroke="url(#g307)" stroke-width=".5"/><polygon points="404.6,165.5 405.2,97.9 402.4,164.1" fill="url(#g308)" stroke="url(#g308)" stroke-width=".5"/><polygon points="427.4,165.7 430.3,164.6 428.1,98.1" fill="url(#g309)" stroke="url(#g309)" stroke-width=".5"/><polygon points="427.4,165.7 428.1,98.1 425.3,99.2" fill="url(#g310)" stroke="url(#g310)" stroke-width=".5"/><polygon points="409.6,165.8 412.4,99.6 410.2,98.2" fill="url(#g311)" stroke="url(#g311)" stroke-width=".5"/><polygon points="409.6,165.8 410.2,98.2 407.4,164.4" fill="url(#g312)" stroke="url(#g312)" stroke-width=".5"/><polygon points="414.6,166.1 417.4,99.9 415.3,98.5" fill="url(#g313)" stroke="url(#g313)" stroke-width=".5"/><polygon points="414.6,166.1 415.3,98.5 412.4,99.6" fill="url(#g314)" stroke="url(#g314)" stroke-width=".5"/><polygon points="419.6,166.5 422.4,165.4 420.3,98.9" fill="url(#g315)" stroke="url(#g315)" stroke-width=".5"/><polygon points="419.6,166.5 420.3,98.9 417.4,99.9" fill="url(#g316)" stroke="url(#g316)" stroke-width=".5"/><polygon points="424.6,166.8 427.4,165.7 425.3,99.2" fill="url(#g317)" stroke="url(#g317)" stroke-width=".5"/><polygon points="424.6,166.8 425.3,99.2 422.4,165.4" fill="url(#g318)" stroke="url(#g318)" stroke-width=".5"/><polygon points="411.7,167.2 414.6,166.1 412.4,99.6" fill="url(#g319)" stroke="url(#g319)" stroke-width=".5"/><polygon points="411.7,167.2 412.4,99.6 409.6,165.8" fill="url(#g320)" stroke="url(#g320)" stroke-width=".5"/><polygon points="416.7,167.6 419.6,166.5 417.4,99.9" fill="url(#g321)" stroke="url(#g321)" stroke-width=".5"/><polygon points="416.7,167.6 417.4,99.9 414.6,166.1" fill="url(#g322)" stroke="url(#g322)" stroke-width=".5"/><polygon points="395,88.3 397.2,89.7 396.5,92.2 405.2,97.9 408.1,96.8 412.4,99.7 415.2,98.6 417.4,100 423.1,97.8 425.3,99.2 436.6,94.9 437.3,92.4 440.2,91.3 440.8,88.8 438.7,87.3 439.3,84.8 430.7,79.1 427.8,80.2 423.5,77.4 420.6,78.4 418.5,77 412.8,79.2 410.6,77.8 399.2,82.1 398.5,84.6 395.7,85.7" fill="#fec537"/><polygon points="542.3,164.5 544,165.6 543.8,168.5 554.7,175.5 557.5,174.5 561.9,177.3 564.7,176.2 566.9,177.6 572.5,175.5 574.7,176.9 588.9,171.5 589.6,169 592.4,167.9 593.8,162.8 591,119.5 589.7,118.6 589.5,115.6 580.8,109.9 577.9,111 573.6,108.1 570.8,109.2 568.6,107.8 562.9,110 560.7,108.6 549.4,112.9 548.7,115.4 545.8,116.5 545.2,119" fill="url(#u323)"/><polygon points="545.9,116.5 548.7,115.4 546.5,158.4" fill="url(#g324)" stroke="url(#g324)" stroke-width=".5"/><polygon points="545.9,116.5 546.5,158.4 543.7,159.5" fill="url(#g325)" stroke="url(#g325)" stroke-width=".5"/><polygon points="591.6,161.4 592.3,158.9 589.4,115.6" fill="url(#g326)" stroke="url(#g326)" stroke-width=".5"/><polygon points="543,162 545.9,116.5 543.7,159.5" fill="url(#g327)" stroke="url(#g327)" stroke-width=".5"/><polygon points="588.7,118.1 591.6,161.4 589.4,115.6" fill="url(#g328)" stroke="url(#g328)" stroke-width=".5"/><polygon points="545.2,119 545.9,116.5 543,162" fill="url(#g329)" stroke="url(#g329)" stroke-width=".5"/><polygon points="590.9,119.5 593.8,162.8 591.6,161.4" fill="url(#g330)" stroke="url(#g330)" stroke-width=".5"/><polygon points="590.9,119.5 591.6,161.4 588.7,118.1" fill="url(#g331)" stroke="url(#g331)" stroke-width=".5"/><polygon points="542.4,164.5 545.2,119 543,162" fill="url(#g332)" stroke="url(#g332)" stroke-width=".5"/><polygon points="593.1,165.3 593.8,162.8 590.9,119.5" fill="url(#g333)" stroke="url(#g333)" stroke-width=".5"/><polygon points="544.5,165.9 547.4,120.4 545.2,119" fill="url(#g334)" stroke="url(#g334)" stroke-width=".5"/><polygon points="544.5,165.9 545.2,119 542.4,164.5" fill="url(#g335)" stroke="url(#g335)" stroke-width=".5"/><polygon points="590.2,122 593.1,165.3 590.9,119.5" fill="url(#g336)" stroke="url(#g336)" stroke-width=".5"/><polygon points="546.7,122.9 547.4,120.4 544.5,165.9" fill="url(#g337)" stroke="url(#g337)" stroke-width=".5"/><polygon points="592.4,167.8 593.1,165.3 590.2,122" fill="url(#g338)" stroke="url(#g338)" stroke-width=".5"/><polygon points="543.9,168.4 546.7,122.9 544.5,165.9" fill="url(#g339)" stroke="url(#g339)" stroke-width=".5"/><polygon points="589.6,168.9 592.4,167.8 590.2,122" fill="url(#g340)" stroke="url(#g340)" stroke-width=".5"/><polygon points="589.6,168.9 590.2,122 587.4,123.1" fill="url(#g341)" stroke="url(#g341)" stroke-width=".5"/><polygon points="546,169.8 548.9,124.4 546.7,122.9" fill="url(#g342)" stroke="url(#g342)" stroke-width=".5"/><polygon points="546,169.8 546.7,122.9 543.9,168.4" fill="url(#g343)" stroke="url(#g343)" stroke-width=".5"/><polygon points="586.7,125.6 589.6,168.9 587.4,123.1" fill="url(#g344)" stroke="url(#g344)" stroke-width=".5"/><polygon points="548.2,171.2 551,125.8 548.9,124.4" fill="url(#g345)" stroke="url(#g345)" stroke-width=".5"/><polygon points="548.2,171.2 548.9,124.4 546,169.8" fill="url(#g346)" stroke="url(#g346)" stroke-width=".5"/><polygon points="588.9,171.4 589.6,168.9 586.7,125.6" fill="url(#g347)" stroke="url(#g347)" stroke-width=".5"/><polygon points="586.1,172.5 588.9,171.4 586.7,125.6" fill="url(#g348)" stroke="url(#g348)" stroke-width=".5"/><polygon points="586.1,172.5 586.7,125.6 583.9,126.7" fill="url(#g349)" stroke="url(#g349)" stroke-width=".5"/><polygon points="550.4,172.7 553.2,127.2 551,125.8" fill="url(#g350)" stroke="url(#g350)" stroke-width=".5"/><polygon points="550.4,172.7 551,125.8 548.2,171.2" fill="url(#g351)" stroke="url(#g351)" stroke-width=".5"/><polygon points="583.2,173.6 586.1,172.5 583.9,126.7" fill="url(#g352)" stroke="url(#g352)" stroke-width=".5"/><polygon points="583.2,173.6 583.9,126.7 581.1,127.8" fill="url(#g353)" stroke="url(#g353)" stroke-width=".5"/><polygon points="552.5,174.1 555.4,128.6 553.2,127.2" fill="url(#g354)" stroke="url(#g354)" stroke-width=".5"/><polygon points="552.5,174.1 553.2,127.2 550.4,172.7" fill="url(#g355)" stroke="url(#g355)" stroke-width=".5"/><polygon points="557.5,174.4 560.4,129 558.2,127.5" fill="url(#g356)" stroke="url(#g356)" stroke-width=".5"/><polygon points="557.5,174.4 558.2,127.5 555.4,128.6" fill="url(#g357)" stroke="url(#g357)" stroke-width=".5"/><polygon points="580.4,174.7 583.2,173.6 581.1,127.8" fill="url(#g358)" stroke="url(#g358)" stroke-width=".5"/><polygon points="580.4,174.7 581.1,127.8 578.2,128.9" fill="url(#g359)" stroke="url(#g359)" stroke-width=".5"/><polygon points="572.5,175.4 575.4,130 573.2,128.5" fill="url(#g360)" stroke="url(#g360)" stroke-width=".5"/><polygon points="572.5,175.4 573.2,128.5 570.4,129.6" fill="url(#g361)" stroke="url(#g361)" stroke-width=".5"/><polygon points="554.7,175.5 557.5,174.4 555.4,128.6" fill="url(#g362)" stroke="url(#g362)" stroke-width=".5"/><polygon points="554.7,175.5 555.4,128.6 552.5,174.1" fill="url(#g363)" stroke="url(#g363)" stroke-width=".5"/><polygon points="577.5,175.7 580.4,174.7 578.2,128.9" fill="url(#g364)" stroke="url(#g364)" stroke-width=".5"/><polygon points="577.5,175.7 578.2,128.9 575.4,130" fill="url(#g365)" stroke="url(#g365)" stroke-width=".5"/><polygon points="559.7,175.8 562.5,130.4 560.4,129" fill="url(#g366)" stroke="url(#g366)" stroke-width=".5"/><polygon points="559.7,175.8 560.4,129 557.5,174.4" fill="url(#g367)" stroke="url(#g367)" stroke-width=".5"/><polygon points="564.7,176.2 567.5,130.7 565.4,129.3" fill="url(#g368)" stroke="url(#g368)" stroke-width=".5"/><polygon points="564.7,176.2 565.4,129.3 562.5,130.4" fill="url(#g369)" stroke="url(#g369)" stroke-width=".5"/><polygon points="569.7,176.5 572.5,175.4 570.4,129.6" fill="url(#g370)" stroke="url(#g370)" stroke-width=".5"/><polygon points="569.7,176.5 570.4,129.6 567.5,130.7" fill="url(#g371)" stroke="url(#g371)" stroke-width=".5"/><polygon points="574.7,176.8 577.5,175.7 575.4,130" fill="url(#g372)" stroke="url(#g372)" stroke-width=".5"/><polygon points="574.7,176.8 575.4,130 572.5,175.4" fill="url(#g373)" stroke="url(#g373)" stroke-width=".5"/><polygon points="561.9,177.2 564.7,176.2 562.5,130.4" fill="url(#g374)" stroke="url(#g374)" stroke-width=".5"/><polygon points="561.9,177.2 562.5,130.4 559.7,175.8" fill="url(#g375)" stroke="url(#g375)" stroke-width=".5"/><polygon points="566.9,177.6 569.7,176.5 567.5,130.7" fill="url(#g376)" stroke="url(#g376)" stroke-width=".5"/><polygon points="566.9,177.6 567.5,130.7 564.7,176.2" fill="url(#g377)" stroke="url(#g377)" stroke-width=".5"/><polygon points="545.2,119 547.3,120.5 546.7,123 555.3,128.7 558.2,127.6 562.5,130.4 565.4,129.4 567.5,130.8 573.2,128.6 575.4,130 586.8,125.7 587.5,123.2 590.3,122.1 591,119.5 588.8,118.1 589.5,115.6 580.8,109.9 577.9,111 573.6,108.1 570.8,109.2 568.6,107.8 562.9,110 560.7,108.6 549.4,112.9 548.7,115.4 545.8,116.5" fill="#4dcc82"/><polygon points="457.2,197 458.8,198.1 458.7,201 469.5,208.1 472.4,207 476.7,209.8 479.6,208.8 481.7,210.2 487.4,208 489.6,209.4 503.8,204 504.5,201.5 507.3,200.4 508.7,195.3 505.8,123.1 504.5,122.1 504.3,119.1 495.6,113.4 492.8,114.5 488.5,111.7 485.6,112.7 483.4,111.3 477.8,113.5 475.6,112.1 464.2,116.4 463.5,118.9 460.7,120 460,122.6" fill="url(#u378)"/><polygon points="460.7,120.1 463.6,119 461.4,190.9" fill="url(#g379)" stroke="url(#g379)" stroke-width=".5"/><polygon points="460.7,120.1 461.4,190.9 458.6,192" fill="url(#g380)" stroke="url(#g380)" stroke-width=".5"/><polygon points="506.4,193.9 507.1,191.4 504.3,119.2" fill="url(#g381)" stroke="url(#g381)" stroke-width=".5"/><polygon points="457.9,194.5 460.7,120.1 458.6,192" fill="url(#g382)" stroke="url(#g382)" stroke-width=".5"/><polygon points="503.6,121.7 506.4,193.9 504.3,119.2" fill="url(#g383)" stroke="url(#g383)" stroke-width=".5"/><polygon points="460.1,122.6 460.7,120.1 457.9,194.5" fill="url(#g384)" stroke="url(#g384)" stroke-width=".5"/><polygon points="505.8,123.1 508.6,195.3 506.4,193.9" fill="url(#g385)" stroke="url(#g385)" stroke-width=".5"/><polygon points="505.8,123.1 506.4,193.9 503.6,121.7" fill="url(#g386)" stroke="url(#g386)" stroke-width=".5"/><polygon points="457.2,197 460.1,122.6 457.9,194.5" fill="url(#g387)" stroke="url(#g387)" stroke-width=".5"/><polygon points="507.9,197.8 508.6,195.3 505.8,123.1" fill="url(#g388)" stroke="url(#g388)" stroke-width=".5"/><polygon points="459.4,198.4 462.2,124 460.1,122.6" fill="url(#g389)" stroke="url(#g389)" stroke-width=".5"/><polygon points="459.4,198.4 460.1,122.6 457.2,197" fill="url(#g390)" stroke="url(#g390)" stroke-width=".5"/><polygon points="505.1,125.6 507.9,197.8 505.8,123.1" fill="url(#g391)" stroke="url(#g391)" stroke-width=".5"/><polygon points="461.6,126.5 462.2,124 459.4,198.4" fill="url(#g392)" stroke="url(#g392)" stroke-width=".5"/><polygon points="507.3,200.3 507.9,197.8 505.1,125.6" fill="url(#g393)" stroke="url(#g393)" stroke-width=".5"/><polygon points="458.7,200.9 461.6,126.5 459.4,198.4" fill="url(#g394)" stroke="url(#g394)" stroke-width=".5"/><polygon points="504.4,201.4 507.3,200.3 505.1,125.6" fill="url(#g395)" stroke="url(#g395)" stroke-width=".5"/><polygon points="504.4,201.4 505.1,125.6 502.3,126.7" fill="url(#g396)" stroke="url(#g396)" stroke-width=".5"/><polygon points="460.9,202.3 463.7,127.9 461.6,126.5" fill="url(#g397)" stroke="url(#g397)" stroke-width=".5"/><polygon points="460.9,202.3 461.6,126.5 458.7,200.9" fill="url(#g398)" stroke="url(#g398)" stroke-width=".5"/><polygon points="501.6,129.2 504.4,201.4 502.3,126.7" fill="url(#g399)" stroke="url(#g399)" stroke-width=".5"/><polygon points="463.1,203.8 465.9,129.3 463.7,127.9" fill="url(#g400)" stroke="url(#g400)" stroke-width=".5"/><polygon points="463.1,203.8 463.7,127.9 460.9,202.3" fill="url(#g401)" stroke="url(#g401)" stroke-width=".5"/><polygon points="503.8,203.9 504.4,201.4 501.6,129.2" fill="url(#g402)" stroke="url(#g402)" stroke-width=".5"/><polygon points="500.9,205 503.8,203.9 501.6,129.2" fill="url(#g403)" stroke="url(#g403)" stroke-width=".5"/><polygon points="500.9,205 501.6,129.2 498.8,130.2" fill="url(#g404)" stroke="url(#g404)" stroke-width=".5"/><polygon points="465.2,205.2 468.1,130.7 465.9,129.3" fill="url(#g405)" stroke="url(#g405)" stroke-width=".5"/><polygon points="465.2,205.2 465.9,129.3 463.1,203.8" fill="url(#g406)" stroke="url(#g406)" stroke-width=".5"/><polygon points="498.1,206.1 500.9,205 498.8,130.2" fill="url(#g407)" stroke="url(#g407)" stroke-width=".5"/><polygon points="498.1,206.1 498.8,130.2 495.9,131.3" fill="url(#g408)" stroke="url(#g408)" stroke-width=".5"/><polygon points="467.4,206.6 470.2,132.2 468.1,130.7" fill="url(#g409)" stroke="url(#g409)" stroke-width=".5"/><polygon points="467.4,206.6 468.1,130.7 465.2,205.2" fill="url(#g410)" stroke="url(#g410)" stroke-width=".5"/><polygon points="472.4,206.9 475.2,132.5 473.1,131.1" fill="url(#g411)" stroke="url(#g411)" stroke-width=".5"/><polygon points="472.4,206.9 473.1,131.1 470.2,132.2" fill="url(#g412)" stroke="url(#g412)" stroke-width=".5"/><polygon points="495.2,207.2 498.1,206.1 495.9,131.3" fill="url(#g413)" stroke="url(#g413)" stroke-width=".5"/><polygon points="495.2,207.2 495.9,131.3 493.1,132.4" fill="url(#g414)" stroke="url(#g414)" stroke-width=".5"/><polygon points="487.4,207.9 490.2,133.5 488.1,132.1" fill="url(#g415)" stroke="url(#g415)" stroke-width=".5"/><polygon points="487.4,207.9 488.1,132.1 485.2,133.2" fill="url(#g416)" stroke="url(#g416)" stroke-width=".5"/><polygon points="469.6,208 472.4,206.9 470.2,132.2" fill="url(#g417)" stroke="url(#g417)" stroke-width=".5"/><polygon points="469.6,208 470.2,132.2 467.4,206.6" fill="url(#g418)" stroke="url(#g418)" stroke-width=".5"/><polygon points="492.4,208.3 495.2,207.2 493.1,132.4" fill="url(#g419)" stroke="url(#g419)" stroke-width=".5"/><polygon points="492.4,208.3 493.1,132.4 490.2,133.5" fill="url(#g420)" stroke="url(#g420)" stroke-width=".5"/><polygon points="474.6,208.4 477.4,133.9 475.2,132.5" fill="url(#g421)" stroke="url(#g421)" stroke-width=".5"/><polygon points="474.6,208.4 475.2,132.5 472.4,206.9" fill="url(#g422)" stroke="url(#g422)" stroke-width=".5"/><polygon points="479.6,208.7 482.4,134.2 480.2,132.8" fill="url(#g423)" stroke="url(#g423)" stroke-width=".5"/><polygon points="479.6,208.7 480.2,132.8 477.4,133.9" fill="url(#g424)" stroke="url(#g424)" stroke-width=".5"/><polygon points="484.6,209 487.4,207.9 485.2,133.2" fill="url(#g425)" stroke="url(#g425)" stroke-width=".5"/><polygon points="484.6,209 485.2,133.2 482.4,134.2" fill="url(#g426)" stroke="url(#g426)" stroke-width=".5"/><polygon points="489.6,209.4 492.4,208.3 490.2,133.5" fill="url(#g427)" stroke="url(#g427)" stroke-width=".5"/><polygon points="489.6,209.4 490.2,133.5 487.4,207.9" fill="url(#g428)" stroke="url(#g428)" stroke-width=".5"/><polygon points="476.7,209.8 479.6,208.7 477.4,133.9" fill="url(#g429)" stroke="url(#g429)" stroke-width=".5"/><polygon points="476.7,209.8 477.4,133.9 474.6,208.4" fill="url(#g430)" stroke="url(#g430)" stroke-width=".5"/><polygon points="481.7,210.1 484.6,209 482.4,134.2" fill="url(#g431)" stroke="url(#g431)" stroke-width=".5"/><polygon points="481.7,210.1 482.4,134.2 479.6,208.7" fill="url(#g432)" stroke="url(#g432)" stroke-width=".5"/><polygon points="460,122.6 462.2,124 461.5,126.5 470.2,132.2 473.1,131.1 477.4,134 480.2,132.9 482.4,134.3 488,132.1 490.3,133.5 501.6,129.2 502.3,126.7 505.1,125.6 505.8,123.1 503.7,121.6 504.3,119.1 495.6,113.4 492.8,114.5 488.5,111.7 485.6,112.7 483.4,111.3 477.8,113.5 475.6,112.1 464.2,116.4 463.5,118.9 460.7,120" fill="#f5ed22"/>
<path d="M367.9 153.3V75.1" fill="none" stroke="#c6c6c6" stroke-width="1.7"/><path d="M367.9 153.3L476.2 224.2L618.1 170M476.2 224.2l3.6 2.4M476.2 224.2l-4 1.5M547.1 197.1l3.6 2.4M422 188.8l-4 1.5M618.1 170l3.6 2.4M367.9 153.3l-4 1.5M367.9 150.3l-3.6 -2.4M367.9 119.8l-3.6 -2.4M367.9 89.3l-3.6 -2.4" fill="none" stroke="#262626" stroke-width="0.8"/>
<polygon points="27.6,404.4 139.4,477.2 283.8,421.7 172,348.9" fill="#3e26a8"/><polygon points="139.2,375.4 141.4,376.9 140.8,379.5 151.9,386.7 154.9,385.7 159.3,388.5 162.2,387.5 164.5,388.9 170.2,386.7 172.5,388.1 186.9,382.6 187.6,380 190.5,378.9 191.8,373.7 190.1,370.1 190.2,369.7 187.3,363.4 178.4,357.6 175.4,358.7 171,355.8 168.1,356.9 165.9,355.4 160.1,357.6 157.8,356.2 146.3,360.6 145.2,363.3 142.7,364.3 140.5,370.3" fill="url(#u433)"/><polygon points="142.7,364.3 145.6,363.2 143.4,369.2" fill="url(#g434)" stroke="url(#g434)" stroke-width=".5"/><polygon points="142.7,364.3 143.4,369.2 140.5,370.3" fill="url(#g435)" stroke="url(#g435)" stroke-width=".5"/><polygon points="189.5,372.3 190.2,369.7 187.3,363.4" fill="url(#g436)" stroke="url(#g436)" stroke-width=".5"/><polygon points="139.9,372.8 142.7,364.3 140.5,370.3" fill="url(#g437)" stroke="url(#g437)" stroke-width=".5"/><polygon points="186.6,366 189.5,372.3 187.3,363.4" fill="url(#g438)" stroke="url(#g438)" stroke-width=".5"/><polygon points="142.1,366.9 142.7,364.3 139.9,372.8" fill="url(#g439)" stroke="url(#g439)" stroke-width=".5"/><polygon points="188.9,367.5 191.8,373.7 189.5,372.3" fill="url(#g440)" stroke="url(#g440)" stroke-width=".5"/><polygon points="188.9,367.5 189.5,372.3 186.6,366" fill="url(#g441)" stroke="url(#g441)" stroke-width=".5"/><polygon points="139.2,375.4 142.1,366.9 139.9,372.8" fill="url(#g442)" stroke="url(#g442)" stroke-width=".5"/><polygon points="191.1,376.3 191.8,373.7 188.9,367.5" fill="url(#g443)" stroke="url(#g443)" stroke-width=".5"/><polygon points="141.4,376.9 144.3,368.4 142.1,366.9" fill="url(#g444)" stroke="url(#g444)" stroke-width=".5"/><polygon points="141.4,376.9 142.1,366.9 139.2,375.4" fill="url(#g445)" stroke="url(#g445)" stroke-width=".5"/><polygon points="188.2,370 191.1,376.3 188.9,367.5" fill="url(#g446)" stroke="url(#g446)" stroke-width=".5"/><polygon points="143.7,370.9 144.3,368.4 141.4,376.9" fill="url(#g447)" stroke="url(#g447)" stroke-width=".5"/><polygon points="190.4,378.9 191.1,376.3 188.2,370" fill="url(#g448)" stroke="url(#g448)" stroke-width=".5"/><polygon points="140.8,379.4 143.7,370.9 141.4,376.9" fill="url(#g449)" stroke="url(#g449)" stroke-width=".5"/><polygon points="187.6,380 190.4,378.9 188.2,370" fill="url(#g450)" stroke="url(#g450)" stroke-width=".5"/><polygon points="187.6,380 188.2,370 185.3,371.1" fill="url(#g451)" stroke="url(#g451)" stroke-width=".5"/><polygon points="143,380.9 145.9,372.4 143.7,370.9" fill="url(#g452)" stroke="url(#g452)" stroke-width=".5"/><polygon points="143,380.9 143.7,370.9 140.8,379.4" fill="url(#g453)" stroke="url(#g453)" stroke-width=".5"/><polygon points="184.7,373.7 187.6,380 185.3,371.1" fill="url(#g454)" stroke="url(#g454)" stroke-width=".5"/><polygon points="145.3,382.3 148.2,373.8 145.9,372.4" fill="url(#g455)" stroke="url(#g455)" stroke-width=".5"/><polygon points="145.3,382.3 145.9,372.4 143,380.9" fill="url(#g456)" stroke="url(#g456)" stroke-width=".5"/><polygon points="186.9,382.5 187.6,380 184.7,373.7" fill="url(#g457)" stroke="url(#g457)" stroke-width=".5"/><polygon points="184,383.6 186.9,382.5 184.7,373.7" fill="url(#g458)" stroke="url(#g458)" stroke-width=".5"/><polygon points="184,383.6 184.7,373.7 181.8,374.8" fill="url(#g459)" stroke="url(#g459)" stroke-width=".5"/><polygon points="147.5,383.8 150.4,375.3 148.2,373.8" fill="url(#g460)" stroke="url(#g460)" stroke-width=".5"/><polygon points="147.5,383.8 148.2,373.8 145.3,382.3" fill="url(#g461)" stroke="url(#g461)" stroke-width=".5"/><polygon points="181.1,384.8 184,383.6 181.8,374.8" fill="url(#g462)" stroke="url(#g462)" stroke-width=".5"/><polygon points="181.1,384.8 181.8,374.8 178.9,375.9" fill="url(#g463)" stroke="url(#g463)" stroke-width=".5"/><polygon points="149.7,385.2 152.6,376.8 150.4,375.3" fill="url(#g464)" stroke="url(#g464)" stroke-width=".5"/><polygon points="149.7,385.2 150.4,375.3 147.5,383.8" fill="url(#g465)" stroke="url(#g465)" stroke-width=".5"/><polygon points="154.9,385.6 157.7,377.1 155.5,375.7" fill="url(#g466)" stroke="url(#g466)" stroke-width=".5"/><polygon points="154.9,385.6 155.5,375.7 152.6,376.8" fill="url(#g467)" stroke="url(#g467)" stroke-width=".5"/><polygon points="178.2,385.9 181.1,384.8 178.9,375.9" fill="url(#g468)" stroke="url(#g468)" stroke-width=".5"/><polygon points="178.2,385.9 178.9,375.9 176,377" fill="url(#g469)" stroke="url(#g469)" stroke-width=".5"/><polygon points="170.2,386.6 173.1,378.1 170.9,376.7" fill="url(#g470)" stroke="url(#g470)" stroke-width=".5"/><polygon points="170.2,386.6 170.9,376.7 168,377.8" fill="url(#g471)" stroke="url(#g471)" stroke-width=".5"/><polygon points="152,386.7 154.9,385.6 152.6,376.8" fill="url(#g472)" stroke="url(#g472)" stroke-width=".5"/><polygon points="152,386.7 152.6,376.8 149.7,385.2" fill="url(#g473)" stroke="url(#g473)" stroke-width=".5"/><polygon points="175.4,387 178.2,385.9 176,377" fill="url(#g474)" stroke="url(#g474)" stroke-width=".5"/><polygon points="175.4,387 176,377 173.1,378.1" fill="url(#g475)" stroke="url(#g475)" stroke-width=".5"/><polygon points="157.1,387 160,378.6 157.7,377.1" fill="url(#g476)" stroke="url(#g476)" stroke-width=".5"/><polygon points="157.1,387 157.7,377.1 154.9,385.6" fill="url(#g477)" stroke="url(#g477)" stroke-width=".5"/><polygon points="162.2,387.4 165.1,378.9 162.9,377.5" fill="url(#g478)" stroke="url(#g478)" stroke-width=".5"/><polygon points="162.2,387.4 162.9,377.5 160,378.6" fill="url(#g479)" stroke="url(#g479)" stroke-width=".5"/><polygon points="167.3,387.7 170.2,386.6 168,377.8" fill="url(#g480)" stroke="url(#g480)" stroke-width=".5"/><polygon points="167.3,387.7 168,377.8 165.1,378.9" fill="url(#g481)" stroke="url(#g481)" stroke-width=".5"/><polygon points="172.5,388.1 175.4,387 173.1,378.1" fill="url(#g482)" stroke="url(#g482)" stroke-width=".5"/><polygon points="172.5,388.1 173.1,378.1 170.2,386.6" fill="url(#g483)" stroke="url(#g483)" stroke-width=".5"/><polygon points="159.3,388.5 162.2,387.4 160,378.6" fill="url(#g484)" stroke="url(#g484)" stroke-width=".5"/><polygon points="159.3,388.5 160,378.6 157.1,387" fill="url(#g485)" stroke="url(#g485)" stroke-width=".5"/><polygon points="164.5,388.8 167.3,387.7 165.1,378.9" fill="url(#g486)" stroke="url(#g486)" stroke-width=".5"/><polygon points="164.5,388.8 165.1,378.9 162.2,387.4" fill="url(#g487)" stroke="url(#g487)" stroke-width=".5"/><polygon points="142,366.9 144.3,368.4 143.6,371 152.6,376.8 155.5,375.7 160,378.6 162.9,377.5 165.1,379 170.9,376.8 173.1,378.2 184.7,373.7 185.4,371.2 188.3,370.1 188.9,367.5 186.7,366 187.3,363.4 178.4,357.6 175.4,358.7 171,355.8 168.1,356.9 165.9,355.4 160.1,357.6 157.8,356.2 146.3,360.6 145.6,363.2 142.7,364.3" fill="#37c897"/><polygon points="52.5,408.7 54.7,410.2 54.1,412.8 65.3,420 68.2,419 72.7,421.8 75.6,420.8 77.8,422.2 83.6,420 85.8,421.4 100.3,415.9 101,413.3 103.9,412.2 105.2,407 102.3,398.1 101.9,397.8 100.7,394 91.7,388.2 88.8,389.3 84.4,386.4 81.5,387.5 79.2,386 73.5,388.2 71.2,386.8 59.6,391.3 58.9,393.8 56.1,395" fill="url(#u488)"/><polygon points="56.1,395 59,393.9 56.8,402.5" fill="url(#g489)" stroke="url(#g489)" stroke-width=".5"/><polygon points="56.1,395 56.8,402.5 53.9,403.6" fill="url(#g490)" stroke="url(#g490)" stroke-width=".5"/><polygon points="102.9,405.6 103.5,403 100.6,394.1" fill="url(#g491)" stroke="url(#g491)" stroke-width=".5"/><polygon points="100,396.6 102.9,405.6 100.6,394.1" fill="url(#g492)" stroke="url(#g492)" stroke-width=".5"/><polygon points="102.2,398.1 105.1,407 102.9,405.6" fill="url(#g493)" stroke="url(#g493)" stroke-width=".5"/><polygon points="102.2,398.1 102.9,405.6 100,396.6" fill="url(#g494)" stroke="url(#g494)" stroke-width=".5"/><polygon points="104.5,409.6 105.1,407 102.2,398.1" fill="url(#g495)" stroke="url(#g495)" stroke-width=".5"/><polygon points="54.8,410.2 57.7,399 55.5,397.5" fill="url(#g496)" stroke="url(#g496)" stroke-width=".5"/><polygon points="54.8,410.2 55.5,397.5 52.6,408.7" fill="url(#g497)" stroke="url(#g497)" stroke-width=".5"/><polygon points="101.6,400.7 104.5,409.6 102.2,398.1" fill="url(#g498)" stroke="url(#g498)" stroke-width=".5"/><polygon points="103.8,412.2 104.5,409.6 101.6,400.7" fill="url(#g499)" stroke="url(#g499)" stroke-width=".5"/><polygon points="100.9,413.3 103.8,412.2 101.6,400.7" fill="url(#g500)" stroke="url(#g500)" stroke-width=".5"/><polygon points="100.9,413.3 101.6,400.7 98.7,401.8" fill="url(#g501)" stroke="url(#g501)" stroke-width=".5"/><polygon points="56.4,414.2 59.3,403 57,401.6" fill="url(#g502)" stroke="url(#g502)" stroke-width=".5"/><polygon points="56.4,414.2 57,401.6 54.2,412.7" fill="url(#g503)" stroke="url(#g503)" stroke-width=".5"/><polygon points="98,404.3 100.9,413.3 98.7,401.8" fill="url(#g504)" stroke="url(#g504)" stroke-width=".5"/><polygon points="58.6,415.6 61.5,404.5 59.3,403" fill="url(#g505)" stroke="url(#g505)" stroke-width=".5"/><polygon points="58.6,415.6 59.3,403 56.4,414.2" fill="url(#g506)" stroke="url(#g506)" stroke-width=".5"/><polygon points="100.3,415.8 100.9,413.3 98,404.3" fill="url(#g507)" stroke="url(#g507)" stroke-width=".5"/><polygon points="97.4,416.9 100.3,415.8 98,404.3" fill="url(#g508)" stroke="url(#g508)" stroke-width=".5"/><polygon points="97.4,416.9 98,404.3 95.1,405.4" fill="url(#g509)" stroke="url(#g509)" stroke-width=".5"/><polygon points="60.9,417.1 63.7,405.9 61.5,404.5" fill="url(#g510)" stroke="url(#g510)" stroke-width=".5"/><polygon points="60.9,417.1 61.5,404.5 58.6,415.6" fill="url(#g511)" stroke="url(#g511)" stroke-width=".5"/><polygon points="94.5,418.1 97.4,416.9 95.1,405.4" fill="url(#g512)" stroke="url(#g512)" stroke-width=".5"/><polygon points="94.5,418.1 95.1,405.4 92.3,406.6" fill="url(#g513)" stroke="url(#g513)" stroke-width=".5"/><polygon points="63.1,418.5 66,407.4 63.7,405.9" fill="url(#g514)" stroke="url(#g514)" stroke-width=".5"/><polygon points="63.1,418.5 63.7,405.9 60.9,417.1" fill="url(#g515)" stroke="url(#g515)" stroke-width=".5"/><polygon points="68.2,418.9 71.1,407.7 68.9,406.3" fill="url(#g516)" stroke="url(#g516)" stroke-width=".5"/><polygon points="68.2,418.9 68.9,406.3 66,407.4" fill="url(#g517)" stroke="url(#g517)" stroke-width=".5"/><polygon points="91.6,419.2 94.5,418.1 92.3,406.6" fill="url(#g518)" stroke="url(#g518)" stroke-width=".5"/><polygon points="91.6,419.2 92.3,406.6 89.4,407.7" fill="url(#g519)" stroke="url(#g519)" stroke-width=".5"/><polygon points="83.6,419.9 86.5,408.8 84.2,407.3" fill="url(#g520)" stroke="url(#g520)" stroke-width=".5"/><polygon points="83.6,419.9 84.2,407.3 81.4,408.4" fill="url(#g521)" stroke="url(#g521)" stroke-width=".5"/><polygon points="65.3,420 68.2,418.9 66,407.4" fill="url(#g522)" stroke="url(#g522)" stroke-width=".5"/><polygon points="65.3,420 66,407.4 63.1,418.5" fill="url(#g523)" stroke="url(#g523)" stroke-width=".5"/><polygon points="88.7,420.3 91.6,419.2 89.4,407.7" fill="url(#g524)" stroke="url(#g524)" stroke-width=".5"/><polygon points="88.7,420.3 89.4,407.7 86.5,408.8" fill="url(#g525)" stroke="url(#g525)" stroke-width=".5"/><polygon points="70.5,420.3 73.3,409.2 71.1,407.7" fill="url(#g526)" stroke="url(#g526)" stroke-width=".5"/><polygon points="70.5,420.3 71.1,407.7 68.2,418.9" fill="url(#g527)" stroke="url(#g527)" stroke-width=".5"/><polygon points="75.6,420.7 78.5,409.5 76.2,408.1" fill="url(#g528)" stroke="url(#g528)" stroke-width=".5"/><polygon points="75.6,420.7 76.2,408.1 73.3,409.2" fill="url(#g529)" stroke="url(#g529)" stroke-width=".5"/><polygon points="80.7,421 83.6,419.9 81.4,408.4" fill="url(#g530)" stroke="url(#g530)" stroke-width=".5"/><polygon points="80.7,421 81.4,408.4 78.5,409.5" fill="url(#g531)" stroke="url(#g531)" stroke-width=".5"/><polygon points="85.8,421.4 88.7,420.3 86.5,408.8" fill="url(#g532)" stroke="url(#g532)" stroke-width=".5"/><polygon points="85.8,421.4 86.5,408.8 83.6,419.9" fill="url(#g533)" stroke="url(#g533)" stroke-width=".5"/><polygon points="72.7,421.8 75.6,420.7 73.3,409.2" fill="url(#g534)" stroke="url(#g534)" stroke-width=".5"/><polygon points="72.7,421.8 73.3,409.2 70.5,420.3" fill="url(#g535)" stroke="url(#g535)" stroke-width=".5"/><polygon points="77.8,422.1 80.7,421 78.5,409.5" fill="url(#g536)" stroke="url(#g536)" stroke-width=".5"/><polygon points="77.8,422.1 78.5,409.5 75.6,420.7" fill="url(#g537)" stroke="url(#g537)" stroke-width=".5"/><polygon points="55.4,397.5 57.6,399 57,401.6 66,407.4 68.9,406.3 73.3,409.2 76.2,408.1 78.5,409.6 84.2,407.4 86.5,408.8 98.1,404.4 98.7,401.8 101.6,400.7 102.3,398.1 100.1,396.6 100.7,394 91.7,388.2 88.8,389.3 84.4,386.4 81.5,387.5 79.2,386 73.5,388.2 71.2,386.8 59.6,391.3 58.9,393.8 56.1,394.9" fill="#eaba31"/><polygon points="206.2,419.1 208.4,420.6 207.8,423.1 219,430.4 221.9,429.3 226.4,432.2 229.3,431.1 231.5,432.6 237.3,430.4 239.6,431.8 254,426.3 254.7,423.7 257.6,422.6 258.9,417.4 256.9,415 257.3,413.4 254.4,409.9 245.4,404.1 242.5,405.2 238.1,402.3 235.2,403.4 232.9,401.9 227.2,404.1 224.9,402.7 213.3,407.1 211.1,410.3 209.8,410.8 207.5,413.9" fill="url(#u538)"/><polygon points="209.8,410.9 212.7,409.8 210.5,412.8" fill="url(#g539)" stroke="url(#g539)" stroke-width=".5"/><polygon points="209.8,410.9 210.5,412.8 207.6,413.9" fill="url(#g540)" stroke="url(#g540)" stroke-width=".5"/><polygon points="256.6,415.9 257.2,413.4 254.4,410" fill="url(#g541)" stroke="url(#g541)" stroke-width=".5"/><polygon points="206.9,416.5 209.8,410.9 207.6,413.9" fill="url(#g542)" stroke="url(#g542)" stroke-width=".5"/><polygon points="253.7,412.5 256.6,415.9 254.4,410" fill="url(#g543)" stroke="url(#g543)" stroke-width=".5"/><polygon points="209.2,413.4 209.8,410.9 206.9,416.5" fill="url(#g544)" stroke="url(#g544)" stroke-width=".5"/><polygon points="255.9,414 258.8,417.4 256.6,415.9" fill="url(#g545)" stroke="url(#g545)" stroke-width=".5"/><polygon points="255.9,414 256.6,415.9 253.7,412.5" fill="url(#g546)" stroke="url(#g546)" stroke-width=".5"/><polygon points="206.3,419.1 209.2,413.4 206.9,416.5" fill="url(#g547)" stroke="url(#g547)" stroke-width=".5"/><polygon points="258.2,420 258.8,417.4 255.9,414" fill="url(#g548)" stroke="url(#g548)" stroke-width=".5"/><polygon points="208.5,420.5 211.4,414.9 209.2,413.4" fill="url(#g549)" stroke="url(#g549)" stroke-width=".5"/><polygon points="208.5,420.5 209.2,413.4 206.3,419.1" fill="url(#g550)" stroke="url(#g550)" stroke-width=".5"/><polygon points="255.3,416.5 258.2,420 255.9,414" fill="url(#g551)" stroke="url(#g551)" stroke-width=".5"/><polygon points="210.8,417.5 211.4,414.9 208.5,420.5" fill="url(#g552)" stroke="url(#g552)" stroke-width=".5"/><polygon points="257.5,422.5 258.2,420 255.3,416.5" fill="url(#g553)" stroke="url(#g553)" stroke-width=".5"/><polygon points="207.9,423.1 210.8,417.5 208.5,420.5" fill="url(#g554)" stroke="url(#g554)" stroke-width=".5"/><polygon points="254.6,423.6 257.5,422.5 255.3,416.5" fill="url(#g555)" stroke="url(#g555)" stroke-width=".5"/><polygon points="254.6,423.6 255.3,416.5 252.4,417.7" fill="url(#g556)" stroke="url(#g556)" stroke-width=".5"/><polygon points="210.1,424.6 213,418.9 210.8,417.5" fill="url(#g557)" stroke="url(#g557)" stroke-width=".5"/><polygon points="210.1,424.6 210.8,417.5 207.9,423.1" fill="url(#g558)" stroke="url(#g558)" stroke-width=".5"/><polygon points="251.8,420.2 254.6,423.6 252.4,417.7" fill="url(#g559)" stroke="url(#g559)" stroke-width=".5"/><polygon points="212.3,426 215.2,420.4 213,418.9" fill="url(#g560)" stroke="url(#g560)" stroke-width=".5"/><polygon points="212.3,426 213,418.9 210.1,424.6" fill="url(#g561)" stroke="url(#g561)" stroke-width=".5"/><polygon points="254,426.2 254.6,423.6 251.8,420.2" fill="url(#g562)" stroke="url(#g562)" stroke-width=".5"/><polygon points="251.1,427.3 254,426.2 251.8,420.2" fill="url(#g563)" stroke="url(#g563)" stroke-width=".5"/><polygon points="251.1,427.3 251.8,420.2 248.9,421.3" fill="url(#g564)" stroke="url(#g564)" stroke-width=".5"/><polygon points="214.6,427.5 217.5,421.8 215.2,420.4" fill="url(#g565)" stroke="url(#g565)" stroke-width=".5"/><polygon points="214.6,427.5 215.2,420.4 212.3,426" fill="url(#g566)" stroke="url(#g566)" stroke-width=".5"/><polygon points="248.2,428.4 251.1,427.3 248.9,421.3" fill="url(#g567)" stroke="url(#g567)" stroke-width=".5"/><polygon points="248.2,428.4 248.9,421.3 246,422.4" fill="url(#g568)" stroke="url(#g568)" stroke-width=".5"/><polygon points="216.8,428.9 219.7,423.3 217.5,421.8" fill="url(#g569)" stroke="url(#g569)" stroke-width=".5"/><polygon points="216.8,428.9 217.5,421.8 214.6,427.5" fill="url(#g570)" stroke="url(#g570)" stroke-width=".5"/><polygon points="221.9,429.3 224.8,423.6 222.6,422.2" fill="url(#g571)" stroke="url(#g571)" stroke-width=".5"/><polygon points="221.9,429.3 222.6,422.2 219.7,423.3" fill="url(#g572)" stroke="url(#g572)" stroke-width=".5"/><polygon points="245.3,429.5 248.2,428.4 246,422.4" fill="url(#g573)" stroke="url(#g573)" stroke-width=".5"/><polygon points="245.3,429.5 246,422.4 243.1,423.5" fill="url(#g574)" stroke="url(#g574)" stroke-width=".5"/><polygon points="237.3,430.3 240.2,424.7 238,423.2" fill="url(#g575)" stroke="url(#g575)" stroke-width=".5"/><polygon points="237.3,430.3 238,423.2 235.1,424.3" fill="url(#g576)" stroke="url(#g576)" stroke-width=".5"/><polygon points="219.1,430.4 221.9,429.3 219.7,423.3" fill="url(#g577)" stroke="url(#g577)" stroke-width=".5"/><polygon points="219.1,430.4 219.7,423.3 216.8,428.9" fill="url(#g578)" stroke="url(#g578)" stroke-width=".5"/><polygon points="242.4,430.7 245.3,429.5 243.1,423.5" fill="url(#g579)" stroke="url(#g579)" stroke-width=".5"/><polygon points="242.4,430.7 243.1,423.5 240.2,424.7" fill="url(#g580)" stroke="url(#g580)" stroke-width=".5"/><polygon points="224.2,430.7 227.1,425.1 224.8,423.6" fill="url(#g581)" stroke="url(#g581)" stroke-width=".5"/><polygon points="224.2,430.7 224.8,423.6 221.9,429.3" fill="url(#g582)" stroke="url(#g582)" stroke-width=".5"/><polygon points="229.3,431.1 232.2,425.4 230,424" fill="url(#g583)" stroke="url(#g583)" stroke-width=".5"/><polygon points="229.3,431.1 230,424 227.1,425.1" fill="url(#g584)" stroke="url(#g584)" stroke-width=".5"/><polygon points="234.4,431.4 237.3,430.3 235.1,424.3" fill="url(#g585)" stroke="url(#g585)" stroke-width=".5"/><polygon points="234.4,431.4 235.1,424.3 232.2,425.4" fill="url(#g586)" stroke="url(#g586)" stroke-width=".5"/><polygon points="239.5,431.8 242.4,430.7 240.2,424.7" fill="url(#g587)" stroke="url(#g587)" stroke-width=".5"/><polygon points="239.5,431.8 240.2,424.7 237.3,430.3" fill="url(#g588)" stroke="url(#g588)" stroke-width=".5"/><polygon points="226.4,432.2 229.3,431.1 227.1,425.1" fill="url(#g589)" stroke="url(#g589)" stroke-width=".5"/><polygon points="226.4,432.2 227.1,425.1 224.2,430.7" fill="url(#g590)" stroke="url(#g590)" stroke-width=".5"/><polygon points="231.5,432.5 234.4,431.4 232.2,425.4" fill="url(#g591)" stroke="url(#g591)" stroke-width=".5"/><polygon points="231.5,432.5 232.2,425.4 229.3,431.1" fill="url(#g592)" stroke="url(#g592)" stroke-width=".5"/><polygon points="209.1,413.4 211.3,414.9 210.7,417.5 219.7,423.3 222.6,422.2 227,425.1 229.9,424 232.2,425.5 237.9,423.3 240.2,424.7 251.8,420.3 252.5,417.7 255.3,416.6 256,414 253.8,412.5 254.4,409.9 245.4,404.1 242.5,405.2 238.1,402.3 235.2,403.4 232.9,401.9 227.2,404.1 224.9,402.7 213.3,407.1 212.7,409.7 209.8,410.8" fill="#249fe6"/><polygon points="119.6,452.4 121.7,453.8 121.2,456.4 132.4,463.7 135.3,462.6 139.8,465.5 142.7,464.4 144.9,465.9 150.6,463.7 152.9,465.1 167.4,459.6 168.1,457 170.9,455.9 172.2,450.7 169.4,439.2 168.7,438.7 167.8,435.1 158.8,429.3 155.9,430.4 151.4,427.5 148.5,428.6 146.3,427.1 140.5,429.3 138.3,427.9 126.7,432.4 126,434.9 123.1,436 122.5,438.6" fill="url(#u593)"/><polygon points="123.2,436.1 126.1,435 123.8,446.1" fill="url(#g594)" stroke="url(#g594)" stroke-width=".5"/><polygon points="123.2,436.1 123.8,446.1 121,447.2" fill="url(#g595)" stroke="url(#g595)" stroke-width=".5"/><polygon points="170,449.2 170.6,446.7 167.7,435.2" fill="url(#g596)" stroke="url(#g596)" stroke-width=".5"/><polygon points="120.3,449.8 123.2,436.1 121,447.2" fill="url(#g597)" stroke="url(#g597)" stroke-width=".5"/><polygon points="167.1,437.7 170,449.2 167.7,435.2" fill="url(#g598)" stroke="url(#g598)" stroke-width=".5"/><polygon points="122.5,438.6 123.2,436.1 120.3,449.8" fill="url(#g599)" stroke="url(#g599)" stroke-width=".5"/><polygon points="169.3,439.2 172.2,450.7 170,449.2" fill="url(#g600)" stroke="url(#g600)" stroke-width=".5"/><polygon points="169.3,439.2 170,449.2 167.1,437.7" fill="url(#g601)" stroke="url(#g601)" stroke-width=".5"/><polygon points="119.6,452.4 122.5,438.6 120.3,449.8" fill="url(#g602)" stroke="url(#g602)" stroke-width=".5"/><polygon points="171.5,453.3 172.2,450.7 169.3,439.2" fill="url(#g603)" stroke="url(#g603)" stroke-width=".5"/><polygon points="121.9,453.8 124.8,440.1 122.5,438.6" fill="url(#g604)" stroke="url(#g604)" stroke-width=".5"/><polygon points="121.9,453.8 122.5,438.6 119.6,452.4" fill="url(#g605)" stroke="url(#g605)" stroke-width=".5"/><polygon points="168.7,441.7 171.5,453.3 169.3,439.2" fill="url(#g606)" stroke="url(#g606)" stroke-width=".5"/><polygon points="124.1,442.7 124.8,440.1 121.9,453.8" fill="url(#g607)" stroke="url(#g607)" stroke-width=".5"/><polygon points="170.9,455.8 171.5,453.3 168.7,441.7" fill="url(#g608)" stroke="url(#g608)" stroke-width=".5"/><polygon points="121.2,456.4 124.1,442.7 121.9,453.8" fill="url(#g609)" stroke="url(#g609)" stroke-width=".5"/><polygon points="168,456.9 170.9,455.8 168.7,441.7" fill="url(#g610)" stroke="url(#g610)" stroke-width=".5"/><polygon points="168,456.9 168.7,441.7 165.8,442.9" fill="url(#g611)" stroke="url(#g611)" stroke-width=".5"/><polygon points="123.5,457.9 126.4,444.1 124.1,442.7" fill="url(#g612)" stroke="url(#g612)" stroke-width=".5"/><polygon points="123.5,457.9 124.1,442.7 121.2,456.4" fill="url(#g613)" stroke="url(#g613)" stroke-width=".5"/><polygon points="165.1,445.4 168,456.9 165.8,442.9" fill="url(#g614)" stroke="url(#g614)" stroke-width=".5"/><polygon points="125.7,459.3 128.6,445.6 126.4,444.1" fill="url(#g615)" stroke="url(#g615)" stroke-width=".5"/><polygon points="125.7,459.3 126.4,444.1 123.5,457.9" fill="url(#g616)" stroke="url(#g616)" stroke-width=".5"/><polygon points="167.3,459.5 168,456.9 165.1,445.4" fill="url(#g617)" stroke="url(#g617)" stroke-width=".5"/><polygon points="164.5,460.6 167.3,459.5 165.1,445.4" fill="url(#g618)" stroke="url(#g618)" stroke-width=".5"/><polygon points="164.5,460.6 165.1,445.4 162.2,446.5" fill="url(#g619)" stroke="url(#g619)" stroke-width=".5"/><polygon points="127.9,460.8 130.8,447 128.6,445.6" fill="url(#g620)" stroke="url(#g620)" stroke-width=".5"/><polygon points="127.9,460.8 128.6,445.6 125.7,459.3" fill="url(#g621)" stroke="url(#g621)" stroke-width=".5"/><polygon points="161.6,461.7 164.5,460.6 162.2,446.5" fill="url(#g622)" stroke="url(#g622)" stroke-width=".5"/><polygon points="161.6,461.7 162.2,446.5 159.3,447.6" fill="url(#g623)" stroke="url(#g623)" stroke-width=".5"/><polygon points="130.2,462.2 133.1,448.5 130.8,447" fill="url(#g624)" stroke="url(#g624)" stroke-width=".5"/><polygon points="130.2,462.2 130.8,447 127.9,460.8" fill="url(#g625)" stroke="url(#g625)" stroke-width=".5"/><polygon points="135.3,462.6 138.2,448.8 136,447.4" fill="url(#g626)" stroke="url(#g626)" stroke-width=".5"/><polygon points="135.3,462.6 136,447.4 133.1,448.5" fill="url(#g627)" stroke="url(#g627)" stroke-width=".5"/><polygon points="158.7,462.8 161.6,461.7 159.3,447.6" fill="url(#g628)" stroke="url(#g628)" stroke-width=".5"/><polygon points="158.7,462.8 159.3,447.6 156.4,448.7" fill="url(#g629)" stroke="url(#g629)" stroke-width=".5"/><polygon points="150.7,463.6 153.6,449.9 151.3,448.4" fill="url(#g630)" stroke="url(#g630)" stroke-width=".5"/><polygon points="150.7,463.6 151.3,448.4 148.4,449.5" fill="url(#g631)" stroke="url(#g631)" stroke-width=".5"/><polygon points="132.4,463.7 135.3,462.6 133.1,448.5" fill="url(#g632)" stroke="url(#g632)" stroke-width=".5"/><polygon points="132.4,463.7 133.1,448.5 130.2,462.2" fill="url(#g633)" stroke="url(#g633)" stroke-width=".5"/><polygon points="155.8,464 158.7,462.8 156.4,448.7" fill="url(#g634)" stroke="url(#g634)" stroke-width=".5"/><polygon points="155.8,464 156.4,448.7 153.6,449.9" fill="url(#g635)" stroke="url(#g635)" stroke-width=".5"/><polygon points="137.5,464 140.4,450.3 138.2,448.8" fill="url(#g636)" stroke="url(#g636)" stroke-width=".5"/><polygon points="137.5,464 138.2,448.8 135.3,462.6" fill="url(#g637)" stroke="url(#g637)" stroke-width=".5"/><polygon points="142.7,464.4 145.5,450.6 143.3,449.2" fill="url(#g638)" stroke="url(#g638)" stroke-width=".5"/><polygon points="142.7,464.4 143.3,449.2 140.4,450.3" fill="url(#g639)" stroke="url(#g639)" stroke-width=".5"/><polygon points="147.8,464.7 150.7,463.6 148.4,449.5" fill="url(#g640)" stroke="url(#g640)" stroke-width=".5"/><polygon points="147.8,464.7 148.4,449.5 145.5,450.6" fill="url(#g641)" stroke="url(#g641)" stroke-width=".5"/><polygon points="152.9,465.1 155.8,464 153.6,449.9" fill="url(#g642)" stroke="url(#g642)" stroke-width=".5"/><polygon points="152.9,465.1 153.6,449.9 150.7,463.6" fill="url(#g643)" stroke="url(#g643)" stroke-width=".5"/><polygon points="139.8,465.5 142.7,464.4 140.4,450.3" fill="url(#g644)" stroke="url(#g644)" stroke-width=".5"/><polygon points="139.8,465.5 140.4,450.3 137.5,464" fill="url(#g645)" stroke="url(#g645)" stroke-width=".5"/><polygon points="144.9,465.8 147.8,464.7 145.5,450.6" fill="url(#g646)" stroke="url(#g646)" stroke-width=".5"/><polygon points="144.9,465.8 145.5,450.6 142.7,464.4" fill="url(#g647)" stroke="url(#g647)" stroke-width=".5"/><polygon points="122.5,438.6 124.7,440.1 124.1,442.7 133,448.5 136,447.4 140.4,450.3 143.3,449.2 145.5,450.7 151.3,448.5 153.6,449.9 165.1,445.5 165.8,442.9 168.7,441.8 169.4,439.2 167.1,437.7 167.8,435.1 158.8,429.3 155.9,430.4 151.4,427.5 148.5,428.6 146.3,427.1 140.5,429.3 138.3,427.9 126.7,432.3 126,434.9 123.1,436" fill="#f9fb15"/>
<path d="M27.6 404.4V388.2" fill="none" stroke="#606060" stroke-width="0.9"/><path d="M27.6 404.4L139.4 477.2L283.8 421.7M139.4 477.2l3.6 2.3M139.4 477.2l-4 1.5M211.6 449.4l3.6 2.3M83.5 440.8l-4 1.5M283.8 421.7l3.6 2.3M27.6 404.4l-4 1.5M27.6 404.4l-3.6 -2.3M27.6 396.3l-3.6 -2.3M27.6 388.2l-3.6 -2.3" fill="none" stroke="#262626" stroke-width="0.8"/>
<polygon points="365.1,402.8 476.2,475.5 620.8,419.3 509.7,346.6" fill="#3e26a8"/><polygon points="476.7,373.3 478.9,374.8 478.3,377.4 489.4,384.7 492.3,383.6 496.7,386.4 499.6,385.3 501.9,386.8 507.6,384.5 509.9,386 524.4,380.4 525.1,377.8 527.9,376.6 529.3,371.5 527.4,368.7 527.7,367.4 524.8,363.2 515.9,357.4 513,358.5 508.6,355.6 505.7,356.7 503.5,355.3 497.7,357.5 495.4,356.1 483.9,360.6 482.1,363.5 480.3,364.3 478.1,368.1" fill="url(#u648)"/><polygon points="480.3,364.3 483.2,363.2 481,367" fill="url(#g649)" stroke="url(#g649)" stroke-width=".5"/><polygon points="480.3,364.3 481,367 478.1,368.2" fill="url(#g650)" stroke="url(#g650)" stroke-width=".5"/><polygon points="527,370 527.7,367.4 524.8,363.2" fill="url(#g651)" stroke="url(#g651)" stroke-width=".5"/><polygon points="477.4,370.7 480.3,364.3 478.1,368.2" fill="url(#g652)" stroke="url(#g652)" stroke-width=".5"/><polygon points="524.1,365.8 527,370 524.8,363.2" fill="url(#g653)" stroke="url(#g653)" stroke-width=".5"/><polygon points="479.7,366.9 480.3,364.3 477.4,370.7" fill="url(#g654)" stroke="url(#g654)" stroke-width=".5"/><polygon points="526.3,367.3 529.2,371.5 527,370" fill="url(#g655)" stroke="url(#g655)" stroke-width=".5"/><polygon points="526.3,367.3 527,370 524.1,365.8" fill="url(#g656)" stroke="url(#g656)" stroke-width=".5"/><polygon points="476.8,373.3 479.7,366.9 477.4,370.7" fill="url(#g657)" stroke="url(#g657)" stroke-width=".5"/><polygon points="528.6,374 529.2,371.5 526.3,367.3" fill="url(#g658)" stroke="url(#g658)" stroke-width=".5"/><polygon points="479,374.8 481.9,368.3 479.7,366.9" fill="url(#g659)" stroke="url(#g659)" stroke-width=".5"/><polygon points="479,374.8 479.7,366.9 476.8,373.3" fill="url(#g660)" stroke="url(#g660)" stroke-width=".5"/><polygon points="525.7,369.9 528.6,374 526.3,367.3" fill="url(#g661)" stroke="url(#g661)" stroke-width=".5"/><polygon points="481.2,370.9 481.9,368.3 479,374.8" fill="url(#g662)" stroke="url(#g662)" stroke-width=".5"/><polygon points="527.9,376.6 528.6,374 525.7,369.9" fill="url(#g663)" stroke="url(#g663)" stroke-width=".5"/><polygon points="478.3,377.3 481.2,370.9 479,374.8" fill="url(#g664)" stroke="url(#g664)" stroke-width=".5"/><polygon points="525,377.7 527.9,376.6 525.7,369.9" fill="url(#g665)" stroke="url(#g665)" stroke-width=".5"/><polygon points="525,377.7 525.7,369.9 522.8,371" fill="url(#g666)" stroke="url(#g666)" stroke-width=".5"/><polygon points="480.5,378.8 483.4,372.4 481.2,370.9" fill="url(#g667)" stroke="url(#g667)" stroke-width=".5"/><polygon points="480.5,378.8 481.2,370.9 478.3,377.3" fill="url(#g668)" stroke="url(#g668)" stroke-width=".5"/><polygon points="522.1,373.6 525,377.7 522.8,371" fill="url(#g669)" stroke="url(#g669)" stroke-width=".5"/><polygon points="482.8,380.2 485.6,373.8 483.4,372.4" fill="url(#g670)" stroke="url(#g670)" stroke-width=".5"/><polygon points="482.8,380.2 483.4,372.4 480.5,378.8" fill="url(#g671)" stroke="url(#g671)" stroke-width=".5"/><polygon points="524.3,380.3 525,377.7 522.1,373.6" fill="url(#g672)" stroke="url(#g672)" stroke-width=".5"/><polygon points="521.4,381.4 524.3,380.3 522.1,373.6" fill="url(#g673)" stroke="url(#g673)" stroke-width=".5"/><polygon points="521.4,381.4 522.1,373.6 519.2,374.7" fill="url(#g674)" stroke="url(#g674)" stroke-width=".5"/><polygon points="485,381.7 487.9,375.3 485.6,373.8" fill="url(#g675)" stroke="url(#g675)" stroke-width=".5"/><polygon points="485,381.7 485.6,373.8 482.8,380.2" fill="url(#g676)" stroke="url(#g676)" stroke-width=".5"/><polygon points="518.6,382.6 521.4,381.4 519.2,374.7" fill="url(#g677)" stroke="url(#g677)" stroke-width=".5"/><polygon points="518.6,382.6 519.2,374.7 516.3,375.8" fill="url(#g678)" stroke="url(#g678)" stroke-width=".5"/><polygon points="487.2,383.2 490.1,376.7 487.9,375.3" fill="url(#g679)" stroke="url(#g679)" stroke-width=".5"/><polygon points="487.2,383.2 487.9,375.3 485,381.7" fill="url(#g680)" stroke="url(#g680)" stroke-width=".5"/><polygon points="492.3,383.5 495.2,377.1 493,375.6" fill="url(#g681)" stroke="url(#g681)" stroke-width=".5"/><polygon points="492.3,383.5 493,375.6 490.1,376.7" fill="url(#g682)" stroke="url(#g682)" stroke-width=".5"/><polygon points="515.7,383.7 518.6,382.6 516.3,375.8" fill="url(#g683)" stroke="url(#g683)" stroke-width=".5"/><polygon points="515.7,383.7 516.3,375.8 513.4,376.9" fill="url(#g684)" stroke="url(#g684)" stroke-width=".5"/><polygon points="507.7,384.5 510.5,378.1 508.3,376.6" fill="url(#g685)" stroke="url(#g685)" stroke-width=".5"/><polygon points="507.7,384.5 508.3,376.6 505.4,377.7" fill="url(#g686)" stroke="url(#g686)" stroke-width=".5"/><polygon points="489.4,384.6 492.3,383.5 490.1,376.7" fill="url(#g687)" stroke="url(#g687)" stroke-width=".5"/><polygon points="489.4,384.6 490.1,376.7 487.2,383.2" fill="url(#g688)" stroke="url(#g688)" stroke-width=".5"/><polygon points="512.8,384.8 515.7,383.7 513.4,376.9" fill="url(#g689)" stroke="url(#g689)" stroke-width=".5"/><polygon points="512.8,384.8 513.4,376.9 510.5,378.1" fill="url(#g690)" stroke="url(#g690)" stroke-width=".5"/><polygon points="494.5,384.9 497.4,378.5 495.2,377.1" fill="url(#g691)" stroke="url(#g691)" stroke-width=".5"/><polygon points="494.5,384.9 495.2,377.1 492.3,383.5" fill="url(#g692)" stroke="url(#g692)" stroke-width=".5"/><polygon points="499.6,385.3 502.5,378.9 500.3,377.4" fill="url(#g693)" stroke="url(#g693)" stroke-width=".5"/><polygon points="499.6,385.3 500.3,377.4 497.4,378.5" fill="url(#g694)" stroke="url(#g694)" stroke-width=".5"/><polygon points="504.8,385.6 507.7,384.5 505.4,377.7" fill="url(#g695)" stroke="url(#g695)" stroke-width=".5"/><polygon points="504.8,385.6 505.4,377.7 502.5,378.9" fill="url(#g696)" stroke="url(#g696)" stroke-width=".5"/><polygon points="509.9,385.9 512.8,384.8 510.5,378.1" fill="url(#g697)" stroke="url(#g697)" stroke-width=".5"/><polygon points="509.9,385.9 510.5,378.1 507.7,384.5" fill="url(#g698)" stroke="url(#g698)" stroke-width=".5"/><polygon points="496.8,386.4 499.6,385.3 497.4,378.5" fill="url(#g699)" stroke="url(#g699)" stroke-width=".5"/><polygon points="496.8,386.4 497.4,378.5 494.5,384.9" fill="url(#g700)" stroke="url(#g700)" stroke-width=".5"/><polygon points="501.9,386.7 504.8,385.6 502.5,378.9" fill="url(#g701)" stroke="url(#g701)" stroke-width=".5"/><polygon points="501.9,386.7 502.5,378.9 499.6,385.3" fill="url(#g702)" stroke="url(#g702)" stroke-width=".5"/><polygon points="479.6,366.9 481.8,368.4 481.2,371 490.1,376.8 493,375.7 497.4,378.6 500.3,377.5 502.5,378.9 508.3,376.7 510.6,378.1 522.1,373.6 522.8,371 525.7,369.9 526.4,367.3 524.2,365.8 524.8,363.2 515.9,357.4 513,358.5 508.6,355.6 505.7,356.7 503.5,355.3 497.7,357.5 495.4,356.1 483.9,360.6 483.2,363.1 480.3,364.3" fill="#24c1ae"/><polygon points="390,407 392.1,408.5 391.5,411.1 402.6,418.4 405.6,417.3 410,420.2 412.9,419.1 415.1,420.5 420.9,418.3 423.1,419.7 437.6,414.1 438.3,411.5 441.2,410.4 442.5,405.2 438.1,393.4 429.2,387.5 426.3,388.6 421.8,385.8 418.9,386.9 416.7,385.4 410.9,387.6 408.7,386.2 397.1,390.7 396.3,393.3 393.5,394.4 391.3,401.9" fill="url(#u703)"/><polygon points="393.6,394.5 396.5,393.3 394.2,400.7" fill="url(#g704)" stroke="url(#g704)" stroke-width=".5"/><polygon points="393.6,394.5 394.2,400.7 391.3,401.9" fill="url(#g705)" stroke="url(#g705)" stroke-width=".5"/><polygon points="440.3,403.7 440.9,401.1 438,393.4" fill="url(#g706)" stroke="url(#g706)" stroke-width=".5"/><polygon points="390.7,404.4 393.6,394.5 391.3,401.9" fill="url(#g707)" stroke="url(#g707)" stroke-width=".5"/><polygon points="437.4,396 440.3,403.7 438,393.4" fill="url(#g708)" stroke="url(#g708)" stroke-width=".5"/><polygon points="392.9,397 393.6,394.5 390.7,404.4" fill="url(#g709)" stroke="url(#g709)" stroke-width=".5"/><polygon points="439.6,397.4 442.5,405.2 440.3,403.7" fill="url(#g710)" stroke="url(#g710)" stroke-width=".5"/><polygon points="439.6,397.4 440.3,403.7 437.4,396" fill="url(#g711)" stroke="url(#g711)" stroke-width=".5"/><polygon points="390,407 392.9,397 390.7,404.4" fill="url(#g712)" stroke="url(#g712)" stroke-width=".5"/><polygon points="441.8,407.8 442.5,405.2 439.6,397.4" fill="url(#g713)" stroke="url(#g713)" stroke-width=".5"/><polygon points="392.2,408.5 395.1,398.5 392.9,397" fill="url(#g714)" stroke="url(#g714)" stroke-width=".5"/><polygon points="392.2,408.5 392.9,397 390,407" fill="url(#g715)" stroke="url(#g715)" stroke-width=".5"/><polygon points="438.9,400 441.8,407.8 439.6,397.4" fill="url(#g716)" stroke="url(#g716)" stroke-width=".5"/><polygon points="394.4,401.1 395.1,398.5 392.2,408.5" fill="url(#g717)" stroke="url(#g717)" stroke-width=".5"/><polygon points="441.1,410.3 441.8,407.8 438.9,400" fill="url(#g718)" stroke="url(#g718)" stroke-width=".5"/><polygon points="391.6,411.1 394.4,401.1 392.2,408.5" fill="url(#g719)" stroke="url(#g719)" stroke-width=".5"/><polygon points="438.2,411.5 441.1,410.3 438.9,400" fill="url(#g720)" stroke="url(#g720)" stroke-width=".5"/><polygon points="438.2,411.5 438.9,400 436,401.1" fill="url(#g721)" stroke="url(#g721)" stroke-width=".5"/><polygon points="393.8,412.5 396.7,402.5 394.4,401.1" fill="url(#g722)" stroke="url(#g722)" stroke-width=".5"/><polygon points="393.8,412.5 394.4,401.1 391.6,411.1" fill="url(#g723)" stroke="url(#g723)" stroke-width=".5"/><polygon points="435.4,403.7 438.2,411.5 436,401.1" fill="url(#g724)" stroke="url(#g724)" stroke-width=".5"/><polygon points="396,414 398.9,404 396.7,402.5" fill="url(#g725)" stroke="url(#g725)" stroke-width=".5"/><polygon points="396,414 396.7,402.5 393.8,412.5" fill="url(#g726)" stroke="url(#g726)" stroke-width=".5"/><polygon points="437.6,414 438.2,411.5 435.4,403.7" fill="url(#g727)" stroke="url(#g727)" stroke-width=".5"/><polygon points="434.7,415.2 437.6,414 435.4,403.7" fill="url(#g728)" stroke="url(#g728)" stroke-width=".5"/><polygon points="434.7,415.2 435.4,403.7 432.5,404.8" fill="url(#g729)" stroke="url(#g729)" stroke-width=".5"/><polygon points="398.2,415.4 401.1,405.4 398.9,404" fill="url(#g730)" stroke="url(#g730)" stroke-width=".5"/><polygon points="398.2,415.4 398.9,404 396,414" fill="url(#g731)" stroke="url(#g731)" stroke-width=".5"/><polygon points="431.8,416.3 434.7,415.2 432.5,404.8" fill="url(#g732)" stroke="url(#g732)" stroke-width=".5"/><polygon points="431.8,416.3 432.5,404.8 429.6,406" fill="url(#g733)" stroke="url(#g733)" stroke-width=".5"/><polygon points="400.4,416.9 403.3,406.9 401.1,405.4" fill="url(#g734)" stroke="url(#g734)" stroke-width=".5"/><polygon points="400.4,416.9 401.1,405.4 398.2,415.4" fill="url(#g735)" stroke="url(#g735)" stroke-width=".5"/><polygon points="405.6,417.2 408.4,407.2 406.2,405.8" fill="url(#g736)" stroke="url(#g736)" stroke-width=".5"/><polygon points="405.6,417.2 406.2,405.8 403.3,406.9" fill="url(#g737)" stroke="url(#g737)" stroke-width=".5"/><polygon points="428.9,417.4 431.8,416.3 429.6,406" fill="url(#g738)" stroke="url(#g738)" stroke-width=".5"/><polygon points="428.9,417.4 429.6,406 426.7,407.1" fill="url(#g739)" stroke="url(#g739)" stroke-width=".5"/><polygon points="420.9,418.2 423.8,408.2 421.6,406.8" fill="url(#g740)" stroke="url(#g740)" stroke-width=".5"/><polygon points="420.9,418.2 421.6,406.8 418.7,407.9" fill="url(#g741)" stroke="url(#g741)" stroke-width=".5"/><polygon points="402.7,418.3 405.6,417.2 403.3,406.9" fill="url(#g742)" stroke="url(#g742)" stroke-width=".5"/><polygon points="402.7,418.3 403.3,406.9 400.4,416.9" fill="url(#g743)" stroke="url(#g743)" stroke-width=".5"/><polygon points="426,418.5 428.9,417.4 426.7,407.1" fill="url(#g744)" stroke="url(#g744)" stroke-width=".5"/><polygon points="426,418.5 426.7,407.1 423.8,408.2" fill="url(#g745)" stroke="url(#g745)" stroke-width=".5"/><polygon points="407.8,418.7 410.7,408.7 408.4,407.2" fill="url(#g746)" stroke="url(#g746)" stroke-width=".5"/><polygon points="407.8,418.7 408.4,407.2 405.6,417.2" fill="url(#g747)" stroke="url(#g747)" stroke-width=".5"/><polygon points="412.9,419 415.8,409 413.6,407.5" fill="url(#g748)" stroke="url(#g748)" stroke-width=".5"/><polygon points="412.9,419 413.6,407.5 410.7,408.7" fill="url(#g749)" stroke="url(#g749)" stroke-width=".5"/><polygon points="418,419.3 420.9,418.2 418.7,407.9" fill="url(#g750)" stroke="url(#g750)" stroke-width=".5"/><polygon points="418,419.3 418.7,407.9 415.8,409" fill="url(#g751)" stroke="url(#g751)" stroke-width=".5"/><polygon points="423.1,419.7 426,418.5 423.8,408.2" fill="url(#g752)" stroke="url(#g752)" stroke-width=".5"/><polygon points="423.1,419.7 423.8,408.2 420.9,418.2" fill="url(#g753)" stroke="url(#g753)" stroke-width=".5"/><polygon points="410,420.1 412.9,419 410.7,408.7" fill="url(#g754)" stroke="url(#g754)" stroke-width=".5"/><polygon points="410,420.1 410.7,408.7 407.8,418.7" fill="url(#g755)" stroke="url(#g755)" stroke-width=".5"/><polygon points="415.1,420.4 418,419.3 415.8,409" fill="url(#g756)" stroke="url(#g756)" stroke-width=".5"/><polygon points="415.1,420.4 415.8,409 412.9,419" fill="url(#g757)" stroke="url(#g757)" stroke-width=".5"/><polygon points="392.8,397 395,398.5 394.4,401.1 403.3,406.9 406.2,405.8 410.7,408.7 413.6,407.6 415.8,409.1 421.5,406.8 423.8,408.3 435.4,403.8 436.1,401.2 439,400 439.6,397.4 437.4,395.9 438.1,393.4 429.2,387.5 426.3,388.6 421.8,385.8 418.9,386.9 416.7,385.4 410.9,387.6 408.7,386.2 397.1,390.7 396.4,393.3 393.5,394.4" fill="#d1bf27"/><polygon points="543.4,416.9 545.6,418.4 544.9,421 556.1,428.3 559,427.2 563.4,430.1 566.3,429 568.5,430.4 574.3,428.2 576.6,429.6 591,424 591.7,421.4 594.6,420.3 595.9,415.1 594,412.7 594.4,411 591.5,407.6 582.6,401.7 579.7,402.8 575.2,400 572.3,401.1 570.1,399.6 564.4,401.9 562.1,400.4 550.5,404.9 548.2,408.1 546.9,408.6 544.7,411.7" fill="url(#u758)"/><polygon points="547,408.7 549.9,407.5 547.7,410.6" fill="url(#g759)" stroke="url(#g759)" stroke-width=".5"/><polygon points="547,408.7 547.7,410.6 544.8,411.8" fill="url(#g760)" stroke="url(#g760)" stroke-width=".5"/><polygon points="593.7,413.6 594.3,411 591.5,407.6" fill="url(#g761)" stroke="url(#g761)" stroke-width=".5"/><polygon points="544.1,414.4 547,408.7 544.8,411.8" fill="url(#g762)" stroke="url(#g762)" stroke-width=".5"/><polygon points="590.8,410.2 593.7,413.6 591.5,407.6" fill="url(#g763)" stroke="url(#g763)" stroke-width=".5"/><polygon points="546.3,411.2 547,408.7 544.1,414.4" fill="url(#g764)" stroke="url(#g764)" stroke-width=".5"/><polygon points="593,411.6 595.9,415.1 593.7,413.6" fill="url(#g765)" stroke="url(#g765)" stroke-width=".5"/><polygon points="593,411.6 593.7,413.6 590.8,410.2" fill="url(#g766)" stroke="url(#g766)" stroke-width=".5"/><polygon points="543.4,416.9 546.3,411.2 544.1,414.4" fill="url(#g767)" stroke="url(#g767)" stroke-width=".5"/><polygon points="595.2,417.7 595.9,415.1 593,411.6" fill="url(#g768)" stroke="url(#g768)" stroke-width=".5"/><polygon points="545.6,418.4 548.5,412.7 546.3,411.2" fill="url(#g769)" stroke="url(#g769)" stroke-width=".5"/><polygon points="545.6,418.4 546.3,411.2 543.4,416.9" fill="url(#g770)" stroke="url(#g770)" stroke-width=".5"/><polygon points="592.3,414.2 595.2,417.7 593,411.6" fill="url(#g771)" stroke="url(#g771)" stroke-width=".5"/><polygon points="547.9,415.3 548.5,412.7 545.6,418.4" fill="url(#g772)" stroke="url(#g772)" stroke-width=".5"/><polygon points="594.6,420.2 595.2,417.7 592.3,414.2" fill="url(#g773)" stroke="url(#g773)" stroke-width=".5"/><polygon points="545,421 547.9,415.3 545.6,418.4" fill="url(#g774)" stroke="url(#g774)" stroke-width=".5"/><polygon points="591.7,421.4 594.6,420.2 592.3,414.2" fill="url(#g775)" stroke="url(#g775)" stroke-width=".5"/><polygon points="591.7,421.4 592.3,414.2 589.4,415.3" fill="url(#g776)" stroke="url(#g776)" stroke-width=".5"/><polygon points="547.2,422.4 550.1,416.7 547.9,415.3" fill="url(#g777)" stroke="url(#g777)" stroke-width=".5"/><polygon points="547.2,422.4 547.9,415.3 545,421" fill="url(#g778)" stroke="url(#g778)" stroke-width=".5"/><polygon points="588.8,417.9 591.7,421.4 589.4,415.3" fill="url(#g779)" stroke="url(#g779)" stroke-width=".5"/><polygon points="549.4,423.9 552.3,418.2 550.1,416.7" fill="url(#g780)" stroke="url(#g780)" stroke-width=".5"/><polygon points="549.4,423.9 550.1,416.7 547.2,422.4" fill="url(#g781)" stroke="url(#g781)" stroke-width=".5"/><polygon points="591,423.9 591.7,421.4 588.8,417.9" fill="url(#g782)" stroke="url(#g782)" stroke-width=".5"/><polygon points="588.1,425.1 591,423.9 588.8,417.9" fill="url(#g783)" stroke="url(#g783)" stroke-width=".5"/><polygon points="588.1,425.1 588.8,417.9 585.9,419" fill="url(#g784)" stroke="url(#g784)" stroke-width=".5"/><polygon points="551.6,425.3 554.5,419.6 552.3,418.2" fill="url(#g785)" stroke="url(#g785)" stroke-width=".5"/><polygon points="551.6,425.3 552.3,418.2 549.4,423.9" fill="url(#g786)" stroke="url(#g786)" stroke-width=".5"/><polygon points="585.2,426.2 588.1,425.1 585.9,419" fill="url(#g787)" stroke="url(#g787)" stroke-width=".5"/><polygon points="585.2,426.2 585.9,419 583,420.2" fill="url(#g788)" stroke="url(#g788)" stroke-width=".5"/><polygon points="553.9,426.8 556.8,421.1 554.5,419.6" fill="url(#g789)" stroke="url(#g789)" stroke-width=".5"/><polygon points="553.9,426.8 554.5,419.6 551.6,425.3" fill="url(#g790)" stroke="url(#g790)" stroke-width=".5"/><polygon points="559,427.1 561.9,421.4 559.6,420" fill="url(#g791)" stroke="url(#g791)" stroke-width=".5"/><polygon points="559,427.1 559.6,420 556.8,421.1" fill="url(#g792)" stroke="url(#g792)" stroke-width=".5"/><polygon points="582.3,427.3 585.2,426.2 583,420.2" fill="url(#g793)" stroke="url(#g793)" stroke-width=".5"/><polygon points="582.3,427.3 583,420.2 580.1,421.3" fill="url(#g794)" stroke="url(#g794)" stroke-width=".5"/><polygon points="574.3,428.1 577.2,422.4 575,421" fill="url(#g795)" stroke="url(#g795)" stroke-width=".5"/><polygon points="574.3,428.1 575,421 572.1,422.1" fill="url(#g796)" stroke="url(#g796)" stroke-width=".5"/><polygon points="556.1,428.2 559,427.1 556.8,421.1" fill="url(#g797)" stroke="url(#g797)" stroke-width=".5"/><polygon points="556.1,428.2 556.8,421.1 553.9,426.8" fill="url(#g798)" stroke="url(#g798)" stroke-width=".5"/><polygon points="579.4,428.4 582.3,427.3 580.1,421.3" fill="url(#g799)" stroke="url(#g799)" stroke-width=".5"/><polygon points="579.4,428.4 580.1,421.3 577.2,422.4" fill="url(#g800)" stroke="url(#g800)" stroke-width=".5"/><polygon points="561.2,428.6 564.1,422.9 561.9,421.4" fill="url(#g801)" stroke="url(#g801)" stroke-width=".5"/><polygon points="561.2,428.6 561.9,421.4 559,427.1" fill="url(#g802)" stroke="url(#g802)" stroke-width=".5"/><polygon points="566.3,428.9 569.2,423.2 567,421.8" fill="url(#g803)" stroke="url(#g803)" stroke-width=".5"/><polygon points="566.3,428.9 567,421.8 564.1,422.9" fill="url(#g804)" stroke="url(#g804)" stroke-width=".5"/><polygon points="571.4,429.2 574.3,428.1 572.1,422.1" fill="url(#g805)" stroke="url(#g805)" stroke-width=".5"/><polygon points="571.4,429.2 572.1,422.1 569.2,423.2" fill="url(#g806)" stroke="url(#g806)" stroke-width=".5"/><polygon points="576.5,429.6 579.4,428.4 577.2,422.4" fill="url(#g807)" stroke="url(#g807)" stroke-width=".5"/><polygon points="576.5,429.6 577.2,422.4 574.3,428.1" fill="url(#g808)" stroke="url(#g808)" stroke-width=".5"/><polygon points="563.4,430 566.3,428.9 564.1,422.9" fill="url(#g809)" stroke="url(#g809)" stroke-width=".5"/><polygon points="563.4,430 564.1,422.9 561.2,428.6" fill="url(#g810)" stroke="url(#g810)" stroke-width=".5"/><polygon points="568.5,430.3 571.4,429.2 569.2,423.2" fill="url(#g811)" stroke="url(#g811)" stroke-width=".5"/><polygon points="568.5,430.3 569.2,423.2 566.3,428.9" fill="url(#g812)" stroke="url(#g812)" stroke-width=".5"/><polygon points="546.3,411.2 548.5,412.7 547.8,415.3 556.7,421.1 559.6,420 564.1,422.9 567,421.8 569.2,423.3 575,421 577.2,422.5 588.8,418 589.5,415.4 592.4,414.2 593.1,411.6 590.9,410.1 591.5,407.6 582.6,401.7 579.7,402.8 575.2,400 572.3,401.1 570.1,399.6 564.4,401.9 562.1,400.4 550.5,404.9 549.8,407.5 546.9,408.6" fill="#2796eb"/><polygon points="456.6,450.6 458.8,452.1 458.2,454.7 469.3,462 472.2,460.9 476.6,463.8 479.5,462.7 481.8,464.1 487.5,461.9 489.8,463.3 504.3,457.7 505,455.1 507.8,454 509.2,448.8 506.3,439 505.8,438.7 504.7,435 495.8,429.2 492.9,430.3 488.5,427.4 485.6,428.5 483.4,427 477.6,429.3 475.3,427.8 463.8,432.3 463.1,434.9 460.2,436.1" fill="url(#u813)"/><polygon points="460.2,436.1 463.1,435 460.9,444.4" fill="url(#g814)" stroke="url(#g814)" stroke-width=".5"/><polygon points="460.2,436.1 460.9,444.4 458,445.5" fill="url(#g815)" stroke="url(#g815)" stroke-width=".5"/><polygon points="506.9,447.3 507.6,444.8 504.7,435" fill="url(#g816)" stroke="url(#g816)" stroke-width=".5"/><polygon points="457.3,448.1 460.2,436.1 458,445.5" fill="url(#g817)" stroke="url(#g817)" stroke-width=".5"/><polygon points="504,437.6 506.9,447.3 504.7,435" fill="url(#g818)" stroke="url(#g818)" stroke-width=".5"/><polygon points="459.6,438.7 460.2,436.1 457.3,448.1" fill="url(#g819)" stroke="url(#g819)" stroke-width=".5"/><polygon points="506.2,439.1 509.1,448.8 506.9,447.3" fill="url(#g820)" stroke="url(#g820)" stroke-width=".5"/><polygon points="506.2,439.1 506.9,447.3 504,437.6" fill="url(#g821)" stroke="url(#g821)" stroke-width=".5"/><polygon points="456.7,450.6 459.6,438.7 457.3,448.1" fill="url(#g822)" stroke="url(#g822)" stroke-width=".5"/><polygon points="508.5,451.4 509.1,448.8 506.2,439.1" fill="url(#g823)" stroke="url(#g823)" stroke-width=".5"/><polygon points="458.9,452.1 461.8,440.1 459.6,438.7" fill="url(#g824)" stroke="url(#g824)" stroke-width=".5"/><polygon points="458.9,452.1 459.6,438.7 456.7,450.6" fill="url(#g825)" stroke="url(#g825)" stroke-width=".5"/><polygon points="505.6,441.6 508.5,451.4 506.2,439.1" fill="url(#g826)" stroke="url(#g826)" stroke-width=".5"/><polygon points="461.1,442.7 461.8,440.1 458.9,452.1" fill="url(#g827)" stroke="url(#g827)" stroke-width=".5"/><polygon points="507.8,453.9 508.5,451.4 505.6,441.6" fill="url(#g828)" stroke="url(#g828)" stroke-width=".5"/><polygon points="458.2,454.7 461.1,442.7 458.9,452.1" fill="url(#g829)" stroke="url(#g829)" stroke-width=".5"/><polygon points="504.9,455.1 507.8,453.9 505.6,441.6" fill="url(#g830)" stroke="url(#g830)" stroke-width=".5"/><polygon points="504.9,455.1 505.6,441.6 502.7,442.8" fill="url(#g831)" stroke="url(#g831)" stroke-width=".5"/><polygon points="460.4,456.1 463.3,444.1 461.1,442.7" fill="url(#g832)" stroke="url(#g832)" stroke-width=".5"/><polygon points="460.4,456.1 461.1,442.7 458.2,454.7" fill="url(#g833)" stroke="url(#g833)" stroke-width=".5"/><polygon points="502,445.3 504.9,455.1 502.7,442.8" fill="url(#g834)" stroke="url(#g834)" stroke-width=".5"/><polygon points="462.7,457.6 465.5,445.6 463.3,444.1" fill="url(#g835)" stroke="url(#g835)" stroke-width=".5"/><polygon points="462.7,457.6 463.3,444.1 460.4,456.1" fill="url(#g836)" stroke="url(#g836)" stroke-width=".5"/><polygon points="504.2,457.6 504.9,455.1 502,445.3" fill="url(#g837)" stroke="url(#g837)" stroke-width=".5"/><polygon points="501.3,458.8 504.2,457.6 502,445.3" fill="url(#g838)" stroke="url(#g838)" stroke-width=".5"/><polygon points="501.3,458.8 502,445.3 499.1,446.5" fill="url(#g839)" stroke="url(#g839)" stroke-width=".5"/><polygon points="464.9,459 467.8,447.1 465.5,445.6" fill="url(#g840)" stroke="url(#g840)" stroke-width=".5"/><polygon points="464.9,459 465.5,445.6 462.7,457.6" fill="url(#g841)" stroke="url(#g841)" stroke-width=".5"/><polygon points="498.5,459.9 501.3,458.8 499.1,446.5" fill="url(#g842)" stroke="url(#g842)" stroke-width=".5"/><polygon points="498.5,459.9 499.1,446.5 496.2,447.6" fill="url(#g843)" stroke="url(#g843)" stroke-width=".5"/><polygon points="467.1,460.5 470,448.5 467.8,447.1" fill="url(#g844)" stroke="url(#g844)" stroke-width=".5"/><polygon points="467.1,460.5 467.8,447.1 464.9,459" fill="url(#g845)" stroke="url(#g845)" stroke-width=".5"/><polygon points="472.2,460.8 475.1,448.8 472.9,447.4" fill="url(#g846)" stroke="url(#g846)" stroke-width=".5"/><polygon points="472.2,460.8 472.9,447.4 470,448.5" fill="url(#g847)" stroke="url(#g847)" stroke-width=".5"/><polygon points="495.6,461 498.5,459.9 496.2,447.6" fill="url(#g848)" stroke="url(#g848)" stroke-width=".5"/><polygon points="495.6,461 496.2,447.6 493.3,448.7" fill="url(#g849)" stroke="url(#g849)" stroke-width=".5"/><polygon points="487.6,461.8 490.4,449.8 488.2,448.4" fill="url(#g850)" stroke="url(#g850)" stroke-width=".5"/><polygon points="487.6,461.8 488.2,448.4 485.3,449.5" fill="url(#g851)" stroke="url(#g851)" stroke-width=".5"/><polygon points="469.3,461.9 472.2,460.8 470,448.5" fill="url(#g852)" stroke="url(#g852)" stroke-width=".5"/><polygon points="469.3,461.9 470,448.5 467.1,460.5" fill="url(#g853)" stroke="url(#g853)" stroke-width=".5"/><polygon points="492.7,462.1 495.6,461 493.3,448.7" fill="url(#g854)" stroke="url(#g854)" stroke-width=".5"/><polygon points="492.7,462.1 493.3,448.7 490.4,449.8" fill="url(#g855)" stroke="url(#g855)" stroke-width=".5"/><polygon points="474.4,462.3 477.3,450.3 475.1,448.8" fill="url(#g856)" stroke="url(#g856)" stroke-width=".5"/><polygon points="474.4,462.3 475.1,448.8 472.2,460.8" fill="url(#g857)" stroke="url(#g857)" stroke-width=".5"/><polygon points="479.5,462.6 482.4,450.6 480.2,449.2" fill="url(#g858)" stroke="url(#g858)" stroke-width=".5"/><polygon points="479.5,462.6 480.2,449.2 477.3,450.3" fill="url(#g859)" stroke="url(#g859)" stroke-width=".5"/><polygon points="484.7,462.9 487.6,461.8 485.3,449.5" fill="url(#g860)" stroke="url(#g860)" stroke-width=".5"/><polygon points="484.7,462.9 485.3,449.5 482.4,450.6" fill="url(#g861)" stroke="url(#g861)" stroke-width=".5"/><polygon points="489.8,463.3 492.7,462.1 490.4,449.8" fill="url(#g862)" stroke="url(#g862)" stroke-width=".5"/><polygon points="489.8,463.3 490.4,449.8 487.6,461.8" fill="url(#g863)" stroke="url(#g863)" stroke-width=".5"/><polygon points="476.7,463.7 479.5,462.6 477.3,450.3" fill="url(#g864)" stroke="url(#g864)" stroke-width=".5"/><polygon points="476.7,463.7 477.3,450.3 474.4,462.3" fill="url(#g865)" stroke="url(#g865)" stroke-width=".5"/><polygon points="481.8,464.1 484.7,462.9 482.4,450.6" fill="url(#g866)" stroke="url(#g866)" stroke-width=".5"/><polygon points="481.8,464.1 482.4,450.6 479.5,462.6" fill="url(#g867)" stroke="url(#g867)" stroke-width=".5"/><polygon points="459.5,438.7 461.7,440.1 461.1,442.7 470,448.6 472.9,447.5 477.3,450.3 480.2,449.2 482.4,450.7 488.2,448.4 490.5,449.9 502,445.4 502.7,442.8 505.6,441.7 506.3,439.1 504.1,437.6 504.7,435 495.8,429.2 492.9,430.3 488.5,427.4 485.6,428.5 483.4,427 477.6,429.3 475.3,427.8 463.8,432.3 463.1,434.9 460.2,436.1" fill="#f5e327"/>
<path d="M365.1 402.8V390.4" fill="none" stroke="#606060" stroke-width="0.9"/><path d="M365.1 402.8L476.2 475.5L620.8 419.3M476.2 475.5l3.6 2.4M476.2 475.5l-4 1.6M548.5 447.4l3.6 2.4M420.6 439.1l-4 1.6M620.8 419.3l3.6 2.4M365.1 402.8l-4 1.6M365.1 402.8l-3.6 -2.4M365.1 394.8l-3.6 -2.4" fill="none" stroke="#262626" stroke-width="0.8"/>
<rect x="647.2" y="21.2" width="14.7" height="203" fill="url(#cb868)" stroke="#262626" stroke-width="0.6"/><text transform="translate(665.6 221.41) scale(0.937 1)" text-anchor="start" style="font-size:10.6px">0.2</text><text transform="translate(665.6 182.19) scale(0.937 1)" text-anchor="start" style="font-size:10.6px">0.3</text><text transform="translate(665.6 142.97) scale(0.937 1)" text-anchor="start" style="font-size:10.6px">0.4</text><text transform="translate(665.6 103.75) scale(0.937 1)" text-anchor="start" style="font-size:10.6px">0.5</text><text transform="translate(665.6 64.53) scale(0.937 1)" text-anchor="start" style="font-size:10.6px">0.6</text><text transform="translate(665.6 25.31) scale(0.937 1)" text-anchor="start" style="font-size:10.6px">0.7</text><path d="M661.9 217.6h-2.5M661.9 178.4h-2.5M661.9 139.2h-2.5M661.9 100h-2.5M661.9 60.7h-2.5M661.9 21.5h-2.5" stroke="#262626" stroke-width="0.6" fill="none"/>
<rect x="647.2" y="303.4" width="14.7" height="202.8" fill="url(#cb869)" stroke="#262626" stroke-width="0.6"/><text transform="translate(665.6 510.48) scale(0.937 1)" text-anchor="start" style="font-size:10.6px">0</text><text transform="translate(665.6 486.11) scale(0.937 1)" text-anchor="start" style="font-size:10.6px">0.01</text><text transform="translate(665.6 461.74) scale(0.937 1)" text-anchor="start" style="font-size:10.6px">0.02</text><text transform="translate(665.6 437.37) scale(0.937 1)" text-anchor="start" style="font-size:10.6px">0.03</text><text transform="translate(665.6 413.01) scale(0.937 1)" text-anchor="start" style="font-size:10.6px">0.04</text><text transform="translate(665.6 388.64) scale(0.937 1)" text-anchor="start" style="font-size:10.6px">0.05</text><text transform="translate(665.6 364.27) scale(0.937 1)" text-anchor="start" style="font-size:10.6px">0.06</text><text transform="translate(665.6 339.9) scale(0.937 1)" text-anchor="start" style="font-size:10.6px">0.07</text><text transform="translate(665.6 315.53) scale(0.937 1)" text-anchor="start" style="font-size:10.6px">0.08</text><path d="M661.9 506.7h-2.5M661.9 482.3h-2.5M661.9 457.9h-2.5M661.9 433.6h-2.5M661.9 409.2h-2.5M661.9 384.8h-2.5M661.9 360.5h-2.5M661.9 336.1h-2.5M661.9 311.7h-2.5" stroke="#262626" stroke-width="0.6" fill="none"/>
<text transform="translate(23.5 153.11) scale(0.96 1)" text-anchor="end" style="font-size:11.2px">0.2</text>
<text transform="translate(23.5 121.91) scale(0.96 1)" text-anchor="end" style="font-size:11.2px">0.4</text>
<text transform="translate(23.5 90.81) scale(0.96 1)" text-anchor="end" style="font-size:11.2px">0.6</text>
<text transform="translate(18.8 168.41) scale(0.96 1)" text-anchor="middle" style="font-size:11.2px">1</text>
<text transform="translate(69 203.61) scale(0.96 1)" text-anchor="middle" style="font-size:11.2px">0.5</text>
<text transform="translate(128.6 239.31) scale(0.96 1)" text-anchor="middle" style="font-size:11.2px">0</text>
<text transform="translate(148.5 240.51) scale(0.96 1)" text-anchor="middle" style="font-size:11.2px">0</text>
<text transform="translate(224.2 213.21) scale(0.96 1)" text-anchor="middle" style="font-size:11.2px">0.5</text>
<text transform="translate(290.8 186.01) scale(0.96 1)" text-anchor="middle" style="font-size:11.2px">1</text>
<text class="m" y="234.6"><tspan x="69.1" style="font-style:italic" textLength="6.6" lengthAdjust="spacingAndGlyphs">x</tspan><tspan x="75.8" dy="2.1" style="font-size:8px">2</tspan></text>
<text class="m" y="239.3"><tspan x="206.2" style="font-style:italic" textLength="6.6" lengthAdjust="spacingAndGlyphs">x</tspan><tspan x="212.9" dy="2.1" style="font-size:8px">1</tspan></text>
<text transform="translate(361.3 150.61) scale(0.96 1)" text-anchor="end" style="font-size:11.2px">0.2</text>
<text transform="translate(361.3 119.91) scale(0.96 1)" text-anchor="end" style="font-size:11.2px">0.4</text>
<text transform="translate(361.3 89.31) scale(0.96 1)" text-anchor="end" style="font-size:11.2px">0.6</text>
<text transform="translate(357.6 168.61) scale(0.96 1)" text-anchor="middle" style="font-size:11.2px">1</text>
<text transform="translate(407.6 203.71) scale(0.96 1)" text-anchor="middle" style="font-size:11.2px">0.5</text>
<text transform="translate(466.1 238.61) scale(0.96 1)" text-anchor="middle" style="font-size:11.2px">0</text>
<text transform="translate(486.2 239.61) scale(0.96 1)" text-anchor="middle" style="font-size:11.2px">0</text>
<text transform="translate(561 213.21) scale(0.96 1)" text-anchor="middle" style="font-size:11.2px">0.5</text>
<text transform="translate(627.1 185.91) scale(0.96 1)" text-anchor="middle" style="font-size:11.2px">1</text>
<text class="m" y="234.6"><tspan x="406.9" style="font-style:italic" textLength="6.6" lengthAdjust="spacingAndGlyphs">x</tspan><tspan x="413.6" dy="2.1" style="font-size:8px">2</tspan></text>
<text class="m" y="239.3"><tspan x="543.2" style="font-style:italic" textLength="6.6" lengthAdjust="spacingAndGlyphs">x</tspan><tspan x="549.9" dy="2.1" style="font-size:8px">1</tspan></text>
<text transform="translate(20.2 389.41) scale(0.96 1)" text-anchor="end" style="font-size:11.2px">0.1</text>
<text transform="translate(20.2 397.51) scale(0.96 1)" text-anchor="end" style="font-size:11.2px">0.05</text>
<text transform="translate(20.2 405.31) scale(0.96 1)" text-anchor="end" style="font-size:11.2px">0</text>
<text transform="translate(17.1 419.41) scale(0.96 1)" text-anchor="middle" style="font-size:11.2px">1</text>
<text transform="translate(67.8 455.31) scale(0.96 1)" text-anchor="middle" style="font-size:11.2px">0.5</text>
<text transform="translate(128.6 491.31) scale(0.96 1)" text-anchor="middle" style="font-size:11.2px">0</text>
<text transform="translate(148.7 493.01) scale(0.96 1)" text-anchor="middle" style="font-size:11.2px">0</text>
<text transform="translate(225.2 465.31) scale(0.96 1)" text-anchor="middle" style="font-size:11.2px">0.5</text>
<text transform="translate(293.3 437.51) scale(0.96 1)" text-anchor="middle" style="font-size:11.2px">1</text>
<text class="m" y="487.6"><tspan x="68.6" style="font-style:italic" textLength="6.6" lengthAdjust="spacingAndGlyphs">x</tspan><tspan x="75.3" dy="2.1" style="font-size:8px">2</tspan></text>
<text class="m" y="491.8"><tspan x="207" style="font-style:italic" textLength="6.6" lengthAdjust="spacingAndGlyphs">x</tspan><tspan x="213.7" dy="2.1" style="font-size:8px">1</tspan></text>
<text transform="translate(357.6 395.71) scale(0.96 1)" text-anchor="end" style="font-size:11.2px">0.05</text>
<text transform="translate(357.6 403.71) scale(0.96 1)" text-anchor="end" style="font-size:11.2px">0</text>
<text transform="translate(353.6 418.01) scale(0.96 1)" text-anchor="middle" style="font-size:11.2px">1</text>
<text transform="translate(404.6 454.11) scale(0.96 1)" text-anchor="middle" style="font-size:11.2px">0.5</text>
<text transform="translate(465.4 490.01) scale(0.96 1)" text-anchor="middle" style="font-size:11.2px">0</text>
<text transform="translate(485.5 491.31) scale(0.96 1)" text-anchor="middle" style="font-size:11.2px">0</text>
<text transform="translate(562.2 463.61) scale(0.96 1)" text-anchor="middle" style="font-size:11.2px">0.5</text>
<text transform="translate(630.8 436.11) scale(0.96 1)" text-anchor="middle" style="font-size:11.2px">1</text>
<text class="m" y="485.8"><tspan x="405.3" style="font-style:italic" textLength="6.6" lengthAdjust="spacingAndGlyphs">x</tspan><tspan x="412" dy="2.1" style="font-size:8px">2</tspan></text>
<text class="m" y="490.3"><tspan x="543.7" style="font-style:italic" textLength="6.6" lengthAdjust="spacingAndGlyphs">x</tspan><tspan x="550.4" dy="2.1" style="font-size:8px">1</tspan></text>
<text class="t" y="14.6"><tspan x="35.45" y="14.6" textLength="41.6">Exact</tspan> <tspan x="83.95" y="14.6" textLength="85">expectation</tspan> <tspan x="174.91" y="14.6" style="font-weight:bold;" textLength="12.9" lengthAdjust="spacingAndGlyphs">E</tspan><tspan x="187.42" y="15.4" style="font-size:20px;">[</tspan><tspan x="191.95" y="14.6" style="font-style:italic;" textLength="7.4" lengthAdjust="spacingAndGlyphs">ℓ</tspan><tspan x="199.52" y="15.4" style="font-size:20px;">(</tspan><tspan x="205.64" y="14.6" style="font-style:italic;" textLength="10.4" lengthAdjust="spacingAndGlyphs">ω</tspan><tspan x="217.24" y="14.6">,</tspan><tspan x="224.81" y="14.6" style="font-style:italic;" textLength="8.8" lengthAdjust="spacingAndGlyphs">x</tspan><tspan x="232.74" y="17.6" style="font-size:12px;">1</tspan><tspan x="241.54" y="14.6">,</tspan><tspan x="249.01" y="14.6" style="font-style:italic;" textLength="8.8" lengthAdjust="spacingAndGlyphs">x</tspan><tspan x="257.47" y="17.6" style="font-size:12px;">2</tspan><tspan x="264.56" y="15.4" style="font-size:20px;">)</tspan><tspan x="270.18" y="15.4" style="font-size:20px;">]</tspan></text><path d="M194.3 0.1h6" stroke="#000" stroke-width="0.8" fill="none"/>
<text class="t" y="14.5"><tspan x="356.35" y="14.5" textLength="74.2">Estimated</tspan> <tspan x="437.55" y="14.5" textLength="83">expectation</tspan> <tspan x="528.61" y="14.5" style="font-weight:bold;" textLength="12.9" lengthAdjust="spacingAndGlyphs">E</tspan><tspan x="541.12" y="15.3" style="font-size:20px;">[</tspan><tspan x="545.65" y="14.5" style="font-style:italic;" textLength="7.4" lengthAdjust="spacingAndGlyphs">ℓ</tspan><tspan x="553.22" y="15.3" style="font-size:20px;">(</tspan><tspan x="559.34" y="14.5" style="font-style:italic;" textLength="10.4" lengthAdjust="spacingAndGlyphs">ω</tspan><tspan x="570.94" y="14.5">,</tspan><tspan x="578.51" y="14.5" style="font-style:italic;" textLength="8.8" lengthAdjust="spacingAndGlyphs">x</tspan><tspan x="586.44" y="17.5" style="font-size:12px;">1</tspan><tspan x="595.24" y="14.5">,</tspan><tspan x="602.71" y="14.5" style="font-style:italic;" textLength="8.8" lengthAdjust="spacingAndGlyphs">x</tspan><tspan x="611.17" y="17.5" style="font-size:12px;">2</tspan><tspan x="618.26" y="15.3" style="font-size:20px;">)</tspan><tspan x="623.88" y="15.3" style="font-size:20px;">]</tspan></text>
<text class="t" y="326.4"><tspan x="41.35" y="326.4" textLength="40.9">Exact</tspan> <tspan x="89.85" y="326.4" textLength="59.5">variance</tspan> <tspan x="155.81" y="326.4" textLength="25.6">Var</tspan><tspan x="182.32" y="327.2" style="font-size:20px;">[</tspan><tspan x="186.85" y="326.4" style="font-style:italic;" textLength="7.4" lengthAdjust="spacingAndGlyphs">ℓ</tspan><tspan x="194.42" y="327.2" style="font-size:20px;">(</tspan><tspan x="200.54" y="326.4" style="font-style:italic;" textLength="10.4" lengthAdjust="spacingAndGlyphs">ω</tspan><tspan x="212.14" y="326.4">,</tspan><tspan x="219.71" y="326.4" style="font-style:italic;" textLength="8.8" lengthAdjust="spacingAndGlyphs">x</tspan><tspan x="227.64" y="329.4" style="font-size:12px;">1</tspan><tspan x="236.44" y="326.4">,</tspan><tspan x="243.91" y="326.4" style="font-style:italic;" textLength="8.8" lengthAdjust="spacingAndGlyphs">x</tspan><tspan x="252.37" y="329.4" style="font-size:12px;">2</tspan><tspan x="259.46" y="327.2" style="font-size:20px;">)</tspan><tspan x="265.08" y="327.2" style="font-size:20px;">]</tspan></text><path d="M189.2 311.9h6" stroke="#000" stroke-width="0.8" fill="none"/>
<text class="t" y="328.4"><tspan x="362.85" y="328.4" textLength="73.6">Estimated</tspan> <tspan x="442.55" y="328.4" textLength="60.1">variance</tspan> <tspan x="510.21" y="328.4" textLength="25.2">Var</tspan><tspan x="535.82" y="329.2" style="font-size:20px;">[</tspan><tspan x="540.35" y="328.4" style="font-style:italic;" textLength="7.4" lengthAdjust="spacingAndGlyphs">ℓ</tspan><tspan x="547.92" y="329.2" style="font-size:20px;">(</tspan><tspan x="554.04" y="328.4" style="font-style:italic;" textLength="10.4" lengthAdjust="spacingAndGlyphs">ω</tspan><tspan x="565.64" y="328.4">,</tspan><tspan x="573.21" y="328.4" style="font-style:italic;" textLength="8.8" lengthAdjust="spacingAndGlyphs">x</tspan><tspan x="581.14" y="331.4" style="font-size:12px;">1</tspan><tspan x="589.94" y="328.4">,</tspan><tspan x="597.41" y="328.4" style="font-style:italic;" textLength="8.8" lengthAdjust="spacingAndGlyphs">x</tspan><tspan x="605.87" y="331.4" style="font-size:12px;">2</tspan><tspan x="612.96" y="329.2" style="font-size:20px;">)</tspan><tspan x="618.58" y="329.2" style="font-size:20px;">]</tspan></text>
</svg>
</body></html>
